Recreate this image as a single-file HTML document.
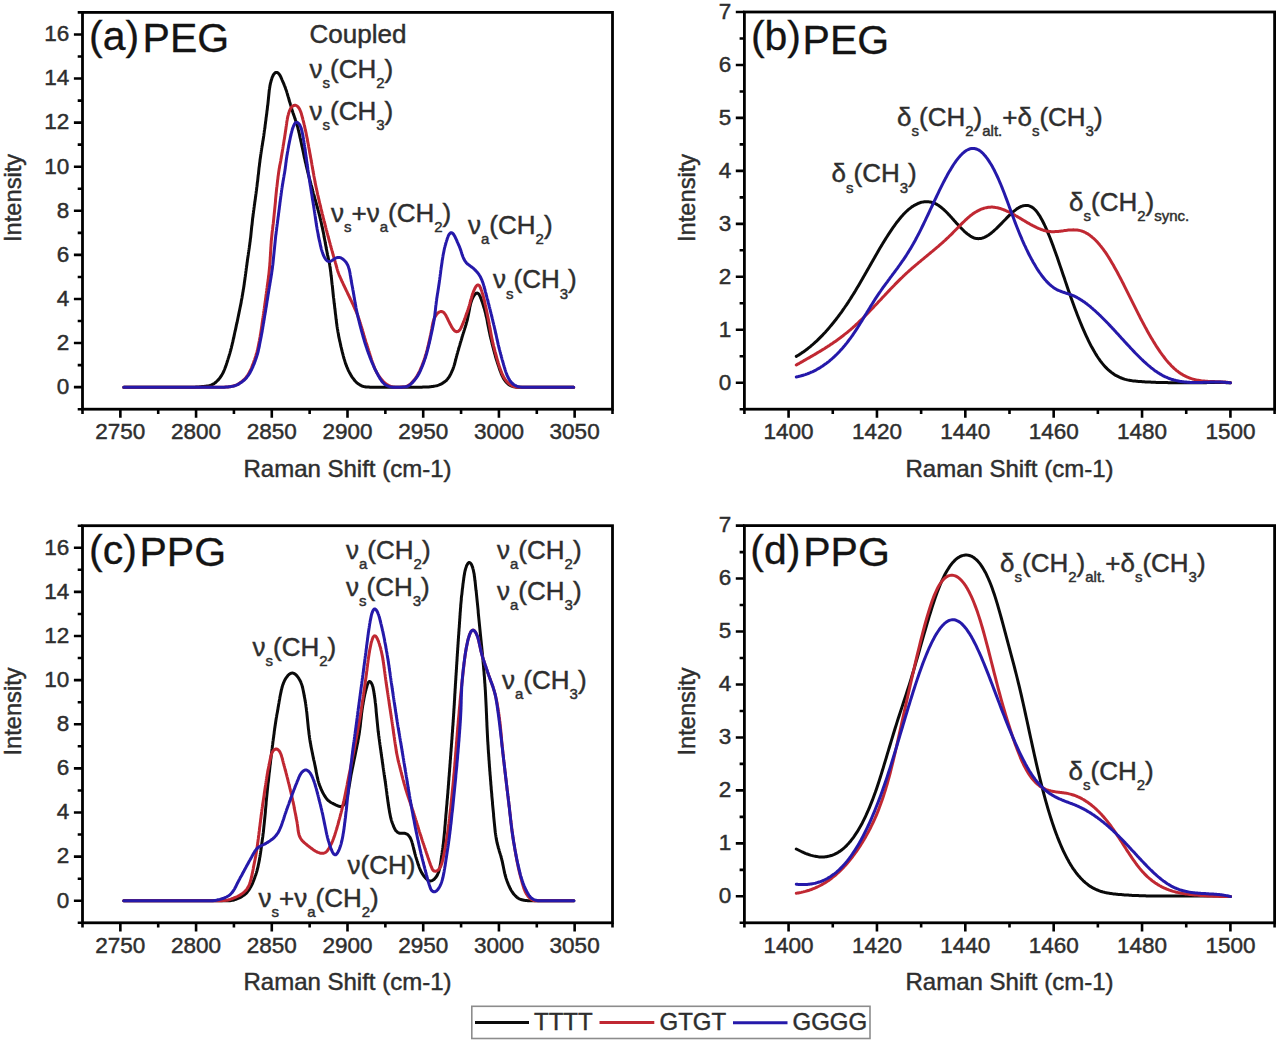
<!DOCTYPE html><html><head><meta charset="utf-8"><style>html,body{margin:0;padding:0;background:#fff;overflow:hidden}svg{display:block}text{font-family:"Liberation Sans", sans-serif;fill:#2e2e2e;stroke:#2e2e2e;stroke-width:0.45px} .tl{font-size:22.5px} .at{font-size:24px} .an{font-size:26px} .pl{font-size:41px;fill:#141414;stroke:#141414;stroke-width:0.3px}</style></head><body>
<svg width="1280" height="1042" viewBox="0 0 1280 1042">
<rect width="1280" height="1042" fill="#fff"/>
<path d="M82.50,409.20V414.00 M120.36,409.20V414.00 M158.21,409.20V414.00 M196.07,409.20V414.00 M233.93,409.20V414.00 M271.79,409.20V414.00 M309.64,409.20V414.00 M347.50,409.20V414.00 M385.36,409.20V414.00 M423.21,409.20V414.00 M461.07,409.20V414.00 M498.93,409.20V414.00 M536.79,409.20V414.00 M574.64,409.20V414.00 M612.50,409.20V414.00 M120.36,409.20V417.80 M196.07,409.20V417.80 M271.79,409.20V417.80 M347.50,409.20V417.80 M423.21,409.20V417.80 M498.93,409.20V417.80 M574.64,409.20V417.80 M82.50,409.20H77.70 M82.50,387.16H77.70 M82.50,365.11H77.70 M82.50,343.07H77.70 M82.50,321.02H77.70 M82.50,298.98H77.70 M82.50,276.93H77.70 M82.50,254.89H77.70 M82.50,232.84H77.70 M82.50,210.80H77.70 M82.50,188.76H77.70 M82.50,166.71H77.70 M82.50,144.67H77.70 M82.50,122.62H77.70 M82.50,100.58H77.70 M82.50,78.53H77.70 M82.50,56.49H77.70 M82.50,34.44H77.70 M82.50,12.40H77.70 M82.50,387.16H73.90 M82.50,343.07H73.90 M82.50,298.98H73.90 M82.50,254.89H73.90 M82.50,210.80H73.90 M82.50,166.71H73.90 M82.50,122.62H73.90 M82.50,78.53H73.90 M82.50,34.44H73.90" stroke="#000" stroke-width="2.6" fill="none"/>
<rect x="82.50" y="12.40" width="530.00" height="396.80" fill="none" stroke="#000" stroke-width="2.8"/>
<text x="120.36" y="439.20" text-anchor="middle" class="tl">2750</text>
<text x="196.07" y="439.20" text-anchor="middle" class="tl">2800</text>
<text x="271.79" y="439.20" text-anchor="middle" class="tl">2850</text>
<text x="347.50" y="439.20" text-anchor="middle" class="tl">2900</text>
<text x="423.21" y="439.20" text-anchor="middle" class="tl">2950</text>
<text x="498.93" y="439.20" text-anchor="middle" class="tl">3000</text>
<text x="574.64" y="439.20" text-anchor="middle" class="tl">3050</text>
<text x="69.20" y="393.96" text-anchor="end" class="tl">0</text>
<text x="69.20" y="349.87" text-anchor="end" class="tl">2</text>
<text x="69.20" y="305.78" text-anchor="end" class="tl">4</text>
<text x="69.20" y="261.69" text-anchor="end" class="tl">6</text>
<text x="69.20" y="217.60" text-anchor="end" class="tl">8</text>
<text x="69.20" y="173.51" text-anchor="end" class="tl">10</text>
<text x="69.20" y="129.42" text-anchor="end" class="tl">12</text>
<text x="69.20" y="85.33" text-anchor="end" class="tl">14</text>
<text x="69.20" y="41.24" text-anchor="end" class="tl">16</text>
<path d="M82.50,922.80V927.60 M120.36,922.80V927.60 M158.21,922.80V927.60 M196.07,922.80V927.60 M233.93,922.80V927.60 M271.79,922.80V927.60 M309.64,922.80V927.60 M347.50,922.80V927.60 M385.36,922.80V927.60 M423.21,922.80V927.60 M461.07,922.80V927.60 M498.93,922.80V927.60 M536.79,922.80V927.60 M574.64,922.80V927.60 M612.50,922.80V927.60 M120.36,922.80V931.40 M196.07,922.80V931.40 M271.79,922.80V931.40 M347.50,922.80V931.40 M423.21,922.80V931.40 M498.93,922.80V931.40 M574.64,922.80V931.40 M82.50,922.80H77.70 M82.50,900.74H77.70 M82.50,878.68H77.70 M82.50,856.62H77.70 M82.50,834.56H77.70 M82.50,812.49H77.70 M82.50,790.43H77.70 M82.50,768.37H77.70 M82.50,746.31H77.70 M82.50,724.25H77.70 M82.50,702.19H77.70 M82.50,680.13H77.70 M82.50,658.07H77.70 M82.50,636.01H77.70 M82.50,613.94H77.70 M82.50,591.88H77.70 M82.50,569.82H77.70 M82.50,547.76H77.70 M82.50,525.70H77.70 M82.50,900.74H73.90 M82.50,856.62H73.90 M82.50,812.49H73.90 M82.50,768.37H73.90 M82.50,724.25H73.90 M82.50,680.13H73.90 M82.50,636.01H73.90 M82.50,591.88H73.90 M82.50,547.76H73.90" stroke="#000" stroke-width="2.6" fill="none"/>
<rect x="82.50" y="525.70" width="530.00" height="397.10" fill="none" stroke="#000" stroke-width="2.8"/>
<text x="120.36" y="952.80" text-anchor="middle" class="tl">2750</text>
<text x="196.07" y="952.80" text-anchor="middle" class="tl">2800</text>
<text x="271.79" y="952.80" text-anchor="middle" class="tl">2850</text>
<text x="347.50" y="952.80" text-anchor="middle" class="tl">2900</text>
<text x="423.21" y="952.80" text-anchor="middle" class="tl">2950</text>
<text x="498.93" y="952.80" text-anchor="middle" class="tl">3000</text>
<text x="574.64" y="952.80" text-anchor="middle" class="tl">3050</text>
<text x="69.20" y="907.54" text-anchor="end" class="tl">0</text>
<text x="69.20" y="863.42" text-anchor="end" class="tl">2</text>
<text x="69.20" y="819.29" text-anchor="end" class="tl">4</text>
<text x="69.20" y="775.17" text-anchor="end" class="tl">6</text>
<text x="69.20" y="731.05" text-anchor="end" class="tl">8</text>
<text x="69.20" y="686.93" text-anchor="end" class="tl">10</text>
<text x="69.20" y="642.81" text-anchor="end" class="tl">12</text>
<text x="69.20" y="598.68" text-anchor="end" class="tl">14</text>
<text x="69.20" y="554.56" text-anchor="end" class="tl">16</text>
<path d="M744.40,409.20V414.00 M788.58,409.20V414.00 M832.77,409.20V414.00 M876.95,409.20V414.00 M921.13,409.20V414.00 M965.32,409.20V414.00 M1009.50,409.20V414.00 M1053.68,409.20V414.00 M1097.87,409.20V414.00 M1142.05,409.20V414.00 M1186.23,409.20V414.00 M1230.42,409.20V414.00 M1274.60,409.20V414.00 M788.58,409.20V417.80 M876.95,409.20V417.80 M965.32,409.20V417.80 M1053.68,409.20V417.80 M1142.05,409.20V417.80 M1230.42,409.20V417.80 M744.40,409.20H739.60 M744.40,382.72H739.60 M744.40,356.24H739.60 M744.40,329.76H739.60 M744.40,303.28H739.60 M744.40,276.80H739.60 M744.40,250.32H739.60 M744.40,223.84H739.60 M744.40,197.36H739.60 M744.40,170.88H739.60 M744.40,144.40H739.60 M744.40,117.92H739.60 M744.40,91.44H739.60 M744.40,64.96H739.60 M744.40,38.48H739.60 M744.40,12.00H739.60 M744.40,382.72H735.80 M744.40,329.76H735.80 M744.40,276.80H735.80 M744.40,223.84H735.80 M744.40,170.88H735.80 M744.40,117.92H735.80 M744.40,64.96H735.80 M744.40,12.00H735.80" stroke="#000" stroke-width="2.6" fill="none"/>
<rect x="744.40" y="12.00" width="530.20" height="397.20" fill="none" stroke="#000" stroke-width="2.8"/>
<text x="788.58" y="439.20" text-anchor="middle" class="tl">1400</text>
<text x="876.95" y="439.20" text-anchor="middle" class="tl">1420</text>
<text x="965.32" y="439.20" text-anchor="middle" class="tl">1440</text>
<text x="1053.68" y="439.20" text-anchor="middle" class="tl">1460</text>
<text x="1142.05" y="439.20" text-anchor="middle" class="tl">1480</text>
<text x="1230.42" y="439.20" text-anchor="middle" class="tl">1500</text>
<text x="731.20" y="389.52" text-anchor="end" class="tl">0</text>
<text x="731.20" y="336.56" text-anchor="end" class="tl">1</text>
<text x="731.20" y="283.60" text-anchor="end" class="tl">2</text>
<text x="731.20" y="230.64" text-anchor="end" class="tl">3</text>
<text x="731.20" y="177.68" text-anchor="end" class="tl">4</text>
<text x="731.20" y="124.72" text-anchor="end" class="tl">5</text>
<text x="731.20" y="71.76" text-anchor="end" class="tl">6</text>
<text x="731.20" y="18.80" text-anchor="end" class="tl">7</text>
<path d="M744.40,922.80V927.60 M788.58,922.80V927.60 M832.77,922.80V927.60 M876.95,922.80V927.60 M921.13,922.80V927.60 M965.32,922.80V927.60 M1009.50,922.80V927.60 M1053.68,922.80V927.60 M1097.87,922.80V927.60 M1142.05,922.80V927.60 M1186.23,922.80V927.60 M1230.42,922.80V927.60 M1274.60,922.80V927.60 M788.58,922.80V931.40 M876.95,922.80V931.40 M965.32,922.80V931.40 M1053.68,922.80V931.40 M1142.05,922.80V931.40 M1230.42,922.80V931.40 M744.40,922.80H739.60 M744.40,896.32H739.60 M744.40,869.84H739.60 M744.40,843.36H739.60 M744.40,816.88H739.60 M744.40,790.40H739.60 M744.40,763.92H739.60 M744.40,737.44H739.60 M744.40,710.96H739.60 M744.40,684.48H739.60 M744.40,658.00H739.60 M744.40,631.52H739.60 M744.40,605.04H739.60 M744.40,578.56H739.60 M744.40,552.08H739.60 M744.40,525.60H739.60 M744.40,896.32H735.80 M744.40,843.36H735.80 M744.40,790.40H735.80 M744.40,737.44H735.80 M744.40,684.48H735.80 M744.40,631.52H735.80 M744.40,578.56H735.80 M744.40,525.60H735.80" stroke="#000" stroke-width="2.6" fill="none"/>
<rect x="744.40" y="525.60" width="530.20" height="397.20" fill="none" stroke="#000" stroke-width="2.8"/>
<text x="788.58" y="952.80" text-anchor="middle" class="tl">1400</text>
<text x="876.95" y="952.80" text-anchor="middle" class="tl">1420</text>
<text x="965.32" y="952.80" text-anchor="middle" class="tl">1440</text>
<text x="1053.68" y="952.80" text-anchor="middle" class="tl">1460</text>
<text x="1142.05" y="952.80" text-anchor="middle" class="tl">1480</text>
<text x="1230.42" y="952.80" text-anchor="middle" class="tl">1500</text>
<text x="731.20" y="903.12" text-anchor="end" class="tl">0</text>
<text x="731.20" y="850.16" text-anchor="end" class="tl">1</text>
<text x="731.20" y="797.20" text-anchor="end" class="tl">2</text>
<text x="731.20" y="744.24" text-anchor="end" class="tl">3</text>
<text x="731.20" y="691.28" text-anchor="end" class="tl">4</text>
<text x="731.20" y="638.32" text-anchor="end" class="tl">5</text>
<text x="731.20" y="585.36" text-anchor="end" class="tl">6</text>
<text x="731.20" y="532.40" text-anchor="end" class="tl">7</text>
<text x="347.5" y="476.6" text-anchor="middle" class="at">Raman Shift (cm-1)</text>
<text x="1009.5" y="476.6" text-anchor="middle" class="at">Raman Shift (cm-1)</text>
<text x="347.5" y="990.2" text-anchor="middle" class="at">Raman Shift (cm-1)</text>
<text x="1009.5" y="990.2" text-anchor="middle" class="at">Raman Shift (cm-1)</text>
<text transform="translate(21.3,197.9) rotate(-90)" x="0" y="0" text-anchor="middle" class="at" style="font-size:23.7px">Intensity</text>
<text transform="translate(694.9,197.9) rotate(-90)" x="0" y="0" text-anchor="middle" class="at" style="font-size:23.7px">Intensity</text>
<text transform="translate(21.3,711.5) rotate(-90)" x="0" y="0" text-anchor="middle" class="at" style="font-size:23.7px">Intensity</text>
<text transform="translate(694.9,711.5) rotate(-90)" x="0" y="0" text-anchor="middle" class="at" style="font-size:23.7px">Intensity</text>
<text x="89.0" y="49.6" class="pl">(a)</text>
<text x="142.6" y="52.0" class="pl">PEG</text>
<text x="750.9" y="49.9" class="pl">(b)</text>
<text x="802.6" y="53.6" class="pl">PEG</text>
<text x="89.0" y="563.8" class="pl">(c)</text>
<text x="139.5" y="566.2" class="pl">PPG</text>
<text x="750.3" y="563.8" class="pl">(d)</text>
<text x="803.2" y="566.2" class="pl">PPG</text>
<path d="M123.8,387.2 L124.4,387.2 L125.2,387.2 L126.1,387.2 L127.0,387.2 L128.0,387.2 L129.0,387.2 L130.0,387.2 L131.0,387.2 L132.0,387.2 L133.0,387.2 L134.0,387.2 L135.0,387.2 L136.0,387.2 L137.0,387.2 L138.0,387.2 L139.0,387.2 L140.0,387.2 L141.0,387.2 L142.0,387.2 L143.0,387.2 L144.0,387.2 L145.0,387.2 L146.0,387.2 L147.0,387.2 L148.0,387.2 L149.0,387.2 L150.0,387.2 L151.0,387.2 L152.0,387.2 L153.0,387.2 L154.0,387.2 L155.0,387.2 L156.0,387.2 L157.0,387.2 L158.0,387.2 L159.0,387.2 L160.0,387.2 L161.0,387.2 L162.0,387.2 L163.0,387.2 L164.0,387.2 L165.0,387.2 L166.0,387.2 L167.0,387.2 L168.0,387.2 L169.0,387.2 L170.0,387.2 L171.0,387.2 L172.0,387.2 L173.0,387.2 L174.0,387.2 L175.0,387.2 L176.0,387.2 L177.0,387.2 L178.0,387.2 L179.0,387.2 L180.0,387.2 L181.0,387.2 L182.0,387.2 L183.0,387.2 L184.0,387.2 L185.0,387.2 L186.0,387.2 L187.0,387.2 L188.0,387.2 L189.0,387.2 L190.0,387.2 L191.0,387.2 L192.0,387.2 L193.0,387.2 L194.0,387.2 L195.0,387.2 L196.0,387.1 L197.0,387.1 L198.0,387.0 L199.0,386.9 L200.0,386.8 L201.0,386.7 L202.0,386.6 L203.0,386.5 L204.0,386.4 L205.0,386.3 L205.9,386.2 L206.9,386.1 L207.9,386.0 L208.9,385.8 L209.9,385.5 L210.8,385.2 L211.7,384.9 L212.6,384.4 L213.5,383.9 L214.3,383.4 L215.1,382.8 L215.9,382.2 L216.6,381.5 L217.3,380.8 L218.0,380.1 L218.7,379.4 L219.3,378.6 L219.9,377.8 L220.5,377.0 L221.1,376.2 L221.6,375.3 L222.1,374.5 L222.6,373.6 L223.1,372.7 L223.5,371.8 L223.9,370.9 L224.3,370.0 L224.7,369.0 L225.0,368.1 L225.4,367.2 L225.7,366.2 L226.1,365.3 L226.4,364.3 L226.7,363.4 L227.0,362.5 L227.3,361.5 L227.6,360.5 L227.9,359.6 L228.2,358.6 L228.5,357.7 L228.8,356.7 L229.1,355.8 L229.4,354.8 L229.7,353.9 L230.0,352.9 L230.2,351.9 L230.5,351.0 L230.8,350.0 L231.0,349.0 L231.3,348.1 L231.5,347.1 L231.7,346.1 L232.0,345.2 L232.2,344.2 L232.4,343.2 L232.7,342.2 L232.9,341.3 L233.1,340.3 L233.3,339.3 L233.6,338.3 L233.8,337.4 L234.0,336.4 L234.2,335.4 L234.4,334.4 L234.6,333.5 L234.8,332.5 L235.0,331.5 L235.3,330.5 L235.5,329.5 L235.7,328.6 L235.9,327.6 L236.1,326.6 L236.3,325.6 L236.5,324.7 L236.7,323.7 L237.0,322.7 L237.2,321.7 L237.4,320.7 L237.6,319.8 L237.8,318.8 L238.0,317.8 L238.2,316.8 L238.4,315.9 L238.6,314.9 L238.8,313.9 L239.0,312.9 L239.2,311.9 L239.4,311.0 L239.6,310.0 L239.8,309.0 L240.0,308.0 L240.2,307.0 L240.4,306.1 L240.6,305.1 L240.8,304.1 L241.0,303.1 L241.2,302.1 L241.3,301.1 L241.5,300.2 L241.7,299.2 L241.9,298.2 L242.1,297.2 L242.2,296.2 L242.4,295.2 L242.6,294.3 L242.7,293.3 L242.9,292.3 L243.1,291.3 L243.2,290.3 L243.4,289.3 L243.6,288.3 L243.7,287.3 L243.9,286.4 L244.0,285.4 L244.2,284.4 L244.3,283.4 L244.4,282.4 L244.6,281.4 L244.7,280.4 L244.9,279.4 L245.0,278.4 L245.1,277.4 L245.3,276.5 L245.4,275.5 L245.5,274.5 L245.7,273.5 L245.8,272.5 L245.9,271.5 L246.1,270.5 L246.2,269.5 L246.3,268.5 L246.5,267.5 L246.6,266.5 L246.7,265.6 L246.9,264.6 L247.0,263.6 L247.1,262.6 L247.3,261.6 L247.4,260.6 L247.5,259.6 L247.7,258.6 L247.8,257.6 L248.0,256.6 L248.1,255.7 L248.3,254.7 L248.4,253.7 L248.5,252.7 L248.7,251.7 L248.8,250.7 L249.0,249.7 L249.1,248.7 L249.3,247.7 L249.4,246.7 L249.5,245.8 L249.7,244.8 L249.8,243.8 L249.9,242.8 L250.1,241.8 L250.2,240.8 L250.3,239.8 L250.4,238.8 L250.6,237.8 L250.7,236.8 L250.8,235.8 L250.9,234.8 L251.0,233.8 L251.1,232.8 L251.2,231.9 L251.3,230.9 L251.4,229.9 L251.5,228.9 L251.6,227.9 L251.7,226.9 L251.8,225.9 L252.0,224.9 L252.1,223.9 L252.2,222.9 L252.3,221.9 L252.4,220.9 L252.5,219.9 L252.6,218.9 L252.7,217.9 L252.9,216.9 L253.0,216.0 L253.1,215.0 L253.2,214.0 L253.4,213.0 L253.5,212.0 L253.6,211.0 L253.8,210.0 L253.9,209.0 L254.0,208.0 L254.2,207.0 L254.3,206.0 L254.4,205.0 L254.6,204.1 L254.7,203.1 L254.8,202.1 L255.0,201.1 L255.1,200.1 L255.3,199.1 L255.4,198.1 L255.5,197.1 L255.7,196.1 L255.8,195.1 L255.9,194.2 L256.1,193.2 L256.2,192.2 L256.3,191.2 L256.5,190.2 L256.6,189.2 L256.7,188.2 L256.8,187.2 L257.0,186.2 L257.1,185.2 L257.2,184.2 L257.3,183.2 L257.4,182.2 L257.6,181.3 L257.7,180.3 L257.8,179.3 L257.9,178.3 L258.0,177.3 L258.1,176.3 L258.2,175.3 L258.4,174.3 L258.5,173.3 L258.6,172.3 L258.7,171.3 L258.8,170.3 L258.9,169.3 L259.0,168.3 L259.1,167.3 L259.3,166.4 L259.4,165.4 L259.5,164.4 L259.6,163.4 L259.8,162.4 L259.9,161.4 L260.0,160.4 L260.1,159.4 L260.3,158.4 L260.4,157.4 L260.6,156.4 L260.7,155.4 L260.8,154.5 L261.0,153.5 L261.1,152.5 L261.3,151.5 L261.4,150.5 L261.6,149.5 L261.7,148.5 L261.9,147.5 L262.0,146.5 L262.2,145.6 L262.4,144.6 L262.5,143.6 L262.7,142.6 L262.8,141.6 L263.0,140.6 L263.2,139.6 L263.3,138.6 L263.5,137.7 L263.6,136.7 L263.8,135.7 L263.9,134.7 L264.0,133.7 L264.2,132.7 L264.3,131.7 L264.4,130.7 L264.6,129.7 L264.7,128.7 L264.9,127.8 L265.0,126.8 L265.1,125.8 L265.2,124.8 L265.4,123.8 L265.5,122.8 L265.6,121.8 L265.8,120.8 L265.9,119.8 L266.0,118.8 L266.1,117.8 L266.3,116.8 L266.4,115.9 L266.5,114.9 L266.7,113.9 L266.8,112.9 L266.9,111.9 L267.0,110.9 L267.2,109.9 L267.3,108.9 L267.4,107.9 L267.5,106.9 L267.6,105.9 L267.8,104.9 L267.9,103.9 L268.0,103.0 L268.1,102.0 L268.2,101.0 L268.3,100.0 L268.4,99.0 L268.5,98.0 L268.6,97.0 L268.7,96.0 L268.8,95.0 L268.9,94.0 L269.0,93.0 L269.1,92.0 L269.2,91.0 L269.3,90.0 L269.5,89.0 L269.6,88.0 L269.8,87.1 L269.9,86.1 L270.1,85.1 L270.3,84.1 L270.5,83.1 L270.8,82.2 L271.0,81.2 L271.3,80.2 L271.6,79.3 L271.9,78.3 L272.2,77.4 L272.6,76.5 L273.1,75.6 L273.5,74.7 L274.1,73.9 L274.7,73.2 L275.3,72.7 L276.1,72.4 L276.8,72.4 L277.6,72.7 L278.3,73.2 L278.9,73.8 L279.5,74.6 L280.0,75.4 L280.5,76.3 L280.9,77.2 L281.3,78.1 L281.7,79.0 L282.1,80.0 L282.5,80.9 L282.9,81.8 L283.3,82.7 L283.7,83.6 L284.1,84.6 L284.4,85.5 L284.8,86.4 L285.2,87.4 L285.5,88.3 L285.8,89.2 L286.2,90.2 L286.5,91.1 L286.8,92.1 L287.1,93.1 L287.4,94.0 L287.6,95.0 L287.9,95.9 L288.2,96.9 L288.5,97.8 L288.8,98.8 L289.0,99.8 L289.3,100.7 L289.6,101.7 L289.9,102.6 L290.2,103.6 L290.5,104.6 L290.8,105.5 L291.1,106.5 L291.4,107.4 L291.6,108.4 L291.9,109.3 L292.2,110.3 L292.5,111.2 L292.8,112.2 L293.1,113.2 L293.4,114.1 L293.8,115.1 L294.1,116.0 L294.4,116.9 L294.7,117.9 L295.1,118.8 L295.4,119.8 L295.7,120.7 L296.0,121.7 L296.4,122.6 L296.7,123.6 L296.9,124.5 L297.2,125.5 L297.5,126.5 L297.8,127.4 L298.0,128.4 L298.2,129.4 L298.5,130.3 L298.7,131.3 L298.9,132.3 L299.2,133.2 L299.4,134.2 L299.6,135.2 L299.8,136.2 L300.0,137.2 L300.2,138.1 L300.5,139.1 L300.7,140.1 L300.9,141.1 L301.1,142.0 L301.3,143.0 L301.5,144.0 L301.7,145.0 L301.9,145.9 L302.1,146.9 L302.4,147.9 L302.6,148.9 L302.8,149.9 L303.0,150.8 L303.2,151.8 L303.4,152.8 L303.6,153.8 L303.8,154.8 L304.0,155.7 L304.2,156.7 L304.4,157.7 L304.7,158.7 L304.9,159.6 L305.1,160.6 L305.3,161.6 L305.5,162.6 L305.8,163.5 L306.0,164.5 L306.2,165.5 L306.4,166.5 L306.7,167.4 L306.9,168.4 L307.1,169.4 L307.4,170.4 L307.6,171.3 L307.8,172.3 L308.1,173.3 L308.3,174.2 L308.6,175.2 L308.8,176.2 L309.1,177.1 L309.3,178.1 L309.6,179.1 L309.8,180.0 L310.1,181.0 L310.3,182.0 L310.6,182.9 L310.9,183.9 L311.1,184.9 L311.4,185.8 L311.7,186.8 L311.9,187.8 L312.2,188.7 L312.4,189.7 L312.7,190.7 L313.0,191.6 L313.2,192.6 L313.5,193.6 L313.8,194.5 L314.0,195.5 L314.3,196.4 L314.6,197.4 L314.8,198.4 L315.1,199.3 L315.4,200.3 L315.6,201.3 L315.9,202.2 L316.2,203.2 L316.4,204.2 L316.7,205.1 L317.0,206.1 L317.2,207.0 L317.5,208.0 L317.8,209.0 L318.0,209.9 L318.3,210.9 L318.5,211.9 L318.8,212.8 L319.1,213.8 L319.3,214.8 L319.6,215.7 L319.8,216.7 L320.0,217.7 L320.3,218.7 L320.5,219.6 L320.7,220.6 L321.0,221.6 L321.2,222.5 L321.4,223.5 L321.6,224.5 L321.8,225.5 L322.0,226.5 L322.3,227.4 L322.5,228.4 L322.7,229.4 L322.9,230.4 L323.1,231.3 L323.3,232.3 L323.5,233.3 L323.7,234.3 L323.9,235.3 L324.0,236.3 L324.2,237.2 L324.4,238.2 L324.6,239.2 L324.8,240.2 L325.0,241.2 L325.2,242.1 L325.3,243.1 L325.5,244.1 L325.7,245.1 L325.9,246.1 L326.1,247.1 L326.2,248.1 L326.4,249.0 L326.6,250.0 L326.8,251.0 L327.0,252.0 L327.2,253.0 L327.3,253.9 L327.5,254.9 L327.8,255.9 L328.0,256.9 L328.2,257.9 L328.4,258.8 L328.6,259.8 L328.9,260.8 L329.1,261.8 L329.3,262.7 L329.5,263.7 L329.7,264.7 L329.8,265.7 L330.0,266.7 L330.1,267.7 L330.3,268.6 L330.4,269.6 L330.5,270.6 L330.7,271.6 L330.8,272.6 L330.9,273.6 L331.0,274.6 L331.1,275.6 L331.3,276.6 L331.4,277.6 L331.5,278.6 L331.6,279.6 L331.7,280.6 L331.8,281.6 L331.9,282.6 L332.0,283.5 L332.1,284.5 L332.3,285.5 L332.4,286.5 L332.5,287.5 L332.6,288.5 L332.7,289.5 L332.8,290.5 L332.9,291.5 L333.0,292.5 L333.1,293.5 L333.2,294.5 L333.3,295.5 L333.4,296.5 L333.5,297.5 L333.7,298.5 L333.8,299.4 L333.9,300.4 L334.0,301.4 L334.1,302.4 L334.2,303.4 L334.4,304.4 L334.5,305.4 L334.6,306.4 L334.7,307.4 L334.8,308.4 L335.0,309.4 L335.1,310.4 L335.2,311.4 L335.3,312.4 L335.4,313.4 L335.5,314.3 L335.7,315.3 L335.8,316.3 L335.9,317.3 L336.0,318.3 L336.1,319.3 L336.3,320.3 L336.4,321.3 L336.5,322.3 L336.6,323.3 L336.8,324.3 L336.9,325.3 L337.0,326.2 L337.2,327.2 L337.3,328.2 L337.5,329.2 L337.7,330.2 L337.8,331.2 L338.0,332.2 L338.2,333.2 L338.4,334.1 L338.5,335.1 L338.7,336.1 L338.9,337.1 L339.1,338.1 L339.3,339.0 L339.5,340.0 L339.7,341.0 L340.0,342.0 L340.2,343.0 L340.4,343.9 L340.6,344.9 L340.8,345.9 L341.0,346.9 L341.3,347.8 L341.5,348.8 L341.7,349.8 L342.0,350.8 L342.2,351.7 L342.5,352.7 L342.7,353.7 L343.0,354.6 L343.2,355.6 L343.5,356.6 L343.7,357.5 L344.0,358.5 L344.3,359.4 L344.6,360.4 L344.9,361.4 L345.2,362.3 L345.5,363.3 L345.8,364.2 L346.2,365.1 L346.5,366.1 L346.9,367.0 L347.3,367.9 L347.7,368.8 L348.1,369.8 L348.5,370.7 L349.0,371.6 L349.4,372.4 L349.9,373.3 L350.4,374.2 L350.9,375.1 L351.4,375.9 L351.9,376.8 L352.5,377.6 L353.1,378.4 L353.7,379.2 L354.3,380.0 L354.9,380.8 L355.6,381.5 L356.3,382.2 L357.0,382.9 L357.8,383.5 L358.6,384.1 L359.4,384.6 L360.3,385.1 L361.1,385.6 L362.1,386.0 L363.0,386.3 L363.9,386.6 L364.9,386.8 L365.9,387.0 L366.9,387.1 L367.9,387.1 L368.9,387.1 L369.9,387.2 L370.9,387.2 L371.9,387.2 L372.9,387.2 L373.9,387.2 L374.9,387.2 L375.9,387.2 L376.9,387.2 L377.9,387.2 L378.9,387.2 L379.9,387.2 L380.9,387.2 L381.9,387.2 L382.9,387.2 L383.9,387.2 L384.9,387.2 L385.9,387.2 L386.9,387.2 L387.9,387.2 L388.9,387.2 L389.9,387.2 L390.9,387.2 L391.9,387.2 L392.9,387.2 L393.9,387.2 L394.9,387.2 L395.9,387.2 L396.9,387.2 L397.9,387.2 L398.9,387.2 L399.9,387.2 L400.9,387.2 L401.9,387.2 L402.9,387.2 L403.9,387.2 L404.9,387.2 L405.9,387.2 L406.9,387.2 L407.9,387.2 L408.9,387.2 L409.9,387.2 L410.9,387.2 L411.9,387.2 L412.9,387.2 L413.9,387.2 L414.9,387.2 L415.9,387.2 L416.9,387.2 L417.9,387.2 L418.9,387.2 L419.9,387.2 L420.9,387.2 L421.9,387.2 L422.9,387.1 L423.9,387.1 L424.9,387.1 L425.9,387.0 L426.9,387.0 L427.9,387.0 L428.9,386.9 L429.9,386.8 L430.9,386.7 L431.8,386.6 L432.8,386.5 L433.8,386.3 L434.8,386.1 L435.8,385.9 L436.7,385.7 L437.7,385.4 L438.6,385.1 L439.6,384.7 L440.5,384.3 L441.4,383.9 L442.2,383.4 L443.1,382.9 L443.9,382.3 L444.7,381.7 L445.5,381.1 L446.3,380.5 L446.9,379.7 L447.6,379.0 L448.2,378.2 L448.8,377.4 L449.3,376.6 L449.8,375.7 L450.3,374.8 L450.8,373.9 L451.2,373.0 L451.6,372.1 L452.0,371.2 L452.4,370.3 L452.8,369.4 L453.2,368.4 L453.5,367.5 L453.8,366.6 L454.1,365.6 L454.4,364.7 L454.7,363.7 L454.9,362.7 L455.2,361.8 L455.4,360.8 L455.7,359.8 L455.9,358.8 L456.2,357.9 L456.4,356.9 L456.7,355.9 L456.9,355.0 L457.2,354.0 L457.5,353.1 L457.7,352.1 L458.0,351.1 L458.3,350.2 L458.6,349.2 L458.8,348.2 L459.1,347.3 L459.4,346.3 L459.7,345.4 L460.0,344.4 L460.2,343.4 L460.5,342.5 L460.8,341.5 L461.1,340.6 L461.4,339.6 L461.7,338.7 L461.9,337.7 L462.2,336.7 L462.5,335.8 L462.8,334.8 L463.1,333.9 L463.4,332.9 L463.7,332.0 L464.0,331.0 L464.3,330.1 L464.6,329.1 L464.9,328.1 L465.2,327.2 L465.5,326.2 L465.8,325.3 L466.1,324.3 L466.3,323.4 L466.6,322.4 L466.9,321.4 L467.1,320.5 L467.4,319.5 L467.6,318.5 L467.8,317.5 L468.0,316.6 L468.2,315.6 L468.4,314.6 L468.6,313.6 L468.8,312.6 L469.0,311.7 L469.2,310.7 L469.4,309.7 L469.6,308.7 L469.7,307.7 L469.9,306.7 L470.2,305.8 L470.4,304.8 L470.6,303.8 L470.9,302.9 L471.2,301.9 L471.5,301.0 L471.8,300.0 L472.2,299.1 L472.6,298.2 L473.0,297.3 L473.5,296.4 L474.0,295.6 L474.6,294.8 L475.2,294.1 L475.8,293.5 L476.5,293.2 L477.3,293.1 L478.0,293.4 L478.6,293.9 L479.2,294.6 L479.6,295.4 L480.1,296.3 L480.5,297.2 L480.8,298.2 L481.2,299.1 L481.5,300.0 L481.8,301.0 L482.2,301.9 L482.5,302.9 L482.8,303.8 L483.1,304.8 L483.4,305.7 L483.7,306.7 L484.0,307.7 L484.3,308.6 L484.6,309.6 L484.8,310.5 L485.1,311.5 L485.3,312.5 L485.6,313.4 L485.8,314.4 L486.0,315.4 L486.2,316.4 L486.5,317.3 L486.7,318.3 L486.9,319.3 L487.1,320.3 L487.3,321.3 L487.4,322.2 L487.6,323.2 L487.8,324.2 L488.0,325.2 L488.2,326.2 L488.4,327.1 L488.6,328.1 L488.8,329.1 L489.0,330.1 L489.2,331.1 L489.4,332.0 L489.6,333.0 L489.8,334.0 L490.0,335.0 L490.2,336.0 L490.5,336.9 L490.7,337.9 L490.9,338.9 L491.2,339.8 L491.4,340.8 L491.7,341.8 L491.9,342.8 L492.1,343.7 L492.4,344.7 L492.6,345.7 L492.9,346.6 L493.1,347.6 L493.4,348.6 L493.6,349.5 L493.9,350.5 L494.1,351.5 L494.4,352.4 L494.6,353.4 L494.9,354.4 L495.2,355.3 L495.4,356.3 L495.7,357.3 L496.0,358.2 L496.3,359.2 L496.6,360.1 L496.9,361.1 L497.2,362.0 L497.5,363.0 L497.8,363.9 L498.1,364.9 L498.4,365.8 L498.8,366.8 L499.1,367.7 L499.4,368.7 L499.7,369.6 L500.1,370.6 L500.4,371.5 L500.8,372.4 L501.1,373.4 L501.5,374.3 L501.9,375.2 L502.3,376.1 L502.8,377.0 L503.2,377.9 L503.7,378.8 L504.3,379.6 L504.8,380.4 L505.4,381.2 L506.1,382.0 L506.7,382.7 L507.5,383.4 L508.2,384.1 L509.0,384.7 L509.8,385.2 L510.7,385.7 L511.6,386.1 L512.5,386.4 L513.5,386.7 L514.4,386.9 L515.4,387.1 L516.4,387.2 L517.4,387.2 L518.4,387.2 L519.4,387.2 L520.4,387.2 L521.4,387.2 L522.4,387.2 L523.4,387.2 L524.4,387.2 L525.4,387.2 L526.4,387.2 L527.4,387.2 L528.4,387.2 L529.4,387.2 L530.4,387.2 L531.4,387.2 L532.4,387.2 L533.4,387.2 L534.4,387.2 L535.4,387.2 L536.4,387.2 L537.4,387.2 L538.4,387.2 L539.4,387.2 L540.4,387.2 L541.4,387.2 L542.4,387.2 L543.4,387.2 L544.4,387.2 L545.4,387.2 L546.4,387.2 L547.4,387.2 L548.4,387.2 L549.4,387.2 L550.4,387.2 L551.4,387.2 L552.4,387.2 L553.4,387.2 L554.4,387.2 L555.4,387.2 L556.4,387.2 L557.4,387.2 L558.4,387.2 L559.4,387.2 L560.4,387.2 L561.4,387.2 L562.4,387.2 L563.4,387.2 L564.4,387.2 L565.4,387.2 L566.4,387.2 L567.4,387.2 L568.4,387.2 L569.4,387.2 L570.4,387.2 L571.3,387.2 L572.2,387.2 L573.0,387.2 L573.6,387.2" fill="none" stroke="#0a0a0a" stroke-width="3.0" stroke-linejoin="round" stroke-linecap="round"/>
<path d="M123.8,387.2 L124.4,387.2 L125.2,387.2 L126.1,387.2 L127.0,387.2 L128.0,387.2 L129.0,387.2 L130.0,387.2 L131.0,387.2 L132.0,387.2 L133.0,387.2 L134.0,387.2 L135.0,387.2 L136.0,387.2 L137.0,387.2 L138.0,387.2 L139.0,387.2 L140.0,387.2 L141.0,387.2 L142.0,387.2 L143.0,387.2 L144.0,387.2 L145.0,387.2 L146.0,387.2 L147.0,387.2 L148.0,387.2 L149.0,387.2 L150.0,387.2 L151.0,387.2 L152.0,387.2 L153.0,387.2 L154.0,387.2 L155.0,387.2 L156.0,387.2 L157.0,387.2 L158.0,387.2 L159.0,387.2 L160.0,387.2 L161.0,387.2 L162.0,387.2 L163.0,387.2 L164.0,387.2 L165.0,387.2 L166.0,387.2 L167.0,387.2 L168.0,387.2 L169.0,387.2 L170.0,387.2 L171.0,387.2 L172.0,387.2 L173.0,387.2 L174.0,387.2 L175.0,387.2 L176.0,387.2 L177.0,387.2 L178.0,387.2 L179.0,387.2 L180.0,387.2 L181.0,387.2 L182.0,387.2 L183.0,387.2 L184.0,387.2 L185.0,387.2 L186.0,387.2 L187.0,387.2 L188.0,387.2 L189.0,387.2 L190.0,387.2 L191.0,387.2 L192.0,387.2 L193.0,387.2 L194.0,387.2 L195.0,387.2 L196.0,387.2 L197.0,387.2 L198.0,387.2 L199.0,387.2 L200.0,387.2 L201.0,387.2 L202.0,387.2 L203.0,387.2 L204.0,387.2 L205.0,387.2 L206.0,387.2 L207.0,387.2 L208.0,387.2 L209.0,387.2 L210.0,387.2 L211.0,387.2 L212.0,387.2 L213.0,387.2 L214.0,387.2 L215.0,387.2 L216.0,387.2 L217.0,387.2 L218.0,387.2 L219.0,387.2 L220.0,387.2 L221.0,387.2 L222.0,387.2 L223.0,387.2 L224.0,387.2 L225.0,387.1 L226.0,387.1 L227.0,387.0 L228.0,386.9 L229.0,386.8 L230.0,386.7 L231.0,386.5 L231.9,386.3 L232.9,386.1 L233.9,385.8 L234.8,385.5 L235.7,385.2 L236.7,384.8 L237.6,384.4 L238.4,383.9 L239.3,383.4 L240.1,382.8 L240.9,382.2 L241.7,381.6 L242.5,381.0 L243.2,380.3 L244.0,379.7 L244.7,379.0 L245.4,378.2 L246.0,377.5 L246.6,376.7 L247.2,375.9 L247.8,375.1 L248.3,374.2 L248.8,373.4 L249.3,372.5 L249.8,371.6 L250.2,370.7 L250.6,369.8 L251.1,368.9 L251.5,368.0 L251.8,367.1 L252.2,366.1 L252.6,365.2 L252.9,364.3 L253.3,363.3 L253.6,362.4 L254.0,361.4 L254.3,360.5 L254.6,359.6 L254.9,358.6 L255.3,357.7 L255.6,356.7 L255.9,355.8 L256.2,354.8 L256.4,353.8 L256.7,352.9 L257.0,351.9 L257.2,350.9 L257.5,350.0 L257.7,349.0 L257.9,348.0 L258.1,347.0 L258.3,346.1 L258.5,345.1 L258.7,344.1 L258.9,343.1 L259.1,342.1 L259.3,341.2 L259.5,340.2 L259.6,339.2 L259.8,338.2 L260.0,337.2 L260.2,336.2 L260.3,335.3 L260.5,334.3 L260.7,333.3 L260.8,332.3 L261.0,331.3 L261.1,330.3 L261.3,329.3 L261.4,328.3 L261.6,327.4 L261.7,326.4 L261.9,325.4 L262.0,324.4 L262.1,323.4 L262.3,322.4 L262.4,321.4 L262.6,320.4 L262.7,319.4 L262.8,318.4 L263.0,317.5 L263.1,316.5 L263.3,315.5 L263.4,314.5 L263.6,313.5 L263.7,312.5 L263.8,311.5 L264.0,310.5 L264.1,309.5 L264.3,308.5 L264.4,307.6 L264.5,306.6 L264.7,305.6 L264.8,304.6 L264.9,303.6 L265.1,302.6 L265.2,301.6 L265.4,300.6 L265.5,299.6 L265.6,298.6 L265.8,297.6 L265.9,296.7 L266.0,295.7 L266.1,294.7 L266.3,293.7 L266.4,292.7 L266.5,291.7 L266.7,290.7 L266.8,289.7 L266.9,288.7 L267.1,287.7 L267.2,286.7 L267.3,285.8 L267.5,284.8 L267.6,283.8 L267.7,282.8 L267.9,281.8 L268.0,280.8 L268.1,279.8 L268.3,278.8 L268.4,277.8 L268.5,276.8 L268.6,275.8 L268.8,274.8 L268.9,273.9 L269.0,272.9 L269.1,271.9 L269.2,270.9 L269.3,269.9 L269.4,268.9 L269.5,267.9 L269.6,266.9 L269.7,265.9 L269.8,264.9 L269.8,263.9 L269.9,262.9 L270.0,261.9 L270.1,260.9 L270.1,259.9 L270.2,258.9 L270.2,257.9 L270.3,256.9 L270.4,255.9 L270.4,254.9 L270.5,253.9 L270.5,252.9 L270.6,251.9 L270.7,250.9 L270.7,249.9 L270.8,248.9 L270.8,247.9 L270.9,246.9 L271.0,245.9 L271.0,244.9 L271.1,243.9 L271.2,242.9 L271.2,241.9 L271.3,240.9 L271.4,240.0 L271.5,239.0 L271.6,238.0 L271.7,237.0 L271.8,236.0 L271.9,235.0 L272.0,234.0 L272.1,233.0 L272.2,232.0 L272.3,231.0 L272.5,230.0 L272.6,229.0 L272.7,228.0 L272.8,227.0 L272.9,226.0 L273.0,225.0 L273.2,224.0 L273.3,223.1 L273.4,222.1 L273.5,221.1 L273.6,220.1 L273.7,219.1 L273.8,218.1 L273.9,217.1 L274.0,216.1 L274.1,215.1 L274.2,214.1 L274.3,213.1 L274.4,212.1 L274.5,211.1 L274.6,210.1 L274.7,209.1 L274.8,208.1 L274.9,207.1 L275.0,206.1 L275.1,205.1 L275.2,204.2 L275.3,203.2 L275.4,202.2 L275.5,201.2 L275.5,200.2 L275.6,199.2 L275.7,198.2 L275.8,197.2 L275.9,196.2 L276.0,195.2 L276.1,194.2 L276.2,193.2 L276.3,192.2 L276.4,191.2 L276.5,190.2 L276.6,189.2 L276.7,188.2 L276.8,187.2 L277.0,186.2 L277.1,185.2 L277.2,184.3 L277.3,183.3 L277.4,182.3 L277.5,181.3 L277.6,180.3 L277.8,179.3 L277.9,178.3 L278.0,177.3 L278.1,176.3 L278.3,175.3 L278.4,174.3 L278.5,173.3 L278.7,172.3 L278.8,171.4 L279.0,170.4 L279.1,169.4 L279.3,168.4 L279.5,167.4 L279.6,166.4 L279.8,165.4 L280.0,164.5 L280.2,163.5 L280.4,162.5 L280.6,161.5 L280.8,160.5 L280.9,159.5 L281.1,158.6 L281.3,157.6 L281.4,156.6 L281.6,155.6 L281.8,154.6 L281.9,153.6 L282.1,152.6 L282.3,151.7 L282.4,150.7 L282.6,149.7 L282.8,148.7 L282.9,147.7 L283.1,146.7 L283.2,145.7 L283.4,144.8 L283.6,143.8 L283.7,142.8 L283.9,141.8 L284.0,140.8 L284.2,139.8 L284.4,138.8 L284.5,137.8 L284.7,136.9 L284.8,135.9 L285.0,134.9 L285.1,133.9 L285.3,132.9 L285.4,131.9 L285.6,130.9 L285.7,129.9 L285.9,128.9 L286.0,128.0 L286.1,127.0 L286.3,126.0 L286.4,125.0 L286.6,124.0 L286.7,123.0 L286.8,122.0 L287.0,121.0 L287.2,120.0 L287.3,119.1 L287.5,118.1 L287.7,117.1 L287.9,116.1 L288.2,115.1 L288.4,114.2 L288.7,113.2 L289.0,112.3 L289.3,111.3 L289.7,110.4 L290.1,109.5 L290.5,108.6 L291.1,107.8 L291.7,107.0 L292.4,106.4 L293.1,105.8 L293.9,105.5 L294.8,105.3 L295.6,105.3 L296.5,105.6 L297.2,106.1 L297.9,106.8 L298.5,107.5 L299.1,108.3 L299.6,109.2 L300.0,110.1 L300.4,111.0 L300.7,111.9 L301.1,112.9 L301.4,113.8 L301.6,114.8 L301.9,115.7 L302.2,116.7 L302.4,117.7 L302.7,118.6 L302.9,119.6 L303.2,120.6 L303.4,121.5 L303.7,122.5 L303.9,123.5 L304.1,124.4 L304.4,125.4 L304.6,126.4 L304.8,127.4 L305.0,128.3 L305.2,129.3 L305.4,130.3 L305.7,131.3 L305.9,132.3 L306.1,133.2 L306.3,134.2 L306.5,135.2 L306.7,136.2 L306.9,137.2 L307.1,138.1 L307.3,139.1 L307.5,140.1 L307.6,141.1 L307.8,142.1 L308.0,143.0 L308.2,144.0 L308.4,145.0 L308.6,146.0 L308.7,147.0 L308.9,148.0 L309.1,148.9 L309.3,149.9 L309.5,150.9 L309.6,151.9 L309.8,152.9 L310.0,153.9 L310.2,154.8 L310.4,155.8 L310.5,156.8 L310.7,157.8 L310.9,158.8 L311.1,159.8 L311.2,160.8 L311.4,161.7 L311.6,162.7 L311.8,163.7 L311.9,164.7 L312.1,165.7 L312.3,166.7 L312.4,167.6 L312.6,168.6 L312.8,169.6 L313.0,170.6 L313.1,171.6 L313.3,172.6 L313.5,173.6 L313.7,174.5 L313.8,175.5 L314.0,176.5 L314.2,177.5 L314.4,178.5 L314.6,179.5 L314.8,180.4 L314.9,181.4 L315.1,182.4 L315.3,183.4 L315.5,184.4 L315.7,185.3 L315.9,186.3 L316.1,187.3 L316.3,188.3 L316.5,189.3 L316.8,190.2 L317.0,191.2 L317.2,192.2 L317.4,193.2 L317.6,194.1 L317.8,195.1 L318.1,196.1 L318.3,197.1 L318.5,198.0 L318.7,199.0 L319.0,200.0 L319.2,201.0 L319.4,201.9 L319.6,202.9 L319.9,203.9 L320.1,204.9 L320.3,205.8 L320.6,206.8 L320.8,207.8 L321.0,208.7 L321.3,209.7 L321.5,210.7 L321.8,211.7 L322.0,212.6 L322.2,213.6 L322.5,214.6 L322.7,215.5 L323.0,216.5 L323.2,217.5 L323.4,218.5 L323.7,219.4 L323.9,220.4 L324.2,221.4 L324.4,222.3 L324.7,223.3 L324.9,224.3 L325.2,225.2 L325.4,226.2 L325.7,227.2 L325.9,228.1 L326.2,229.1 L326.4,230.1 L326.7,231.0 L326.9,232.0 L327.2,233.0 L327.5,233.9 L327.7,234.9 L328.0,235.9 L328.2,236.8 L328.5,237.8 L328.7,238.8 L329.0,239.7 L329.3,240.7 L329.5,241.7 L329.8,242.6 L330.1,243.6 L330.3,244.6 L330.6,245.5 L330.8,246.5 L331.1,247.5 L331.4,248.4 L331.6,249.4 L331.9,250.4 L332.2,251.3 L332.4,252.3 L332.7,253.2 L333.0,254.2 L333.2,255.2 L333.5,256.1 L333.8,257.1 L334.1,258.1 L334.3,259.0 L334.6,260.0 L334.9,260.9 L335.2,261.9 L335.4,262.9 L335.7,263.8 L336.0,264.8 L336.2,265.8 L336.5,266.7 L336.8,267.7 L337.0,268.6 L337.3,269.6 L337.6,270.6 L337.9,271.5 L338.2,272.5 L338.6,273.4 L338.9,274.3 L339.3,275.3 L339.7,276.2 L340.1,277.1 L340.5,278.0 L340.9,278.9 L341.3,279.8 L341.7,280.7 L342.1,281.7 L342.6,282.6 L343.0,283.5 L343.4,284.4 L343.8,285.3 L344.3,286.2 L344.7,287.1 L345.1,288.0 L345.6,288.9 L346.0,289.8 L346.4,290.7 L346.9,291.6 L347.3,292.5 L347.7,293.4 L348.1,294.3 L348.6,295.2 L349.0,296.1 L349.4,297.0 L349.9,297.9 L350.3,298.8 L350.7,299.7 L351.2,300.6 L351.6,301.5 L352.0,302.4 L352.4,303.3 L352.9,304.2 L353.3,305.1 L353.7,306.1 L354.1,307.0 L354.5,307.9 L354.9,308.8 L355.3,309.7 L355.7,310.6 L356.1,311.5 L356.5,312.5 L356.9,313.4 L357.2,314.3 L357.6,315.3 L358.0,316.2 L358.3,317.1 L358.6,318.1 L359.0,319.0 L359.3,320.0 L359.6,320.9 L359.9,321.9 L360.2,322.8 L360.5,323.8 L360.8,324.7 L361.1,325.7 L361.4,326.6 L361.7,327.6 L362.0,328.6 L362.2,329.5 L362.5,330.5 L362.8,331.4 L363.1,332.4 L363.4,333.4 L363.6,334.3 L363.9,335.3 L364.2,336.2 L364.5,337.2 L364.8,338.2 L365.1,339.1 L365.4,340.1 L365.6,341.0 L365.9,342.0 L366.2,342.9 L366.5,343.9 L366.9,344.8 L367.2,345.8 L367.5,346.7 L367.8,347.7 L368.1,348.6 L368.4,349.6 L368.7,350.6 L369.0,351.5 L369.3,352.5 L369.6,353.4 L369.9,354.4 L370.2,355.3 L370.5,356.3 L370.8,357.2 L371.1,358.2 L371.4,359.1 L371.7,360.1 L372.0,361.0 L372.3,362.0 L372.6,362.9 L373.0,363.9 L373.3,364.8 L373.7,365.8 L374.0,366.7 L374.4,367.6 L374.8,368.5 L375.2,369.4 L375.6,370.3 L376.1,371.2 L376.5,372.1 L377.0,373.0 L377.5,373.9 L378.1,374.7 L378.6,375.6 L379.2,376.4 L379.7,377.2 L380.3,378.0 L380.9,378.8 L381.6,379.6 L382.2,380.3 L382.9,381.1 L383.6,381.8 L384.3,382.5 L385.1,383.1 L385.8,383.7 L386.6,384.3 L387.5,384.8 L388.4,385.3 L389.3,385.7 L390.2,386.1 L391.1,386.4 L392.1,386.7 L393.1,386.9 L394.0,387.1 L395.0,387.2 L396.0,387.2 L397.0,387.2 L398.0,387.2 L399.0,387.2 L400.0,387.2 L401.0,387.1 L402.0,387.1 L403.0,387.0 L404.0,386.9 L405.0,386.8 L405.9,386.6 L406.9,386.3 L407.7,385.9 L408.6,385.4 L409.4,384.8 L410.2,384.2 L410.9,383.5 L411.6,382.8 L412.3,382.1 L413.0,381.4 L413.6,380.6 L414.3,379.9 L414.9,379.1 L415.5,378.3 L416.1,377.5 L416.6,376.6 L417.1,375.8 L417.6,374.9 L418.1,374.0 L418.6,373.1 L419.0,372.3 L419.5,371.4 L419.9,370.5 L420.3,369.5 L420.7,368.6 L421.1,367.7 L421.5,366.8 L421.9,365.9 L422.3,364.9 L422.6,364.0 L423.0,363.1 L423.3,362.1 L423.7,361.2 L424.0,360.3 L424.3,359.3 L424.7,358.4 L425.0,357.4 L425.2,356.5 L425.5,355.5 L425.8,354.5 L426.1,353.6 L426.4,352.6 L426.6,351.6 L426.9,350.7 L427.2,349.7 L427.4,348.8 L427.7,347.8 L427.9,346.8 L428.1,345.8 L428.4,344.9 L428.6,343.9 L428.8,342.9 L429.0,341.9 L429.3,341.0 L429.5,340.0 L429.7,339.0 L429.9,338.0 L430.1,337.1 L430.3,336.1 L430.6,335.1 L430.8,334.1 L431.0,333.2 L431.1,332.2 L431.3,331.2 L431.5,330.2 L431.7,329.2 L431.9,328.2 L432.0,327.2 L432.2,326.3 L432.4,325.3 L432.6,324.3 L432.8,323.3 L433.0,322.4 L433.3,321.4 L433.6,320.4 L433.9,319.5 L434.2,318.6 L434.6,317.7 L435.1,316.8 L435.6,315.9 L436.1,315.1 L436.7,314.3 L437.3,313.5 L438.0,312.9 L438.8,312.3 L439.6,311.9 L440.5,311.6 L441.4,311.5 L442.2,311.7 L443.0,312.1 L443.8,312.6 L444.4,313.3 L445.0,314.1 L445.6,314.9 L446.1,315.8 L446.5,316.7 L447.0,317.6 L447.4,318.5 L447.9,319.4 L448.3,320.3 L448.7,321.2 L449.2,322.1 L449.6,323.0 L450.0,323.8 L450.5,324.7 L451.0,325.6 L451.4,326.5 L451.9,327.4 L452.5,328.2 L453.0,329.0 L453.6,329.8 L454.3,330.5 L455.0,331.1 L455.8,331.5 L456.7,331.7 L457.5,331.6 L458.3,331.3 L459.0,330.8 L459.6,330.1 L460.2,329.3 L460.7,328.5 L461.1,327.6 L461.5,326.7 L462.0,325.8 L462.3,324.9 L462.7,323.9 L463.1,323.0 L463.5,322.1 L463.8,321.2 L464.2,320.2 L464.5,319.3 L464.9,318.3 L465.2,317.4 L465.6,316.5 L465.9,315.5 L466.2,314.6 L466.6,313.7 L466.9,312.7 L467.3,311.8 L467.6,310.8 L467.9,309.9 L468.2,308.9 L468.5,308.0 L468.8,307.0 L469.1,306.1 L469.4,305.1 L469.7,304.1 L469.9,303.2 L470.2,302.2 L470.5,301.3 L470.7,300.3 L471.0,299.3 L471.3,298.4 L471.6,297.4 L471.8,296.4 L472.1,295.5 L472.4,294.5 L472.8,293.6 L473.1,292.6 L473.4,291.7 L473.8,290.8 L474.2,289.9 L474.6,289.0 L475.1,288.1 L475.5,287.2 L476.0,286.4 L476.6,285.7 L477.2,285.1 L477.8,284.9 L478.4,285.0 L479.0,285.3 L479.6,286.0 L480.0,286.8 L480.4,287.6 L480.8,288.6 L481.1,289.5 L481.5,290.4 L481.8,291.4 L482.1,292.3 L482.4,293.3 L482.7,294.2 L483.0,295.2 L483.2,296.2 L483.5,297.1 L483.8,298.1 L484.0,299.1 L484.2,300.0 L484.5,301.0 L484.7,302.0 L484.9,303.0 L485.1,303.9 L485.3,304.9 L485.6,305.9 L485.8,306.9 L486.0,307.8 L486.2,308.8 L486.4,309.8 L486.6,310.8 L486.8,311.8 L487.0,312.7 L487.2,313.7 L487.4,314.7 L487.6,315.7 L487.8,316.6 L488.0,317.6 L488.2,318.6 L488.4,319.6 L488.6,320.6 L488.8,321.6 L489.0,322.5 L489.2,323.5 L489.3,324.5 L489.5,325.5 L489.7,326.5 L489.9,327.5 L490.0,328.4 L490.2,329.4 L490.4,330.4 L490.6,331.4 L490.7,332.4 L490.9,333.4 L491.1,334.3 L491.3,335.3 L491.5,336.3 L491.7,337.3 L491.9,338.3 L492.1,339.3 L492.3,340.2 L492.5,341.2 L492.7,342.2 L492.9,343.2 L493.2,344.1 L493.4,345.1 L493.6,346.1 L493.9,347.0 L494.1,348.0 L494.4,349.0 L494.6,350.0 L494.9,350.9 L495.1,351.9 L495.4,352.8 L495.7,353.8 L495.9,354.8 L496.2,355.7 L496.5,356.7 L496.7,357.7 L497.0,358.6 L497.3,359.6 L497.6,360.6 L497.8,361.5 L498.1,362.5 L498.4,363.4 L498.7,364.4 L499.0,365.3 L499.3,366.3 L499.6,367.2 L500.0,368.2 L500.3,369.1 L500.6,370.1 L501.0,371.0 L501.3,371.9 L501.7,372.9 L502.1,373.8 L502.5,374.7 L502.9,375.6 L503.4,376.5 L503.8,377.4 L504.4,378.2 L504.9,379.1 L505.5,379.9 L506.1,380.7 L506.7,381.4 L507.4,382.2 L508.1,382.8 L508.9,383.5 L509.6,384.1 L510.4,384.7 L511.3,385.2 L512.1,385.7 L513.0,386.2 L514.0,386.5 L514.9,386.8 L515.9,387.1 L516.8,387.2 L517.8,387.2 L518.8,387.2 L519.8,387.2 L520.8,387.2 L521.8,387.2 L522.8,387.2 L523.8,387.2 L524.8,387.2 L525.8,387.2 L526.8,387.2 L527.8,387.2 L528.8,387.2 L529.8,387.2 L530.8,387.2 L531.8,387.2 L532.8,387.2 L533.8,387.2 L534.8,387.2 L535.8,387.2 L536.8,387.2 L537.8,387.2 L538.8,387.2 L539.8,387.2 L540.8,387.2 L541.8,387.2 L542.8,387.2 L543.8,387.2 L544.8,387.2 L545.8,387.2 L546.8,387.2 L547.8,387.2 L548.8,387.2 L549.8,387.2 L550.8,387.2 L551.8,387.2 L552.8,387.2 L553.8,387.2 L554.8,387.2 L555.8,387.2 L556.8,387.2 L557.8,387.2 L558.8,387.2 L559.8,387.2 L560.8,387.2 L561.8,387.2 L562.8,387.2 L563.8,387.2 L564.8,387.2 L565.8,387.2 L566.8,387.2 L567.8,387.2 L568.8,387.2 L569.8,387.2 L570.8,387.2 L571.7,387.2 L572.6,387.2 L573.3,387.2 L573.8,387.2" fill="none" stroke="#c02832" stroke-width="3.0" stroke-linejoin="round" stroke-linecap="round"/>
<path d="M123.8,387.2 L124.4,387.2 L125.2,387.2 L126.1,387.2 L127.0,387.2 L128.0,387.2 L129.0,387.2 L130.0,387.2 L131.0,387.2 L132.0,387.2 L133.0,387.2 L134.0,387.2 L135.0,387.2 L136.0,387.2 L137.0,387.2 L138.0,387.2 L139.0,387.2 L140.0,387.2 L141.0,387.2 L142.0,387.2 L143.0,387.2 L144.0,387.2 L145.0,387.2 L146.0,387.2 L147.0,387.2 L148.0,387.2 L149.0,387.2 L150.0,387.2 L151.0,387.2 L152.0,387.2 L153.0,387.2 L154.0,387.2 L155.0,387.2 L156.0,387.2 L157.0,387.2 L158.0,387.2 L159.0,387.2 L160.0,387.2 L161.0,387.2 L162.0,387.2 L163.0,387.2 L164.0,387.2 L165.0,387.2 L166.0,387.2 L167.0,387.2 L168.0,387.2 L169.0,387.2 L170.0,387.2 L171.0,387.2 L172.0,387.2 L173.0,387.2 L174.0,387.2 L175.0,387.2 L176.0,387.2 L177.0,387.2 L178.0,387.2 L179.0,387.2 L180.0,387.2 L181.0,387.2 L182.0,387.2 L183.0,387.2 L184.0,387.2 L185.0,387.2 L186.0,387.2 L187.0,387.2 L188.0,387.2 L189.0,387.2 L190.0,387.2 L191.0,387.2 L192.0,387.2 L193.0,387.2 L194.0,387.2 L195.0,387.2 L196.0,387.2 L197.0,387.2 L198.0,387.2 L199.0,387.2 L200.0,387.2 L201.0,387.2 L202.0,387.2 L203.0,387.2 L204.0,387.2 L205.0,387.2 L206.0,387.2 L207.0,387.2 L208.0,387.2 L209.0,387.2 L210.0,387.2 L211.0,387.2 L212.0,387.2 L213.0,387.2 L214.0,387.2 L215.0,387.2 L216.0,387.2 L217.0,387.2 L218.0,387.2 L219.0,387.2 L220.0,387.2 L221.0,387.2 L222.0,387.2 L223.0,387.2 L224.0,387.2 L225.0,387.2 L226.0,387.1 L227.0,387.0 L228.0,387.0 L229.0,386.8 L230.0,386.7 L231.0,386.6 L231.9,386.4 L232.9,386.2 L233.9,386.0 L234.8,385.7 L235.8,385.4 L236.7,385.0 L237.6,384.6 L238.5,384.1 L239.4,383.6 L240.2,383.1 L241.0,382.6 L241.8,382.0 L242.6,381.4 L243.4,380.7 L244.2,380.1 L244.9,379.4 L245.6,378.7 L246.3,377.9 L246.9,377.2 L247.5,376.4 L248.1,375.6 L248.7,374.8 L249.2,374.0 L249.8,373.1 L250.2,372.2 L250.7,371.3 L251.2,370.5 L251.6,369.6 L252.0,368.7 L252.5,367.7 L252.9,366.8 L253.2,365.9 L253.6,365.0 L254.0,364.1 L254.4,363.1 L254.7,362.2 L255.1,361.2 L255.4,360.3 L255.7,359.4 L256.1,358.4 L256.4,357.5 L256.7,356.5 L257.0,355.6 L257.3,354.6 L257.6,353.7 L257.8,352.7 L258.1,351.7 L258.3,350.8 L258.5,349.8 L258.7,348.8 L259.0,347.8 L259.2,346.8 L259.4,345.9 L259.5,344.9 L259.7,343.9 L259.9,342.9 L260.1,341.9 L260.3,341.0 L260.5,340.0 L260.7,339.0 L260.9,338.0 L261.1,337.0 L261.3,336.0 L261.4,335.1 L261.6,334.1 L261.8,333.1 L262.0,332.1 L262.2,331.1 L262.3,330.1 L262.5,329.2 L262.7,328.2 L262.8,327.2 L263.0,326.2 L263.2,325.2 L263.3,324.2 L263.5,323.2 L263.7,322.3 L263.8,321.3 L264.0,320.3 L264.2,319.3 L264.3,318.3 L264.5,317.3 L264.6,316.3 L264.8,315.3 L265.0,314.4 L265.1,313.4 L265.3,312.4 L265.5,311.4 L265.6,310.4 L265.8,309.4 L265.9,308.4 L266.1,307.5 L266.3,306.5 L266.4,305.5 L266.6,304.5 L266.7,303.5 L266.9,302.5 L267.0,301.5 L267.2,300.5 L267.4,299.6 L267.5,298.6 L267.7,297.6 L267.8,296.6 L268.0,295.6 L268.1,294.6 L268.3,293.6 L268.5,292.6 L268.6,291.7 L268.8,290.7 L268.9,289.7 L269.1,288.7 L269.3,287.7 L269.4,286.7 L269.6,285.7 L269.8,284.8 L269.9,283.8 L270.1,282.8 L270.3,281.8 L270.4,280.8 L270.6,279.8 L270.8,278.8 L270.9,277.8 L271.1,276.9 L271.2,275.9 L271.4,274.9 L271.6,273.9 L271.7,272.9 L271.8,271.9 L272.0,270.9 L272.1,269.9 L272.3,268.9 L272.4,268.0 L272.5,267.0 L272.6,266.0 L272.8,265.0 L272.9,264.0 L273.0,263.0 L273.1,262.0 L273.2,261.0 L273.3,260.0 L273.4,259.0 L273.5,258.0 L273.6,257.0 L273.7,256.0 L273.8,255.0 L273.9,254.0 L274.0,253.0 L274.1,252.0 L274.2,251.1 L274.3,250.1 L274.4,249.1 L274.5,248.1 L274.6,247.1 L274.7,246.1 L274.8,245.1 L274.9,244.1 L275.0,243.1 L275.1,242.1 L275.2,241.1 L275.3,240.1 L275.4,239.1 L275.5,238.1 L275.6,237.1 L275.7,236.1 L275.8,235.1 L276.0,234.1 L276.1,233.2 L276.2,232.2 L276.3,231.2 L276.5,230.2 L276.6,229.2 L276.7,228.2 L276.8,227.2 L277.0,226.2 L277.1,225.2 L277.2,224.2 L277.4,223.2 L277.5,222.2 L277.6,221.3 L277.7,220.3 L277.9,219.3 L278.0,218.3 L278.1,217.3 L278.3,216.3 L278.4,215.3 L278.5,214.3 L278.6,213.3 L278.8,212.3 L278.9,211.3 L279.0,210.3 L279.2,209.3 L279.3,208.4 L279.4,207.4 L279.5,206.4 L279.7,205.4 L279.8,204.4 L279.9,203.4 L280.0,202.4 L280.2,201.4 L280.3,200.4 L280.4,199.4 L280.6,198.4 L280.7,197.4 L280.8,196.5 L281.0,195.5 L281.1,194.5 L281.2,193.5 L281.4,192.5 L281.5,191.5 L281.6,190.5 L281.8,189.5 L281.9,188.5 L282.1,187.5 L282.2,186.6 L282.4,185.6 L282.5,184.6 L282.7,183.6 L282.9,182.6 L283.0,181.6 L283.2,180.6 L283.4,179.6 L283.5,178.7 L283.7,177.7 L283.9,176.7 L284.0,175.7 L284.2,174.7 L284.4,173.7 L284.6,172.8 L284.7,171.8 L284.9,170.8 L285.0,169.8 L285.2,168.8 L285.3,167.8 L285.4,166.8 L285.6,165.8 L285.7,164.8 L285.8,163.8 L285.9,162.8 L286.1,161.9 L286.2,160.9 L286.3,159.9 L286.5,158.9 L286.6,157.9 L286.8,156.9 L286.9,155.9 L287.1,154.9 L287.3,153.9 L287.4,153.0 L287.6,152.0 L287.8,151.0 L287.9,150.0 L288.1,149.0 L288.3,148.0 L288.5,147.1 L288.6,146.1 L288.8,145.1 L289.0,144.1 L289.2,143.1 L289.4,142.1 L289.6,141.2 L289.8,140.2 L290.0,139.2 L290.2,138.2 L290.4,137.2 L290.6,136.3 L290.9,135.3 L291.1,134.3 L291.3,133.3 L291.6,132.4 L291.8,131.4 L292.1,130.4 L292.3,129.5 L292.6,128.5 L293.0,127.6 L293.3,126.6 L293.7,125.7 L294.1,124.8 L294.5,124.0 L295.0,123.2 L295.6,122.7 L296.3,122.4 L297.0,122.4 L297.7,122.7 L298.4,123.2 L299.0,123.9 L299.6,124.7 L300.1,125.6 L300.5,126.5 L300.9,127.4 L301.2,128.3 L301.5,129.3 L301.7,130.2 L302.0,131.2 L302.2,132.2 L302.4,133.2 L302.6,134.1 L302.8,135.1 L302.9,136.1 L303.1,137.1 L303.3,138.1 L303.5,139.1 L303.6,140.0 L303.8,141.0 L304.0,142.0 L304.1,143.0 L304.3,144.0 L304.4,145.0 L304.6,146.0 L304.7,147.0 L304.9,147.9 L305.0,148.9 L305.1,149.9 L305.3,150.9 L305.4,151.9 L305.5,152.9 L305.7,153.9 L305.8,154.9 L305.9,155.9 L306.1,156.9 L306.2,157.9 L306.4,158.8 L306.5,159.8 L306.6,160.8 L306.8,161.8 L306.9,162.8 L307.1,163.8 L307.2,164.8 L307.4,165.8 L307.5,166.8 L307.7,167.8 L307.8,168.7 L307.9,169.7 L308.1,170.7 L308.2,171.7 L308.4,172.7 L308.5,173.7 L308.7,174.7 L308.8,175.7 L309.0,176.7 L309.1,177.6 L309.3,178.6 L309.4,179.6 L309.6,180.6 L309.7,181.6 L309.9,182.6 L310.0,183.6 L310.2,184.6 L310.3,185.5 L310.5,186.5 L310.7,187.5 L310.8,188.5 L311.0,189.5 L311.1,190.5 L311.3,191.5 L311.4,192.5 L311.6,193.4 L311.8,194.4 L311.9,195.4 L312.1,196.4 L312.2,197.4 L312.4,198.4 L312.5,199.4 L312.7,200.4 L312.9,201.3 L313.0,202.3 L313.2,203.3 L313.3,204.3 L313.5,205.3 L313.7,206.3 L313.8,207.3 L314.0,208.3 L314.1,209.2 L314.3,210.2 L314.4,211.2 L314.6,212.2 L314.7,213.2 L314.9,214.2 L315.0,215.2 L315.2,216.2 L315.3,217.2 L315.4,218.2 L315.6,219.1 L315.7,220.1 L315.9,221.1 L316.0,222.1 L316.2,223.1 L316.3,224.1 L316.5,225.1 L316.6,226.1 L316.8,227.0 L317.0,228.0 L317.1,229.0 L317.3,230.0 L317.5,231.0 L317.7,232.0 L317.9,233.0 L318.1,233.9 L318.2,234.9 L318.4,235.9 L318.6,236.9 L318.8,237.9 L319.0,238.8 L319.2,239.8 L319.4,240.8 L319.7,241.8 L319.9,242.8 L320.1,243.7 L320.3,244.7 L320.5,245.7 L320.8,246.7 L321.0,247.6 L321.2,248.6 L321.5,249.6 L321.8,250.5 L322.1,251.5 L322.4,252.4 L322.7,253.4 L323.1,254.3 L323.4,255.2 L323.8,256.1 L324.3,257.0 L324.8,257.9 L325.3,258.7 L325.8,259.5 L326.5,260.2 L327.2,260.8 L328.0,261.2 L328.9,261.4 L329.8,261.4 L330.7,261.2 L331.5,260.8 L332.4,260.3 L333.2,259.7 L334.0,259.2 L334.8,258.6 L335.6,258.1 L336.5,257.8 L337.4,257.5 L338.4,257.4 L339.3,257.4 L340.2,257.6 L341.1,257.9 L341.9,258.4 L342.7,259.0 L343.5,259.6 L344.2,260.3 L344.9,261.0 L345.6,261.7 L346.2,262.5 L346.7,263.3 L347.2,264.2 L347.7,265.1 L348.1,266.0 L348.4,266.9 L348.7,267.9 L349.0,268.8 L349.3,269.8 L349.5,270.8 L349.7,271.7 L349.9,272.7 L350.1,273.7 L350.2,274.7 L350.4,275.7 L350.6,276.7 L350.7,277.6 L350.9,278.6 L351.1,279.6 L351.2,280.6 L351.4,281.6 L351.6,282.6 L351.7,283.6 L351.9,284.5 L352.1,285.5 L352.3,286.5 L352.5,287.5 L352.7,288.5 L352.8,289.5 L353.0,290.4 L353.2,291.4 L353.4,292.4 L353.5,293.4 L353.7,294.4 L353.9,295.4 L354.0,296.4 L354.2,297.3 L354.4,298.3 L354.5,299.3 L354.7,300.3 L354.9,301.3 L355.0,302.3 L355.2,303.3 L355.4,304.2 L355.6,305.2 L355.8,306.2 L355.9,307.2 L356.1,308.2 L356.3,309.2 L356.5,310.1 L356.7,311.1 L356.9,312.1 L357.1,313.1 L357.3,314.0 L357.6,315.0 L357.8,316.0 L358.0,317.0 L358.2,317.9 L358.5,318.9 L358.7,319.9 L359.0,320.9 L359.2,321.8 L359.4,322.8 L359.7,323.8 L359.9,324.7 L360.2,325.7 L360.4,326.7 L360.7,327.6 L360.9,328.6 L361.2,329.6 L361.4,330.5 L361.7,331.5 L362.0,332.5 L362.2,333.4 L362.5,334.4 L362.8,335.4 L363.0,336.3 L363.3,337.3 L363.6,338.3 L363.9,339.2 L364.2,340.2 L364.4,341.1 L364.7,342.1 L365.0,343.0 L365.3,344.0 L365.6,344.9 L365.9,345.9 L366.2,346.8 L366.6,347.8 L366.9,348.7 L367.2,349.7 L367.5,350.6 L367.9,351.6 L368.2,352.5 L368.5,353.5 L368.9,354.4 L369.2,355.3 L369.6,356.3 L369.9,357.2 L370.3,358.1 L370.7,359.1 L371.0,360.0 L371.4,360.9 L371.8,361.9 L372.2,362.8 L372.6,363.7 L373.0,364.6 L373.4,365.5 L373.8,366.4 L374.2,367.4 L374.6,368.3 L375.0,369.2 L375.5,370.1 L375.9,371.0 L376.4,371.8 L376.8,372.7 L377.3,373.6 L377.8,374.5 L378.2,375.4 L378.7,376.3 L379.2,377.1 L379.7,378.0 L380.2,378.9 L380.8,379.7 L381.3,380.5 L381.9,381.3 L382.5,382.1 L383.2,382.8 L383.9,383.5 L384.6,384.2 L385.4,384.8 L386.3,385.3 L387.2,385.7 L388.1,386.1 L389.0,386.4 L390.0,386.7 L390.9,386.9 L391.9,387.1 L392.9,387.2 L393.9,387.2 L394.9,387.2 L395.9,387.2 L396.9,387.2 L397.9,387.2 L398.9,387.2 L399.9,387.2 L400.9,387.2 L401.9,387.2 L402.9,387.1 L403.9,387.0 L404.9,386.9 L405.8,386.7 L406.8,386.5 L407.7,386.2 L408.6,385.7 L409.4,385.2 L410.2,384.6 L411.0,384.0 L411.7,383.3 L412.4,382.6 L413.1,381.9 L413.7,381.1 L414.4,380.4 L415.0,379.6 L415.7,378.8 L416.2,378.0 L416.8,377.2 L417.4,376.4 L417.9,375.5 L418.4,374.6 L418.9,373.8 L419.3,372.9 L419.8,372.0 L420.2,371.1 L420.6,370.2 L421.0,369.3 L421.4,368.3 L421.8,367.4 L422.2,366.5 L422.5,365.6 L422.9,364.6 L423.3,363.7 L423.6,362.8 L424.0,361.8 L424.3,360.9 L424.6,359.9 L424.9,359.0 L425.3,358.0 L425.6,357.1 L425.8,356.1 L426.1,355.2 L426.4,354.2 L426.7,353.2 L427.0,352.3 L427.2,351.3 L427.5,350.4 L427.7,349.4 L428.0,348.4 L428.2,347.4 L428.5,346.5 L428.7,345.5 L428.9,344.5 L429.2,343.6 L429.4,342.6 L429.6,341.6 L429.8,340.6 L430.1,339.7 L430.3,338.7 L430.5,337.7 L430.7,336.7 L430.9,335.8 L431.1,334.8 L431.3,333.8 L431.6,332.8 L431.8,331.8 L432.0,330.9 L432.2,329.9 L432.4,328.9 L432.6,327.9 L432.8,327.0 L433.0,326.0 L433.2,325.0 L433.4,324.0 L433.6,323.0 L433.7,322.0 L433.9,321.1 L434.1,320.1 L434.2,319.1 L434.4,318.1 L434.5,317.1 L434.7,316.1 L434.8,315.1 L434.9,314.1 L435.0,313.1 L435.2,312.1 L435.3,311.2 L435.4,310.2 L435.5,309.2 L435.6,308.2 L435.7,307.2 L435.8,306.2 L435.9,305.2 L436.1,304.2 L436.2,303.2 L436.3,302.2 L436.4,301.2 L436.6,300.2 L436.7,299.2 L436.8,298.2 L437.0,297.3 L437.1,296.3 L437.3,295.3 L437.4,294.3 L437.6,293.3 L437.8,292.3 L437.9,291.3 L438.1,290.3 L438.2,289.4 L438.4,288.4 L438.5,287.4 L438.7,286.4 L438.8,285.4 L439.0,284.4 L439.1,283.4 L439.3,282.4 L439.4,281.4 L439.5,280.5 L439.7,279.5 L439.8,278.5 L439.9,277.5 L440.1,276.5 L440.2,275.5 L440.3,274.5 L440.5,273.5 L440.6,272.5 L440.7,271.5 L440.8,270.5 L441.0,269.5 L441.1,268.6 L441.2,267.6 L441.4,266.6 L441.5,265.6 L441.7,264.6 L441.8,263.6 L442.0,262.6 L442.1,261.6 L442.2,260.6 L442.4,259.6 L442.6,258.7 L442.7,257.7 L442.9,256.7 L443.0,255.7 L443.2,254.7 L443.4,253.7 L443.6,252.7 L443.8,251.8 L444.0,250.8 L444.2,249.8 L444.4,248.8 L444.6,247.9 L444.9,246.9 L445.1,245.9 L445.4,245.0 L445.7,244.0 L445.9,243.0 L446.2,242.1 L446.5,241.1 L446.8,240.2 L447.1,239.2 L447.4,238.3 L447.8,237.3 L448.1,236.4 L448.5,235.5 L449.0,234.6 L449.5,233.9 L450.1,233.2 L450.7,232.8 L451.4,232.7 L452.1,233.0 L452.8,233.4 L453.4,234.1 L453.9,234.9 L454.4,235.7 L454.9,236.6 L455.3,237.5 L455.8,238.4 L456.2,239.3 L456.6,240.2 L457.0,241.1 L457.4,242.1 L457.8,243.0 L458.2,243.9 L458.6,244.8 L459.0,245.7 L459.4,246.6 L459.8,247.6 L460.1,248.5 L460.4,249.4 L460.8,250.4 L461.1,251.3 L461.4,252.3 L461.7,253.2 L462.0,254.2 L462.3,255.1 L462.7,256.1 L463.0,257.0 L463.4,257.9 L463.8,258.8 L464.3,259.7 L464.8,260.6 L465.3,261.4 L465.9,262.2 L466.5,263.0 L467.2,263.7 L468.0,264.3 L468.8,264.9 L469.6,265.5 L470.4,266.1 L471.2,266.7 L472.0,267.3 L472.8,267.9 L473.6,268.5 L474.3,269.2 L475.0,269.9 L475.7,270.6 L476.4,271.3 L477.0,272.1 L477.7,272.8 L478.3,273.6 L478.9,274.4 L479.4,275.3 L480.0,276.1 L480.4,277.0 L480.9,277.9 L481.3,278.8 L481.7,279.7 L482.1,280.6 L482.4,281.6 L482.8,282.5 L483.1,283.4 L483.4,284.4 L483.7,285.4 L484.0,286.3 L484.2,287.3 L484.5,288.2 L484.8,289.2 L485.0,290.2 L485.3,291.1 L485.5,292.1 L485.8,293.1 L486.0,294.0 L486.3,295.0 L486.5,296.0 L486.8,296.9 L487.0,297.9 L487.3,298.9 L487.6,299.8 L487.8,300.8 L488.1,301.8 L488.3,302.7 L488.6,303.7 L488.8,304.7 L489.1,305.6 L489.3,306.6 L489.6,307.6 L489.8,308.6 L490.1,309.5 L490.3,310.5 L490.5,311.5 L490.8,312.4 L491.0,313.4 L491.3,314.4 L491.5,315.4 L491.7,316.3 L492.0,317.3 L492.2,318.3 L492.4,319.2 L492.7,320.2 L492.9,321.2 L493.1,322.2 L493.4,323.1 L493.6,324.1 L493.8,325.1 L494.1,326.0 L494.3,327.0 L494.5,328.0 L494.7,329.0 L495.0,329.9 L495.2,330.9 L495.4,331.9 L495.6,332.9 L495.8,333.8 L496.1,334.8 L496.3,335.8 L496.5,336.8 L496.7,337.8 L496.9,338.7 L497.1,339.7 L497.4,340.7 L497.6,341.7 L497.8,342.6 L498.0,343.6 L498.2,344.6 L498.5,345.6 L498.7,346.5 L498.9,347.5 L499.2,348.5 L499.4,349.4 L499.7,350.4 L499.9,351.4 L500.2,352.3 L500.4,353.3 L500.7,354.3 L501.0,355.2 L501.2,356.2 L501.5,357.2 L501.8,358.1 L502.0,359.1 L502.3,360.1 L502.6,361.0 L502.8,362.0 L503.1,362.9 L503.4,363.9 L503.6,364.9 L503.9,365.8 L504.2,366.8 L504.5,367.7 L504.8,368.7 L505.1,369.7 L505.4,370.6 L505.7,371.6 L506.0,372.5 L506.4,373.4 L506.7,374.4 L507.1,375.3 L507.5,376.2 L507.9,377.1 L508.4,378.0 L508.9,378.9 L509.4,379.7 L509.9,380.6 L510.5,381.4 L511.2,382.1 L511.8,382.9 L512.5,383.5 L513.3,384.2 L514.1,384.8 L514.9,385.3 L515.8,385.7 L516.7,386.1 L517.7,386.5 L518.6,386.7 L519.6,386.9 L520.6,387.1 L521.6,387.2 L522.6,387.2 L523.5,387.2 L524.5,387.2 L525.5,387.2 L526.5,387.2 L527.5,387.2 L528.5,387.2 L529.5,387.2 L530.5,387.2 L531.5,387.2 L532.5,387.2 L533.5,387.2 L534.5,387.2 L535.5,387.2 L536.5,387.2 L537.5,387.2 L538.5,387.2 L539.5,387.2 L540.5,387.2 L541.5,387.2 L542.5,387.2 L543.5,387.2 L544.5,387.2 L545.5,387.2 L546.5,387.2 L547.5,387.2 L548.5,387.2 L549.5,387.2 L550.5,387.2 L551.5,387.2 L552.5,387.2 L553.5,387.2 L554.5,387.2 L555.5,387.2 L556.5,387.2 L557.5,387.2 L558.5,387.2 L559.5,387.2 L560.5,387.2 L561.5,387.2 L562.5,387.2 L563.5,387.2 L564.5,387.2 L565.5,387.2 L566.5,387.2 L567.5,387.2 L568.5,387.2 L569.5,387.2 L570.5,387.2 L571.5,387.2 L572.4,387.2 L573.1,387.2 L573.7,387.2" fill="none" stroke="#2519aa" stroke-width="3.0" stroke-linejoin="round" stroke-linecap="round"/>
<path d="M796.3,356.4 L797.3,355.8 L798.3,355.2 L799.3,354.6 L800.3,353.9 L801.3,353.3 L802.3,352.6 L803.3,351.9 L804.3,351.2 L805.3,350.5 L806.3,349.7 L807.3,349.0 L808.3,348.2 L809.3,347.4 L810.3,346.6 L811.3,345.7 L812.3,344.9 L813.3,344.0 L814.3,343.1 L815.3,342.2 L816.3,341.3 L817.3,340.4 L818.3,339.4 L819.3,338.4 L820.3,337.4 L821.3,336.4 L822.3,335.4 L823.3,334.3 L824.3,333.2 L825.3,332.2 L826.3,331.1 L827.3,329.9 L828.3,328.8 L829.3,327.6 L830.3,326.4 L831.3,325.2 L832.3,324.0 L833.3,322.8 L834.3,321.5 L835.3,320.3 L836.3,319.0 L837.3,317.7 L838.3,316.3 L839.3,315.0 L840.3,313.6 L841.3,312.3 L842.3,310.9 L843.3,309.4 L844.3,308.0 L845.3,306.5 L846.3,305.1 L847.3,303.6 L848.3,302.1 L849.3,300.5 L850.3,299.0 L851.3,297.4 L852.3,295.8 L853.3,294.2 L854.3,292.6 L855.3,291.0 L856.3,289.3 L857.3,287.6 L858.3,285.9 L859.3,284.2 L860.3,282.5 L861.3,280.8 L862.3,279.1 L863.3,277.3 L864.3,275.6 L865.3,273.8 L866.3,272.1 L867.3,270.3 L868.3,268.5 L869.3,266.8 L870.3,265.0 L871.3,263.2 L872.3,261.5 L873.3,259.7 L874.3,258.0 L875.3,256.2 L876.3,254.5 L877.3,252.8 L878.3,251.0 L879.3,249.3 L880.3,247.6 L881.3,245.9 L882.3,244.3 L883.3,242.6 L884.3,241.0 L885.3,239.4 L886.3,237.8 L887.3,236.2 L888.3,234.6 L889.3,233.1 L890.3,231.6 L891.3,230.1 L892.3,228.6 L893.3,227.2 L894.3,225.8 L895.3,224.4 L896.3,223.0 L897.3,221.7 L898.3,220.5 L899.3,219.2 L900.3,218.0 L901.3,216.8 L902.3,215.7 L903.3,214.6 L904.3,213.5 L905.3,212.5 L906.3,211.5 L907.3,210.6 L908.3,209.7 L909.3,208.9 L910.3,208.1 L911.3,207.3 L912.3,206.6 L913.3,206.0 L914.3,205.3 L915.3,204.8 L916.3,204.3 L917.3,203.8 L918.3,203.3 L919.3,203.0 L920.3,202.6 L921.3,202.3 L922.3,202.1 L923.3,201.9 L924.3,201.8 L925.3,201.7 L926.3,201.7 L927.3,201.7 L928.3,201.7 L929.3,201.9 L930.3,202.0 L931.3,202.2 L932.3,202.5 L933.3,202.9 L934.3,203.2 L935.3,203.7 L936.3,204.2 L937.3,204.7 L938.3,205.3 L939.3,206.0 L940.3,206.7 L941.3,207.5 L942.3,208.3 L943.3,209.2 L944.3,210.1 L945.3,211.0 L946.3,212.0 L947.3,213.0 L948.3,214.1 L949.3,215.1 L950.3,216.2 L951.3,217.3 L952.3,218.4 L953.3,219.5 L954.3,220.7 L955.3,221.8 L956.3,222.9 L957.3,224.0 L958.3,225.1 L959.3,226.2 L960.3,227.3 L961.3,228.3 L962.3,229.3 L963.3,230.3 L964.3,231.3 L965.3,232.2 L966.3,233.0 L967.3,233.8 L968.3,234.6 L969.3,235.3 L970.3,236.0 L971.3,236.6 L972.3,237.1 L973.3,237.6 L974.3,238.0 L975.3,238.3 L976.3,238.5 L977.3,238.6 L978.3,238.7 L979.3,238.6 L980.3,238.5 L981.3,238.4 L982.3,238.1 L983.3,237.8 L984.3,237.4 L985.3,236.9 L986.3,236.4 L987.3,235.8 L988.3,235.2 L989.3,234.5 L990.3,233.8 L991.3,233.0 L992.3,232.2 L993.3,231.3 L994.3,230.4 L995.3,229.5 L996.3,228.6 L997.3,227.6 L998.3,226.6 L999.3,225.6 L1000.3,224.6 L1001.3,223.6 L1002.3,222.6 L1003.3,221.5 L1004.3,220.5 L1005.3,219.5 L1006.3,218.4 L1007.3,217.4 L1008.3,216.4 L1009.3,215.4 L1010.3,214.5 L1011.3,213.5 L1012.3,212.6 L1013.3,211.7 L1014.3,210.9 L1015.3,210.1 L1016.3,209.3 L1017.3,208.6 L1018.3,208.0 L1019.3,207.4 L1020.3,206.9 L1021.3,206.4 L1022.3,206.1 L1023.3,205.8 L1024.3,205.6 L1025.3,205.4 L1026.3,205.4 L1027.3,205.5 L1028.3,205.6 L1029.3,205.9 L1030.3,206.3 L1031.3,206.8 L1032.3,207.4 L1033.3,208.1 L1034.3,209.0 L1035.3,210.0 L1036.3,211.1 L1037.3,212.4 L1038.3,213.8 L1039.3,215.3 L1040.3,216.9 L1041.3,218.7 L1042.3,220.5 L1043.3,222.5 L1044.3,224.5 L1045.3,226.7 L1046.3,228.9 L1047.3,231.2 L1048.3,233.6 L1049.3,236.0 L1050.3,238.5 L1051.3,241.1 L1052.3,243.8 L1053.3,246.4 L1054.3,249.2 L1055.3,252.0 L1056.3,254.8 L1057.3,257.6 L1058.3,260.5 L1059.3,263.4 L1060.3,266.4 L1061.3,269.3 L1062.3,272.2 L1063.3,275.2 L1064.3,278.1 L1065.3,281.1 L1066.3,284.0 L1067.3,287.0 L1068.3,289.9 L1069.3,292.7 L1070.3,295.6 L1071.3,298.4 L1072.3,301.2 L1073.3,304.0 L1074.3,306.7 L1075.3,309.4 L1076.3,312.1 L1077.3,314.7 L1078.3,317.3 L1079.3,319.8 L1080.3,322.3 L1081.3,324.7 L1082.3,327.1 L1083.3,329.4 L1084.3,331.7 L1085.3,333.9 L1086.3,336.1 L1087.3,338.2 L1088.3,340.3 L1089.3,342.3 L1090.3,344.3 L1091.3,346.2 L1092.3,348.0 L1093.3,349.8 L1094.3,351.6 L1095.3,353.3 L1096.3,354.9 L1097.3,356.5 L1098.3,358.0 L1099.3,359.4 L1100.3,360.8 L1101.3,362.1 L1102.3,363.4 L1103.3,364.6 L1104.3,365.8 L1105.3,366.9 L1106.3,367.9 L1107.3,368.9 L1108.3,369.8 L1109.3,370.7 L1110.3,371.6 L1111.3,372.3 L1112.3,373.1 L1113.3,373.8 L1114.3,374.5 L1115.3,375.1 L1116.3,375.7 L1117.3,376.2 L1118.3,376.7 L1119.3,377.2 L1120.3,377.6 L1121.3,378.0 L1122.3,378.4 L1123.3,378.7 L1124.3,379.1 L1125.3,379.4 L1126.3,379.6 L1127.3,379.9 L1128.3,380.1 L1129.3,380.3 L1130.3,380.5 L1131.3,380.6 L1132.3,380.8 L1133.3,380.9 L1134.3,381.0 L1135.3,381.1 L1136.3,381.2 L1137.3,381.3 L1138.3,381.4 L1139.3,381.5 L1140.3,381.6 L1141.3,381.6 L1142.3,381.7 L1143.3,381.7 L1144.3,381.8 L1145.3,381.9 L1146.3,381.9 L1147.3,382.0 L1148.3,382.0 L1149.3,382.1 L1150.3,382.1 L1151.3,382.2 L1152.3,382.2 L1153.3,382.3 L1154.3,382.3 L1155.3,382.3 L1156.3,382.4 L1157.3,382.4 L1158.3,382.4 L1159.3,382.5 L1160.3,382.5 L1161.3,382.5 L1162.3,382.5 L1163.3,382.6 L1164.3,382.6 L1165.3,382.6 L1166.3,382.6 L1167.3,382.6 L1168.3,382.7 L1169.3,382.7 L1170.3,382.7 L1171.3,382.7 L1172.3,382.7 L1173.3,382.7 L1174.3,382.7 L1175.3,382.7 L1176.3,382.7 L1177.3,382.7 L1178.3,382.7 L1179.3,382.7 L1180.3,382.7 L1181.3,382.7 L1182.3,382.7 L1183.3,382.7 L1184.3,382.7 L1185.3,382.7 L1186.3,382.7 L1187.3,382.7 L1188.3,382.7 L1189.3,382.7 L1190.3,382.7 L1191.3,382.7 L1192.3,382.7 L1193.3,382.7 L1194.3,382.7 L1195.3,382.7 L1196.3,382.7 L1197.3,382.7 L1198.3,382.7 L1199.3,382.7 L1200.3,382.7 L1201.3,382.7 L1202.3,382.7 L1203.3,382.7 L1204.3,382.7 L1205.3,382.7 L1206.3,382.7 L1207.3,382.6 L1208.3,382.6 L1209.3,382.6 L1210.3,382.6 L1211.3,382.6 L1212.3,382.6 L1213.3,382.6 L1214.3,382.6 L1215.3,382.6 L1216.3,382.6 L1217.3,382.6 L1218.3,382.6 L1219.3,382.6 L1220.3,382.6 L1221.3,382.6 L1222.3,382.6 L1223.3,382.6 L1224.3,382.6 L1225.3,382.6 L1226.3,382.7 L1227.3,382.7 L1228.3,382.7 L1229.3,382.7 L1230.3,382.7 L1230.5,382.7" fill="none" stroke="#0a0a0a" stroke-width="3.0" stroke-linejoin="round" stroke-linecap="round"/>
<path d="M796.3,365.0 L797.3,364.4 L798.3,363.8 L799.3,363.3 L800.3,362.7 L801.3,362.1 L802.3,361.6 L803.3,361.0 L804.3,360.4 L805.3,359.9 L806.3,359.3 L807.3,358.7 L808.3,358.2 L809.3,357.6 L810.3,357.0 L811.3,356.4 L812.3,355.9 L813.3,355.3 L814.3,354.7 L815.3,354.1 L816.3,353.5 L817.3,352.9 L818.3,352.3 L819.3,351.7 L820.3,351.1 L821.3,350.5 L822.3,349.9 L823.3,349.3 L824.3,348.7 L825.3,348.0 L826.3,347.4 L827.3,346.8 L828.3,346.1 L829.3,345.5 L830.3,344.8 L831.3,344.1 L832.3,343.5 L833.3,342.8 L834.3,342.1 L835.3,341.4 L836.3,340.7 L837.3,340.0 L838.3,339.2 L839.3,338.5 L840.3,337.8 L841.3,337.0 L842.3,336.3 L843.3,335.5 L844.3,334.7 L845.3,333.9 L846.3,333.1 L847.3,332.3 L848.3,331.5 L849.3,330.6 L850.3,329.8 L851.3,328.9 L852.3,328.1 L853.3,327.2 L854.3,326.3 L855.3,325.4 L856.3,324.4 L857.3,323.5 L858.3,322.6 L859.3,321.6 L860.3,320.6 L861.3,319.7 L862.3,318.7 L863.3,317.7 L864.3,316.7 L865.3,315.7 L866.3,314.7 L867.3,313.7 L868.3,312.6 L869.3,311.6 L870.3,310.5 L871.3,309.5 L872.3,308.5 L873.3,307.4 L874.3,306.3 L875.3,305.3 L876.3,304.2 L877.3,303.2 L878.3,302.1 L879.3,301.0 L880.3,300.0 L881.3,298.9 L882.3,297.8 L883.3,296.7 L884.3,295.7 L885.3,294.6 L886.3,293.6 L887.3,292.5 L888.3,291.4 L889.3,290.4 L890.3,289.3 L891.3,288.3 L892.3,287.2 L893.3,286.2 L894.3,285.2 L895.3,284.1 L896.3,283.1 L897.3,282.1 L898.3,281.1 L899.3,280.1 L900.3,279.1 L901.3,278.2 L902.3,277.2 L903.3,276.2 L904.3,275.3 L905.3,274.3 L906.3,273.4 L907.3,272.5 L908.3,271.6 L909.3,270.7 L910.3,269.8 L911.3,268.9 L912.3,268.0 L913.3,267.2 L914.3,266.3 L915.3,265.5 L916.3,264.6 L917.3,263.8 L918.3,262.9 L919.3,262.1 L920.3,261.3 L921.3,260.4 L922.3,259.6 L923.3,258.8 L924.3,258.0 L925.3,257.1 L926.3,256.3 L927.3,255.5 L928.3,254.7 L929.3,253.8 L930.3,253.0 L931.3,252.2 L932.3,251.4 L933.3,250.5 L934.3,249.7 L935.3,248.8 L936.3,248.0 L937.3,247.1 L938.3,246.3 L939.3,245.4 L940.3,244.5 L941.3,243.7 L942.3,242.8 L943.3,241.9 L944.3,241.0 L945.3,240.1 L946.3,239.1 L947.3,238.2 L948.3,237.3 L949.3,236.3 L950.3,235.3 L951.3,234.4 L952.3,233.4 L953.3,232.3 L954.3,231.3 L955.3,230.3 L956.3,229.3 L957.3,228.2 L958.3,227.2 L959.3,226.2 L960.3,225.2 L961.3,224.1 L962.3,223.1 L963.3,222.2 L964.3,221.2 L965.3,220.2 L966.3,219.3 L967.3,218.4 L968.3,217.5 L969.3,216.7 L970.3,215.8 L971.3,215.1 L972.3,214.3 L973.3,213.6 L974.3,212.9 L975.3,212.3 L976.3,211.7 L977.3,211.1 L978.3,210.6 L979.3,210.1 L980.3,209.6 L981.3,209.2 L982.3,208.8 L983.3,208.5 L984.3,208.1 L985.3,207.9 L986.3,207.7 L987.3,207.5 L988.3,207.3 L989.3,207.2 L990.3,207.2 L991.3,207.1 L992.3,207.1 L993.3,207.2 L994.3,207.3 L995.3,207.4 L996.3,207.6 L997.3,207.8 L998.3,208.0 L999.3,208.3 L1000.3,208.5 L1001.3,208.9 L1002.3,209.2 L1003.3,209.6 L1004.3,210.0 L1005.3,210.4 L1006.3,210.8 L1007.3,211.3 L1008.3,211.7 L1009.3,212.2 L1010.3,212.7 L1011.3,213.2 L1012.3,213.8 L1013.3,214.3 L1014.3,214.9 L1015.3,215.5 L1016.3,216.0 L1017.3,216.6 L1018.3,217.2 L1019.3,217.8 L1020.3,218.4 L1021.3,219.0 L1022.3,219.6 L1023.3,220.2 L1024.3,220.8 L1025.3,221.4 L1026.3,222.0 L1027.3,222.6 L1028.3,223.2 L1029.3,223.7 L1030.3,224.3 L1031.3,224.8 L1032.3,225.4 L1033.3,225.9 L1034.3,226.4 L1035.3,226.9 L1036.3,227.4 L1037.3,227.8 L1038.3,228.3 L1039.3,228.7 L1040.3,229.1 L1041.3,229.5 L1042.3,229.8 L1043.3,230.2 L1044.3,230.5 L1045.3,230.7 L1046.3,231.0 L1047.3,231.2 L1048.3,231.3 L1049.3,231.5 L1050.3,231.6 L1051.3,231.7 L1052.3,231.7 L1053.3,231.7 L1054.3,231.7 L1055.3,231.6 L1056.3,231.6 L1057.3,231.5 L1058.3,231.4 L1059.3,231.3 L1060.3,231.2 L1061.3,231.0 L1062.3,230.9 L1063.3,230.8 L1064.3,230.6 L1065.3,230.5 L1066.3,230.4 L1067.3,230.2 L1068.3,230.1 L1069.3,230.0 L1070.3,230.0 L1071.3,229.9 L1072.3,229.9 L1073.3,229.8 L1074.3,229.9 L1075.3,229.9 L1076.3,230.0 L1077.3,230.1 L1078.3,230.2 L1079.3,230.4 L1080.3,230.6 L1081.3,230.9 L1082.3,231.2 L1083.3,231.6 L1084.3,232.0 L1085.3,232.5 L1086.3,233.1 L1087.3,233.6 L1088.3,234.3 L1089.3,234.9 L1090.3,235.7 L1091.3,236.4 L1092.3,237.3 L1093.3,238.1 L1094.3,239.0 L1095.3,240.0 L1096.3,241.0 L1097.3,242.1 L1098.3,243.2 L1099.3,244.3 L1100.3,245.6 L1101.3,246.8 L1102.3,248.1 L1103.3,249.4 L1104.3,250.8 L1105.3,252.2 L1106.3,253.7 L1107.3,255.2 L1108.3,256.8 L1109.3,258.4 L1110.3,260.0 L1111.3,261.7 L1112.3,263.4 L1113.3,265.1 L1114.3,266.9 L1115.3,268.7 L1116.3,270.5 L1117.3,272.3 L1118.3,274.2 L1119.3,276.1 L1120.3,278.0 L1121.3,279.9 L1122.3,281.9 L1123.3,283.8 L1124.3,285.8 L1125.3,287.8 L1126.3,289.8 L1127.3,291.8 L1128.3,293.8 L1129.3,295.8 L1130.3,297.8 L1131.3,299.8 L1132.3,301.9 L1133.3,303.9 L1134.3,305.9 L1135.3,307.9 L1136.3,309.9 L1137.3,311.9 L1138.3,313.9 L1139.3,315.8 L1140.3,317.8 L1141.3,319.7 L1142.3,321.6 L1143.3,323.5 L1144.3,325.4 L1145.3,327.3 L1146.3,329.1 L1147.3,330.9 L1148.3,332.7 L1149.3,334.5 L1150.3,336.2 L1151.3,337.9 L1152.3,339.6 L1153.3,341.3 L1154.3,342.9 L1155.3,344.5 L1156.3,346.1 L1157.3,347.6 L1158.3,349.1 L1159.3,350.6 L1160.3,352.1 L1161.3,353.5 L1162.3,354.9 L1163.3,356.2 L1164.3,357.5 L1165.3,358.8 L1166.3,360.1 L1167.3,361.3 L1168.3,362.4 L1169.3,363.5 L1170.3,364.6 L1171.3,365.7 L1172.3,366.7 L1173.3,367.6 L1174.3,368.6 L1175.3,369.4 L1176.3,370.3 L1177.3,371.1 L1178.3,371.8 L1179.3,372.6 L1180.3,373.2 L1181.3,373.9 L1182.3,374.5 L1183.3,375.1 L1184.3,375.6 L1185.3,376.1 L1186.3,376.6 L1187.3,377.0 L1188.3,377.5 L1189.3,377.9 L1190.3,378.2 L1191.3,378.6 L1192.3,378.9 L1193.3,379.2 L1194.3,379.4 L1195.3,379.7 L1196.3,379.9 L1197.3,380.1 L1198.3,380.3 L1199.3,380.5 L1200.3,380.6 L1201.3,380.8 L1202.3,380.9 L1203.3,381.0 L1204.3,381.1 L1205.3,381.2 L1206.3,381.3 L1207.3,381.3 L1208.3,381.4 L1209.3,381.4 L1210.3,381.5 L1211.3,381.5 L1212.3,381.6 L1213.3,381.6 L1214.3,381.6 L1215.3,381.7 L1216.3,381.7 L1217.3,381.7 L1218.3,381.7 L1219.3,381.8 L1220.3,381.8 L1221.3,381.9 L1222.3,381.9 L1223.3,382.0 L1224.3,382.1 L1225.3,382.1 L1226.3,382.2 L1227.3,382.3 L1228.3,382.4 L1229.3,382.6 L1230.3,382.7 L1230.5,382.7" fill="none" stroke="#c02832" stroke-width="3.0" stroke-linejoin="round" stroke-linecap="round"/>
<path d="M796.3,377.0 L797.3,376.8 L798.3,376.6 L799.3,376.3 L800.3,376.1 L801.3,375.8 L802.3,375.5 L803.3,375.2 L804.3,374.9 L805.3,374.6 L806.3,374.2 L807.3,373.9 L808.3,373.5 L809.3,373.1 L810.3,372.7 L811.3,372.2 L812.3,371.8 L813.3,371.3 L814.3,370.8 L815.3,370.3 L816.3,369.8 L817.3,369.2 L818.3,368.7 L819.3,368.1 L820.3,367.5 L821.3,366.8 L822.3,366.2 L823.3,365.5 L824.3,364.8 L825.3,364.1 L826.3,363.4 L827.3,362.6 L828.3,361.9 L829.3,361.1 L830.3,360.2 L831.3,359.4 L832.3,358.5 L833.3,357.6 L834.3,356.7 L835.3,355.7 L836.3,354.8 L837.3,353.8 L838.3,352.7 L839.3,351.7 L840.3,350.6 L841.3,349.5 L842.3,348.4 L843.3,347.2 L844.3,346.1 L845.3,344.8 L846.3,343.6 L847.3,342.3 L848.3,341.0 L849.3,339.7 L850.3,338.4 L851.3,337.0 L852.3,335.6 L853.3,334.1 L854.3,332.7 L855.3,331.2 L856.3,329.6 L857.3,328.1 L858.3,326.5 L859.3,324.9 L860.3,323.3 L861.3,321.7 L862.3,320.1 L863.3,318.4 L864.3,316.8 L865.3,315.1 L866.3,313.5 L867.3,311.8 L868.3,310.2 L869.3,308.6 L870.3,306.9 L871.3,305.3 L872.3,303.7 L873.3,302.1 L874.3,300.5 L875.3,298.9 L876.3,297.4 L877.3,295.9 L878.3,294.4 L879.3,292.9 L880.3,291.5 L881.3,290.0 L882.3,288.6 L883.3,287.2 L884.3,285.8 L885.3,284.5 L886.3,283.1 L887.3,281.8 L888.3,280.4 L889.3,279.1 L890.3,277.7 L891.3,276.4 L892.3,275.0 L893.3,273.7 L894.3,272.3 L895.3,271.0 L896.3,269.6 L897.3,268.3 L898.3,266.9 L899.3,265.5 L900.3,264.1 L901.3,262.7 L902.3,261.2 L903.3,259.8 L904.3,258.3 L905.3,256.8 L906.3,255.3 L907.3,253.7 L908.3,252.1 L909.3,250.5 L910.3,248.9 L911.3,247.2 L912.3,245.5 L913.3,243.8 L914.3,242.0 L915.3,240.2 L916.3,238.3 L917.3,236.4 L918.3,234.5 L919.3,232.6 L920.3,230.6 L921.3,228.6 L922.3,226.5 L923.3,224.5 L924.3,222.4 L925.3,220.3 L926.3,218.2 L927.3,216.1 L928.3,214.0 L929.3,211.9 L930.3,209.7 L931.3,207.6 L932.3,205.5 L933.3,203.3 L934.3,201.2 L935.3,199.1 L936.3,197.0 L937.3,194.9 L938.3,192.8 L939.3,190.7 L940.3,188.7 L941.3,186.7 L942.3,184.7 L943.3,182.7 L944.3,180.8 L945.3,178.8 L946.3,177.0 L947.3,175.1 L948.3,173.3 L949.3,171.6 L950.3,169.9 L951.3,168.2 L952.3,166.6 L953.3,165.0 L954.3,163.5 L955.3,162.1 L956.3,160.7 L957.3,159.4 L958.3,158.1 L959.3,156.9 L960.3,155.8 L961.3,154.7 L962.3,153.7 L963.3,152.8 L964.3,152.0 L965.3,151.2 L966.3,150.5 L967.3,150.0 L968.3,149.5 L969.3,149.1 L970.3,148.7 L971.3,148.5 L972.3,148.4 L973.3,148.4 L974.3,148.5 L975.3,148.7 L976.3,149.0 L977.3,149.4 L978.3,149.8 L979.3,150.4 L980.3,151.1 L981.3,151.9 L982.3,152.8 L983.3,153.8 L984.3,154.9 L985.3,156.0 L986.3,157.3 L987.3,158.6 L988.3,160.1 L989.3,161.6 L990.3,163.2 L991.3,164.8 L992.3,166.6 L993.3,168.4 L994.3,170.3 L995.3,172.3 L996.3,174.4 L997.3,176.5 L998.3,178.7 L999.3,181.0 L1000.3,183.3 L1001.3,185.8 L1002.3,188.2 L1003.3,190.8 L1004.3,193.3 L1005.3,196.0 L1006.3,198.6 L1007.3,201.3 L1008.3,204.1 L1009.3,206.8 L1010.3,209.5 L1011.3,212.2 L1012.3,214.9 L1013.3,217.6 L1014.3,220.3 L1015.3,222.9 L1016.3,225.5 L1017.3,228.0 L1018.3,230.5 L1019.3,233.0 L1020.3,235.4 L1021.3,237.7 L1022.3,240.1 L1023.3,242.3 L1024.3,244.6 L1025.3,246.7 L1026.3,248.9 L1027.3,250.9 L1028.3,253.0 L1029.3,255.0 L1030.3,256.9 L1031.3,258.8 L1032.3,260.6 L1033.3,262.4 L1034.3,264.1 L1035.3,265.8 L1036.3,267.5 L1037.3,269.1 L1038.3,270.6 L1039.3,272.1 L1040.3,273.5 L1041.3,274.9 L1042.3,276.3 L1043.3,277.5 L1044.3,278.8 L1045.3,279.9 L1046.3,281.1 L1047.3,282.1 L1048.3,283.1 L1049.3,284.1 L1050.3,285.0 L1051.3,285.8 L1052.3,286.6 L1053.3,287.4 L1054.3,288.1 L1055.3,288.7 L1056.3,289.3 L1057.3,289.8 L1058.3,290.3 L1059.3,290.7 L1060.3,291.1 L1061.3,291.5 L1062.3,291.9 L1063.3,292.2 L1064.3,292.5 L1065.3,292.9 L1066.3,293.2 L1067.3,293.5 L1068.3,293.8 L1069.3,294.2 L1070.3,294.5 L1071.3,294.9 L1072.3,295.3 L1073.3,295.7 L1074.3,296.2 L1075.3,296.7 L1076.3,297.2 L1077.3,297.7 L1078.3,298.3 L1079.3,298.9 L1080.3,299.5 L1081.3,300.1 L1082.3,300.8 L1083.3,301.4 L1084.3,302.1 L1085.3,302.8 L1086.3,303.6 L1087.3,304.3 L1088.3,305.1 L1089.3,305.9 L1090.3,306.7 L1091.3,307.6 L1092.3,308.4 L1093.3,309.3 L1094.3,310.1 L1095.3,311.0 L1096.3,312.0 L1097.3,312.9 L1098.3,313.8 L1099.3,314.8 L1100.3,315.7 L1101.3,316.7 L1102.3,317.7 L1103.3,318.7 L1104.3,319.7 L1105.3,320.7 L1106.3,321.7 L1107.3,322.8 L1108.3,323.8 L1109.3,324.9 L1110.3,325.9 L1111.3,327.0 L1112.3,328.1 L1113.3,329.1 L1114.3,330.2 L1115.3,331.3 L1116.3,332.4 L1117.3,333.5 L1118.3,334.6 L1119.3,335.7 L1120.3,336.8 L1121.3,337.9 L1122.3,339.0 L1123.3,340.1 L1124.3,341.2 L1125.3,342.3 L1126.3,343.4 L1127.3,344.4 L1128.3,345.5 L1129.3,346.6 L1130.3,347.7 L1131.3,348.8 L1132.3,349.8 L1133.3,350.9 L1134.3,351.9 L1135.3,353.0 L1136.3,354.0 L1137.3,355.0 L1138.3,356.0 L1139.3,357.0 L1140.3,358.0 L1141.3,359.0 L1142.3,359.9 L1143.3,360.9 L1144.3,361.8 L1145.3,362.7 L1146.3,363.6 L1147.3,364.5 L1148.3,365.4 L1149.3,366.2 L1150.3,367.0 L1151.3,367.9 L1152.3,368.6 L1153.3,369.4 L1154.3,370.2 L1155.3,370.9 L1156.3,371.6 L1157.3,372.3 L1158.3,372.9 L1159.3,373.5 L1160.3,374.2 L1161.3,374.7 L1162.3,375.3 L1163.3,375.8 L1164.3,376.3 L1165.3,376.8 L1166.3,377.2 L1167.3,377.7 L1168.3,378.1 L1169.3,378.5 L1170.3,378.8 L1171.3,379.2 L1172.3,379.5 L1173.3,379.8 L1174.3,380.1 L1175.3,380.3 L1176.3,380.6 L1177.3,380.8 L1178.3,381.0 L1179.3,381.2 L1180.3,381.4 L1181.3,381.5 L1182.3,381.7 L1183.3,381.8 L1184.3,381.9 L1185.3,382.0 L1186.3,382.1 L1187.3,382.2 L1188.3,382.3 L1189.3,382.3 L1190.3,382.4 L1191.3,382.4 L1192.3,382.4 L1193.3,382.5 L1194.3,382.5 L1195.3,382.5 L1196.3,382.5 L1197.3,382.5 L1198.3,382.5 L1199.3,382.4 L1200.3,382.4 L1201.3,382.4 L1202.3,382.4 L1203.3,382.3 L1204.3,382.3 L1205.3,382.3 L1206.3,382.3 L1207.3,382.2 L1208.3,382.2 L1209.3,382.2 L1210.3,382.1 L1211.3,382.1 L1212.3,382.1 L1213.3,382.1 L1214.3,382.0 L1215.3,382.0 L1216.3,382.0 L1217.3,382.0 L1218.3,382.0 L1219.3,382.0 L1220.3,382.1 L1221.3,382.1 L1222.3,382.1 L1223.3,382.2 L1224.3,382.2 L1225.3,382.3 L1226.3,382.4 L1227.3,382.5 L1228.3,382.6 L1229.3,382.7 L1230.3,382.7 L1230.5,382.7" fill="none" stroke="#2519aa" stroke-width="3.0" stroke-linejoin="round" stroke-linecap="round"/>
<path d="M123.8,900.8 L124.4,900.8 L125.2,900.8 L126.1,900.8 L127.0,900.8 L128.0,900.8 L129.0,900.8 L130.0,900.8 L131.0,900.8 L132.0,900.8 L133.0,900.8 L134.0,900.8 L135.0,900.8 L136.0,900.8 L137.0,900.8 L138.0,900.8 L139.0,900.8 L140.0,900.8 L141.0,900.8 L142.0,900.8 L143.0,900.8 L144.0,900.8 L145.0,900.8 L146.0,900.8 L147.0,900.8 L148.0,900.8 L149.0,900.8 L150.0,900.8 L151.0,900.8 L152.0,900.8 L153.0,900.8 L154.0,900.8 L155.0,900.8 L156.0,900.8 L157.0,900.8 L158.0,900.8 L159.0,900.8 L160.0,900.8 L161.0,900.8 L162.0,900.8 L163.0,900.8 L164.0,900.8 L165.0,900.8 L166.0,900.8 L167.0,900.8 L168.0,900.8 L169.0,900.8 L170.0,900.8 L171.0,900.8 L172.0,900.8 L173.0,900.8 L174.0,900.8 L175.0,900.8 L176.0,900.8 L177.0,900.8 L178.0,900.8 L179.0,900.8 L180.0,900.8 L181.0,900.8 L182.0,900.8 L183.0,900.8 L184.0,900.8 L185.0,900.8 L186.0,900.8 L187.0,900.8 L188.0,900.8 L189.0,900.8 L190.0,900.8 L191.0,900.8 L192.0,900.8 L193.0,900.8 L194.0,900.8 L195.0,900.8 L196.0,900.8 L197.0,900.8 L198.0,900.8 L199.0,900.8 L200.0,900.8 L201.0,900.8 L202.0,900.8 L203.0,900.8 L204.0,900.8 L205.0,900.8 L206.0,900.8 L207.0,900.8 L208.0,900.8 L209.0,900.8 L210.0,900.8 L211.0,900.8 L212.0,900.8 L213.0,900.8 L214.0,900.8 L215.0,900.8 L216.0,900.8 L217.0,900.8 L218.0,900.8 L219.0,900.8 L220.0,900.8 L221.0,900.8 L222.0,900.8 L223.0,900.8 L224.0,900.8 L225.0,900.8 L226.0,900.8 L227.0,900.8 L228.0,900.8 L229.0,900.8 L230.0,900.7 L231.0,900.6 L232.0,900.4 L232.9,900.2 L233.9,900.0 L234.8,899.7 L235.8,899.3 L236.7,899.0 L237.6,898.6 L238.6,898.2 L239.5,897.8 L240.4,897.4 L241.2,896.9 L242.1,896.4 L242.9,895.8 L243.8,895.3 L244.6,894.7 L245.3,894.1 L246.1,893.4 L246.7,892.7 L247.4,891.9 L248.0,891.1 L248.6,890.3 L249.2,889.5 L249.7,888.7 L250.2,887.8 L250.7,887.0 L251.2,886.1 L251.6,885.2 L252.1,884.3 L252.5,883.4 L252.9,882.4 L253.3,881.5 L253.6,880.6 L254.0,879.7 L254.3,878.7 L254.7,877.8 L255.0,876.8 L255.3,875.9 L255.7,875.0 L256.0,874.0 L256.3,873.1 L256.6,872.1 L256.9,871.1 L257.1,870.2 L257.4,869.2 L257.6,868.2 L257.9,867.3 L258.1,866.3 L258.3,865.3 L258.5,864.3 L258.7,863.4 L258.9,862.4 L259.1,861.4 L259.3,860.4 L259.5,859.4 L259.6,858.4 L259.8,857.5 L260.0,856.5 L260.1,855.5 L260.3,854.5 L260.4,853.5 L260.6,852.5 L260.7,851.5 L260.9,850.5 L261.0,849.5 L261.1,848.6 L261.3,847.6 L261.4,846.6 L261.5,845.6 L261.7,844.6 L261.8,843.6 L261.9,842.6 L262.1,841.6 L262.2,840.6 L262.3,839.6 L262.5,838.7 L262.6,837.7 L262.8,836.7 L262.9,835.7 L263.0,834.7 L263.1,833.7 L263.3,832.7 L263.4,831.7 L263.5,830.7 L263.6,829.7 L263.7,828.7 L263.8,827.7 L263.9,826.7 L264.0,825.7 L264.1,824.8 L264.2,823.8 L264.3,822.8 L264.4,821.8 L264.5,820.8 L264.6,819.8 L264.7,818.8 L264.8,817.8 L264.9,816.8 L265.0,815.8 L265.1,814.8 L265.2,813.8 L265.3,812.8 L265.4,811.8 L265.4,810.8 L265.5,809.8 L265.6,808.8 L265.7,807.8 L265.8,806.8 L265.9,805.8 L266.0,804.8 L266.1,803.8 L266.1,802.8 L266.2,801.8 L266.3,800.8 L266.4,799.9 L266.5,798.9 L266.6,797.9 L266.7,796.9 L266.8,795.9 L266.9,794.9 L267.0,793.9 L267.1,792.9 L267.2,791.9 L267.3,790.9 L267.4,789.9 L267.5,788.9 L267.6,787.9 L267.7,786.9 L267.8,785.9 L267.9,784.9 L268.0,783.9 L268.1,782.9 L268.3,781.9 L268.4,781.0 L268.5,780.0 L268.6,779.0 L268.7,778.0 L268.8,777.0 L268.9,776.0 L269.0,775.0 L269.1,774.0 L269.2,773.0 L269.4,772.0 L269.5,771.0 L269.6,770.0 L269.7,769.0 L269.8,768.0 L269.9,767.0 L270.0,766.0 L270.1,765.1 L270.3,764.1 L270.4,763.1 L270.5,762.1 L270.6,761.1 L270.7,760.1 L270.8,759.1 L271.0,758.1 L271.1,757.1 L271.2,756.1 L271.3,755.1 L271.4,754.1 L271.5,753.1 L271.7,752.1 L271.8,751.2 L271.9,750.2 L272.0,749.2 L272.2,748.2 L272.3,747.2 L272.4,746.2 L272.5,745.2 L272.7,744.2 L272.8,743.2 L272.9,742.2 L273.0,741.2 L273.2,740.2 L273.3,739.2 L273.4,738.3 L273.6,737.3 L273.7,736.3 L273.8,735.3 L274.0,734.3 L274.1,733.3 L274.2,732.3 L274.3,731.3 L274.5,730.3 L274.6,729.3 L274.7,728.3 L274.9,727.4 L275.0,726.4 L275.2,725.4 L275.3,724.4 L275.5,723.4 L275.6,722.4 L275.8,721.4 L275.9,720.4 L276.1,719.4 L276.2,718.5 L276.4,717.5 L276.6,716.5 L276.7,715.5 L276.9,714.5 L277.1,713.5 L277.3,712.5 L277.5,711.6 L277.6,710.6 L277.8,709.6 L278.0,708.6 L278.1,707.6 L278.3,706.6 L278.5,705.6 L278.6,704.7 L278.8,703.7 L279.0,702.7 L279.1,701.7 L279.3,700.7 L279.5,699.7 L279.7,698.7 L279.8,697.8 L280.0,696.8 L280.2,695.8 L280.4,694.8 L280.6,693.8 L280.8,692.9 L281.0,691.9 L281.2,690.9 L281.4,689.9 L281.7,689.0 L281.9,688.0 L282.2,687.0 L282.4,686.1 L282.7,685.1 L283.1,684.2 L283.4,683.2 L283.8,682.3 L284.2,681.4 L284.6,680.5 L285.1,679.6 L285.6,678.7 L286.1,677.9 L286.7,677.1 L287.3,676.3 L287.9,675.5 L288.6,674.8 L289.3,674.2 L290.1,673.7 L291.0,673.3 L291.8,673.1 L292.7,673.1 L293.6,673.3 L294.5,673.7 L295.2,674.2 L296.0,674.9 L296.7,675.6 L297.3,676.3 L297.9,677.1 L298.5,677.9 L299.0,678.8 L299.5,679.6 L300.0,680.5 L300.5,681.4 L300.9,682.3 L301.2,683.2 L301.6,684.2 L301.9,685.1 L302.2,686.1 L302.4,687.0 L302.7,688.0 L302.9,689.0 L303.1,690.0 L303.3,690.9 L303.5,691.9 L303.7,692.9 L303.9,693.9 L304.1,694.9 L304.2,695.8 L304.4,696.8 L304.6,697.8 L304.8,698.8 L305.0,699.8 L305.1,700.8 L305.3,701.8 L305.5,702.7 L305.6,703.7 L305.8,704.7 L305.9,705.7 L306.0,706.7 L306.2,707.7 L306.3,708.7 L306.4,709.7 L306.5,710.7 L306.7,711.7 L306.8,712.6 L306.9,713.6 L307.0,714.6 L307.1,715.6 L307.2,716.6 L307.3,717.6 L307.4,718.6 L307.5,719.6 L307.6,720.6 L307.7,721.6 L307.8,722.6 L307.9,723.6 L308.0,724.6 L308.1,725.6 L308.2,726.6 L308.3,727.6 L308.4,728.6 L308.5,729.6 L308.7,730.5 L308.8,731.5 L308.9,732.5 L309.0,733.5 L309.1,734.5 L309.3,735.5 L309.4,736.5 L309.5,737.5 L309.7,738.5 L309.8,739.5 L310.0,740.5 L310.1,741.4 L310.3,742.4 L310.5,743.4 L310.7,744.4 L310.8,745.4 L311.0,746.4 L311.2,747.4 L311.4,748.3 L311.6,749.3 L311.8,750.3 L312.0,751.3 L312.2,752.3 L312.4,753.2 L312.6,754.2 L312.8,755.2 L313.0,756.2 L313.2,757.1 L313.4,758.1 L313.6,759.1 L313.8,760.1 L314.1,761.1 L314.3,762.0 L314.5,763.0 L314.7,764.0 L314.9,765.0 L315.1,765.9 L315.3,766.9 L315.5,767.9 L315.7,768.9 L315.9,769.9 L316.0,770.9 L316.2,771.8 L316.4,772.8 L316.6,773.8 L316.8,774.8 L317.0,775.8 L317.2,776.7 L317.4,777.7 L317.7,778.7 L317.9,779.7 L318.1,780.6 L318.4,781.6 L318.7,782.6 L319.0,783.5 L319.3,784.5 L319.6,785.4 L320.0,786.3 L320.4,787.3 L320.7,788.2 L321.1,789.1 L321.5,790.0 L322.0,790.9 L322.4,791.8 L322.8,792.7 L323.3,793.6 L323.8,794.5 L324.3,795.3 L324.8,796.2 L325.4,797.0 L325.9,797.8 L326.5,798.6 L327.2,799.4 L327.8,800.1 L328.6,800.8 L329.4,801.4 L330.2,802.0 L331.0,802.5 L331.9,803.0 L332.8,803.4 L333.7,803.9 L334.6,804.3 L335.4,804.8 L336.3,805.2 L337.2,805.6 L338.1,806.0 L339.1,806.3 L340.0,806.4 L340.9,806.4 L341.8,806.2 L342.6,805.8 L343.4,805.3 L344.0,804.6 L344.6,803.8 L345.1,803.0 L345.5,802.1 L345.9,801.2 L346.2,800.2 L346.5,799.3 L346.8,798.3 L347.0,797.3 L347.2,796.4 L347.4,795.4 L347.7,794.4 L347.9,793.4 L348.0,792.4 L348.2,791.5 L348.4,790.5 L348.6,789.5 L348.8,788.5 L348.9,787.5 L349.1,786.5 L349.3,785.6 L349.4,784.6 L349.6,783.6 L349.8,782.6 L349.9,781.6 L350.1,780.6 L350.3,779.6 L350.4,778.6 L350.6,777.7 L350.8,776.7 L350.9,775.7 L351.1,774.7 L351.3,773.7 L351.5,772.7 L351.7,771.8 L351.9,770.8 L352.1,769.8 L352.3,768.8 L352.5,767.8 L352.7,766.9 L352.9,765.9 L353.1,764.9 L353.3,763.9 L353.5,762.9 L353.7,762.0 L353.9,761.0 L354.1,760.0 L354.3,759.0 L354.5,758.1 L354.7,757.1 L354.9,756.1 L355.1,755.1 L355.3,754.1 L355.5,753.2 L355.7,752.2 L355.9,751.2 L356.1,750.2 L356.3,749.2 L356.5,748.3 L356.7,747.3 L356.9,746.3 L357.1,745.3 L357.3,744.3 L357.5,743.4 L357.7,742.4 L357.9,741.4 L358.0,740.4 L358.2,739.4 L358.4,738.4 L358.6,737.4 L358.7,736.5 L358.9,735.5 L359.1,734.5 L359.2,733.5 L359.4,732.5 L359.5,731.5 L359.6,730.5 L359.8,729.5 L359.9,728.6 L360.0,727.6 L360.2,726.6 L360.3,725.6 L360.4,724.6 L360.5,723.6 L360.6,722.6 L360.7,721.6 L360.8,720.6 L360.9,719.6 L361.1,718.6 L361.2,717.6 L361.3,716.6 L361.4,715.6 L361.5,714.6 L361.6,713.6 L361.7,712.7 L361.9,711.7 L362.0,710.7 L362.1,709.7 L362.3,708.7 L362.4,707.7 L362.6,706.7 L362.7,705.7 L362.9,704.7 L363.1,703.8 L363.2,702.8 L363.4,701.8 L363.6,700.8 L363.8,699.8 L363.9,698.8 L364.1,697.9 L364.3,696.9 L364.5,695.9 L364.7,694.9 L364.9,693.9 L365.2,693.0 L365.4,692.0 L365.6,691.0 L365.9,690.1 L366.1,689.1 L366.4,688.1 L366.7,687.2 L366.9,686.2 L367.2,685.2 L367.5,684.3 L367.9,683.4 L368.3,682.6 L368.7,682.0 L369.3,681.6 L369.8,681.6 L370.4,681.9 L371.0,682.5 L371.5,683.3 L371.9,684.1 L372.3,685.0 L372.6,686.0 L372.9,686.9 L373.1,687.9 L373.3,688.9 L373.5,689.9 L373.7,690.8 L373.8,691.8 L374.0,692.8 L374.1,693.8 L374.3,694.8 L374.4,695.8 L374.6,696.8 L374.7,697.8 L374.9,698.8 L375.0,699.7 L375.1,700.7 L375.2,701.7 L375.3,702.7 L375.5,703.7 L375.6,704.7 L375.7,705.7 L375.8,706.7 L375.9,707.7 L376.0,708.7 L376.1,709.7 L376.1,710.7 L376.2,711.7 L376.3,712.7 L376.4,713.7 L376.5,714.7 L376.6,715.7 L376.7,716.7 L376.8,717.7 L376.9,718.7 L377.0,719.6 L377.1,720.6 L377.2,721.6 L377.3,722.6 L377.4,723.6 L377.5,724.6 L377.6,725.6 L377.7,726.6 L377.8,727.6 L377.9,728.6 L378.0,729.6 L378.1,730.6 L378.2,731.6 L378.4,732.6 L378.5,733.6 L378.6,734.6 L378.7,735.5 L378.9,736.5 L379.0,737.5 L379.1,738.5 L379.3,739.5 L379.4,740.5 L379.5,741.5 L379.7,742.5 L379.8,743.5 L379.9,744.5 L380.1,745.5 L380.2,746.4 L380.3,747.4 L380.5,748.4 L380.6,749.4 L380.8,750.4 L380.9,751.4 L381.0,752.4 L381.2,753.4 L381.3,754.4 L381.5,755.4 L381.6,756.3 L381.7,757.3 L381.9,758.3 L382.0,759.3 L382.2,760.3 L382.3,761.3 L382.4,762.3 L382.6,763.3 L382.7,764.3 L382.9,765.3 L383.0,766.3 L383.1,767.2 L383.3,768.2 L383.4,769.2 L383.6,770.2 L383.7,771.2 L383.9,772.2 L384.0,773.2 L384.1,774.2 L384.3,775.2 L384.4,776.1 L384.6,777.1 L384.7,778.1 L384.9,779.1 L385.0,780.1 L385.2,781.1 L385.3,782.1 L385.5,783.1 L385.6,784.1 L385.7,785.1 L385.9,786.0 L386.0,787.0 L386.1,788.0 L386.3,789.0 L386.4,790.0 L386.5,791.0 L386.7,792.0 L386.8,793.0 L386.9,794.0 L387.0,795.0 L387.2,796.0 L387.3,797.0 L387.4,797.9 L387.6,798.9 L387.7,799.9 L387.8,800.9 L388.0,801.9 L388.1,802.9 L388.3,803.9 L388.4,804.9 L388.6,805.9 L388.7,806.9 L388.9,807.8 L389.0,808.8 L389.2,809.8 L389.4,810.8 L389.5,811.8 L389.7,812.8 L389.9,813.7 L390.1,814.7 L390.3,815.7 L390.5,816.7 L390.7,817.7 L391.0,818.6 L391.2,819.6 L391.5,820.6 L391.8,821.5 L392.1,822.5 L392.5,823.4 L392.8,824.3 L393.2,825.3 L393.5,826.2 L393.9,827.1 L394.3,828.0 L394.8,828.9 L395.3,829.8 L395.8,830.6 L396.5,831.3 L397.2,832.0 L397.9,832.5 L398.8,833.0 L399.7,833.2 L400.6,833.3 L401.6,833.3 L402.6,833.3 L403.5,833.3 L404.5,833.3 L405.4,833.5 L406.3,833.8 L407.2,834.3 L407.9,834.8 L408.6,835.5 L409.2,836.3 L409.8,837.1 L410.3,837.9 L410.7,838.8 L411.1,839.7 L411.5,840.7 L411.8,841.6 L412.1,842.6 L412.4,843.5 L412.6,844.5 L412.9,845.5 L413.1,846.4 L413.4,847.4 L413.6,848.4 L413.8,849.3 L414.1,850.3 L414.3,851.3 L414.6,852.2 L414.8,853.2 L415.1,854.2 L415.4,855.1 L415.6,856.1 L415.9,857.1 L416.2,858.0 L416.5,859.0 L416.8,859.9 L417.1,860.9 L417.4,861.8 L417.7,862.8 L418.0,863.7 L418.3,864.7 L418.7,865.6 L419.0,866.6 L419.3,867.5 L419.7,868.5 L420.1,869.4 L420.5,870.3 L420.9,871.2 L421.4,872.1 L421.8,872.9 L422.4,873.8 L422.9,874.6 L423.5,875.5 L424.1,876.3 L424.7,877.1 L425.3,877.8 L426.0,878.6 L426.7,879.2 L427.4,879.9 L428.2,880.4 L429.1,880.7 L430.0,880.9 L430.9,880.9 L431.7,880.7 L432.6,880.3 L433.4,879.8 L434.2,879.2 L434.8,878.5 L435.5,877.8 L436.1,877.0 L436.7,876.2 L437.2,875.3 L437.6,874.4 L438.0,873.5 L438.4,872.6 L438.8,871.7 L439.0,870.7 L439.3,869.7 L439.6,868.8 L439.8,867.8 L440.0,866.8 L440.2,865.8 L440.3,864.9 L440.5,863.9 L440.7,862.9 L440.8,861.9 L441.0,860.9 L441.1,859.9 L441.2,858.9 L441.4,857.9 L441.5,856.9 L441.6,856.0 L441.8,855.0 L441.9,854.0 L442.1,853.0 L442.2,852.0 L442.3,851.0 L442.5,850.0 L442.6,849.0 L442.8,848.0 L442.9,847.0 L443.0,846.0 L443.1,845.1 L443.3,844.1 L443.4,843.1 L443.5,842.1 L443.6,841.1 L443.7,840.1 L443.8,839.1 L443.9,838.1 L444.0,837.1 L444.1,836.1 L444.2,835.1 L444.3,834.1 L444.4,833.1 L444.5,832.1 L444.6,831.1 L444.7,830.1 L444.8,829.1 L444.8,828.1 L444.9,827.1 L445.0,826.1 L445.1,825.2 L445.2,824.2 L445.3,823.2 L445.3,822.2 L445.4,821.2 L445.5,820.2 L445.6,819.2 L445.7,818.2 L445.8,817.2 L445.8,816.2 L445.9,815.2 L446.0,814.2 L446.1,813.2 L446.2,812.2 L446.3,811.2 L446.4,810.2 L446.4,809.2 L446.5,808.2 L446.6,807.2 L446.7,806.2 L446.8,805.2 L446.9,804.2 L447.0,803.2 L447.0,802.2 L447.1,801.2 L447.2,800.2 L447.3,799.2 L447.4,798.2 L447.5,797.3 L447.5,796.3 L447.6,795.3 L447.7,794.3 L447.8,793.3 L447.9,792.3 L447.9,791.3 L448.0,790.3 L448.1,789.3 L448.2,788.3 L448.3,787.3 L448.3,786.3 L448.4,785.3 L448.5,784.3 L448.6,783.3 L448.6,782.3 L448.7,781.3 L448.8,780.3 L448.9,779.3 L448.9,778.3 L449.0,777.3 L449.1,776.3 L449.2,775.3 L449.3,774.3 L449.3,773.3 L449.4,772.3 L449.5,771.3 L449.6,770.3 L449.6,769.3 L449.7,768.3 L449.8,767.3 L449.9,766.3 L449.9,765.3 L450.0,764.4 L450.1,763.4 L450.2,762.4 L450.2,761.4 L450.3,760.4 L450.4,759.4 L450.5,758.4 L450.5,757.4 L450.6,756.4 L450.7,755.4 L450.8,754.4 L450.8,753.4 L450.9,752.4 L451.0,751.4 L451.1,750.4 L451.1,749.4 L451.2,748.4 L451.3,747.4 L451.4,746.4 L451.4,745.4 L451.5,744.4 L451.6,743.4 L451.7,742.4 L451.7,741.4 L451.8,740.4 L451.9,739.4 L452.0,738.4 L452.0,737.4 L452.1,736.4 L452.2,735.4 L452.2,734.4 L452.3,733.4 L452.4,732.4 L452.5,731.4 L452.5,730.4 L452.6,729.4 L452.7,728.5 L452.7,727.5 L452.8,726.5 L452.9,725.5 L453.0,724.5 L453.0,723.5 L453.1,722.5 L453.2,721.5 L453.2,720.5 L453.3,719.5 L453.4,718.5 L453.4,717.5 L453.5,716.5 L453.6,715.5 L453.6,714.5 L453.7,713.5 L453.8,712.5 L453.8,711.5 L453.9,710.5 L453.9,709.5 L454.0,708.5 L454.1,707.5 L454.1,706.5 L454.2,705.5 L454.3,704.5 L454.3,703.5 L454.4,702.5 L454.4,701.5 L454.5,700.5 L454.6,699.5 L454.6,698.5 L454.7,697.5 L454.7,696.5 L454.8,695.5 L454.8,694.5 L454.9,693.5 L455.0,692.5 L455.0,691.5 L455.1,690.5 L455.1,689.5 L455.2,688.5 L455.3,687.5 L455.3,686.5 L455.4,685.5 L455.4,684.5 L455.5,683.5 L455.6,682.5 L455.6,681.5 L455.7,680.5 L455.8,679.5 L455.8,678.6 L455.9,677.6 L455.9,676.6 L456.0,675.6 L456.1,674.6 L456.1,673.6 L456.2,672.6 L456.3,671.6 L456.3,670.6 L456.4,669.6 L456.5,668.6 L456.5,667.6 L456.6,666.6 L456.6,665.6 L456.7,664.6 L456.8,663.6 L456.8,662.6 L456.9,661.6 L457.0,660.6 L457.0,659.6 L457.1,658.6 L457.1,657.6 L457.2,656.6 L457.3,655.6 L457.3,654.6 L457.4,653.6 L457.5,652.6 L457.5,651.6 L457.6,650.6 L457.7,649.6 L457.7,648.6 L457.8,647.6 L457.9,646.6 L457.9,645.6 L458.0,644.6 L458.1,643.6 L458.1,642.6 L458.2,641.6 L458.3,640.6 L458.3,639.6 L458.4,638.6 L458.5,637.6 L458.5,636.6 L458.6,635.6 L458.7,634.6 L458.8,633.6 L458.8,632.6 L458.9,631.7 L459.0,630.7 L459.0,629.7 L459.1,628.7 L459.2,627.7 L459.3,626.7 L459.3,625.7 L459.4,624.7 L459.5,623.7 L459.5,622.7 L459.6,621.7 L459.7,620.7 L459.7,619.7 L459.8,618.7 L459.9,617.7 L459.9,616.7 L460.0,615.7 L460.1,614.7 L460.1,613.7 L460.2,612.7 L460.3,611.7 L460.4,610.7 L460.4,609.7 L460.5,608.7 L460.6,607.7 L460.7,606.7 L460.7,605.7 L460.8,604.7 L460.9,603.7 L461.0,602.7 L461.1,601.7 L461.2,600.7 L461.3,599.7 L461.3,598.7 L461.4,597.7 L461.5,596.8 L461.6,595.8 L461.8,594.8 L461.9,593.8 L462.0,592.8 L462.1,591.8 L462.2,590.8 L462.3,589.8 L462.4,588.8 L462.6,587.8 L462.7,586.8 L462.8,585.8 L462.9,584.8 L463.0,583.8 L463.2,582.8 L463.3,581.9 L463.4,580.9 L463.6,579.9 L463.7,578.9 L463.8,577.9 L464.0,576.9 L464.1,575.9 L464.3,574.9 L464.5,573.9 L464.6,573.0 L464.8,572.0 L465.0,571.0 L465.3,570.0 L465.5,569.1 L465.8,568.1 L466.1,567.2 L466.4,566.2 L466.8,565.3 L467.3,564.4 L467.7,563.7 L468.3,563.0 L468.9,562.6 L469.5,562.5 L470.1,562.8 L470.7,563.3 L471.2,564.0 L471.6,564.8 L472.0,565.7 L472.3,566.7 L472.7,567.6 L472.9,568.6 L473.2,569.5 L473.4,570.5 L473.6,571.5 L473.8,572.5 L474.0,573.4 L474.2,574.4 L474.3,575.4 L474.4,576.4 L474.6,577.4 L474.7,578.4 L474.8,579.4 L474.9,580.4 L475.1,581.4 L475.2,582.4 L475.3,583.4 L475.4,584.4 L475.5,585.4 L475.6,586.3 L475.7,587.3 L475.8,588.3 L475.9,589.3 L476.0,590.3 L476.2,591.3 L476.3,592.3 L476.4,593.3 L476.5,594.3 L476.6,595.3 L476.7,596.3 L476.8,597.3 L476.9,598.3 L477.0,599.3 L477.1,600.3 L477.2,601.3 L477.3,602.3 L477.4,603.2 L477.5,604.2 L477.6,605.2 L477.7,606.2 L477.8,607.2 L477.9,608.2 L478.0,609.2 L478.1,610.2 L478.2,611.2 L478.2,612.2 L478.3,613.2 L478.4,614.2 L478.5,615.2 L478.6,616.2 L478.7,617.2 L478.8,618.2 L478.9,619.2 L479.0,620.2 L479.1,621.2 L479.2,622.2 L479.3,623.2 L479.4,624.2 L479.5,625.2 L479.6,626.1 L479.7,627.1 L479.8,628.1 L479.9,629.1 L480.0,630.1 L480.1,631.1 L480.2,632.1 L480.3,633.1 L480.4,634.1 L480.5,635.1 L480.6,636.1 L480.7,637.1 L480.8,638.1 L480.9,639.1 L481.0,640.1 L481.1,641.1 L481.2,642.1 L481.3,643.1 L481.4,644.1 L481.5,645.0 L481.6,646.0 L481.7,647.0 L481.8,648.0 L481.9,649.0 L482.0,650.0 L482.1,651.0 L482.2,652.0 L482.3,653.0 L482.4,654.0 L482.5,655.0 L482.6,656.0 L482.7,657.0 L482.8,658.0 L482.9,659.0 L483.0,660.0 L483.0,661.0 L483.1,662.0 L483.2,663.0 L483.3,664.0 L483.4,665.0 L483.5,666.0 L483.6,667.0 L483.6,667.9 L483.7,668.9 L483.8,669.9 L483.9,670.9 L484.0,671.9 L484.1,672.9 L484.1,673.9 L484.2,674.9 L484.3,675.9 L484.4,676.9 L484.5,677.9 L484.5,678.9 L484.6,679.9 L484.7,680.9 L484.7,681.9 L484.8,682.9 L484.9,683.9 L485.0,684.9 L485.0,685.9 L485.1,686.9 L485.2,687.9 L485.2,688.9 L485.3,689.9 L485.4,690.9 L485.4,691.9 L485.5,692.9 L485.5,693.9 L485.6,694.9 L485.6,695.9 L485.7,696.9 L485.7,697.9 L485.8,698.9 L485.8,699.9 L485.9,700.9 L485.9,701.9 L486.0,702.9 L486.0,703.9 L486.1,704.9 L486.1,705.9 L486.2,706.9 L486.2,707.9 L486.3,708.9 L486.3,709.9 L486.3,710.9 L486.4,711.9 L486.4,712.9 L486.5,713.9 L486.5,714.9 L486.6,715.9 L486.6,716.9 L486.6,717.9 L486.7,718.9 L486.7,719.9 L486.8,720.9 L486.8,721.9 L486.9,722.8 L486.9,723.8 L486.9,724.8 L487.0,725.8 L487.0,726.8 L487.1,727.8 L487.1,728.8 L487.2,729.8 L487.2,730.8 L487.3,731.8 L487.3,732.8 L487.4,733.8 L487.4,734.8 L487.5,735.8 L487.5,736.8 L487.6,737.8 L487.6,738.8 L487.7,739.8 L487.7,740.8 L487.8,741.8 L487.9,742.8 L487.9,743.8 L488.0,744.8 L488.1,745.8 L488.1,746.8 L488.2,747.8 L488.2,748.8 L488.3,749.8 L488.4,750.8 L488.4,751.8 L488.5,752.8 L488.6,753.8 L488.7,754.8 L488.7,755.8 L488.8,756.8 L488.9,757.8 L488.9,758.8 L489.0,759.8 L489.1,760.8 L489.2,761.8 L489.2,762.8 L489.3,763.8 L489.4,764.8 L489.4,765.8 L489.5,766.8 L489.6,767.8 L489.7,768.8 L489.7,769.8 L489.8,770.8 L489.9,771.8 L490.0,772.7 L490.0,773.7 L490.1,774.7 L490.2,775.7 L490.3,776.7 L490.4,777.7 L490.4,778.7 L490.5,779.7 L490.6,780.7 L490.7,781.7 L490.8,782.7 L490.8,783.7 L490.9,784.7 L491.0,785.7 L491.1,786.7 L491.2,787.7 L491.2,788.7 L491.3,789.7 L491.4,790.7 L491.5,791.7 L491.6,792.7 L491.7,793.7 L491.8,794.7 L491.8,795.7 L491.9,796.7 L492.0,797.7 L492.1,798.7 L492.2,799.7 L492.3,800.7 L492.4,801.6 L492.5,802.6 L492.5,803.6 L492.6,804.6 L492.7,805.6 L492.8,806.6 L492.9,807.6 L493.0,808.6 L493.1,809.6 L493.2,810.6 L493.3,811.6 L493.4,812.6 L493.5,813.6 L493.6,814.6 L493.6,815.6 L493.7,816.6 L493.8,817.6 L493.9,818.6 L494.0,819.6 L494.1,820.6 L494.2,821.6 L494.3,822.6 L494.4,823.6 L494.5,824.6 L494.6,825.6 L494.7,826.5 L494.8,827.5 L494.9,828.5 L495.0,829.5 L495.1,830.5 L495.2,831.5 L495.3,832.5 L495.5,833.5 L495.6,834.5 L495.8,835.5 L495.9,836.5 L496.1,837.5 L496.2,838.4 L496.4,839.4 L496.6,840.4 L496.8,841.4 L497.0,842.4 L497.2,843.3 L497.5,844.3 L497.7,845.3 L498.0,846.2 L498.2,847.2 L498.5,848.2 L498.8,849.1 L499.1,850.1 L499.3,851.1 L499.6,852.0 L499.9,853.0 L500.2,853.9 L500.5,854.9 L500.8,855.8 L501.0,856.8 L501.3,857.8 L501.6,858.7 L501.8,859.7 L502.0,860.7 L502.3,861.6 L502.5,862.6 L502.7,863.6 L502.9,864.6 L503.1,865.6 L503.3,866.5 L503.5,867.5 L503.7,868.5 L503.9,869.5 L504.1,870.5 L504.3,871.4 L504.5,872.4 L504.7,873.4 L505.0,874.4 L505.2,875.3 L505.5,876.3 L505.8,877.3 L506.0,878.2 L506.4,879.2 L506.7,880.1 L507.0,881.0 L507.4,882.0 L507.7,882.9 L508.1,883.8 L508.5,884.8 L508.9,885.7 L509.3,886.6 L509.7,887.5 L510.2,888.4 L510.6,889.3 L511.1,890.2 L511.6,891.0 L512.2,891.9 L512.7,892.7 L513.3,893.5 L513.9,894.3 L514.6,895.0 L515.3,895.7 L516.0,896.4 L516.7,897.1 L517.5,897.7 L518.3,898.3 L519.2,898.8 L520.1,899.2 L521.0,899.5 L521.9,899.8 L522.9,900.0 L523.9,900.2 L524.9,900.4 L525.8,900.5 L526.8,900.6 L527.8,900.7 L528.8,900.7 L529.8,900.8 L530.8,900.8 L531.8,900.8 L532.8,900.8 L533.8,900.8 L534.8,900.8 L535.8,900.8 L536.8,900.8 L537.8,900.8 L538.8,900.8 L539.8,900.8 L540.8,900.8 L541.8,900.8 L542.8,900.8 L543.8,900.8 L544.8,900.8 L545.8,900.8 L546.8,900.8 L547.8,900.8 L548.8,900.8 L549.8,900.8 L550.8,900.8 L551.8,900.8 L552.8,900.8 L553.8,900.8 L554.8,900.8 L555.8,900.8 L556.8,900.8 L557.8,900.8 L558.8,900.8 L559.8,900.8 L560.8,900.8 L561.8,900.8 L562.8,900.8 L563.8,900.8 L564.8,900.8 L565.8,900.8 L566.8,900.8 L567.8,900.8 L568.8,900.8 L569.8,900.8 L570.8,900.8 L571.7,900.8 L572.6,900.8 L573.3,900.8 L573.9,900.8" fill="none" stroke="#0a0a0a" stroke-width="3.0" stroke-linejoin="round" stroke-linecap="round"/>
<path d="M123.8,900.8 L124.4,900.8 L125.2,900.8 L126.1,900.8 L127.0,900.8 L128.0,900.8 L129.0,900.8 L130.0,900.8 L131.0,900.8 L132.0,900.8 L133.0,900.8 L134.0,900.8 L135.0,900.8 L136.0,900.8 L137.0,900.8 L138.0,900.8 L139.0,900.8 L140.0,900.8 L141.0,900.8 L142.0,900.8 L143.0,900.8 L144.0,900.8 L145.0,900.8 L146.0,900.8 L147.0,900.8 L148.0,900.8 L149.0,900.8 L150.0,900.8 L151.0,900.8 L152.0,900.8 L153.0,900.8 L154.0,900.8 L155.0,900.8 L156.0,900.8 L157.0,900.8 L158.0,900.8 L159.0,900.8 L160.0,900.8 L161.0,900.8 L162.0,900.8 L163.0,900.8 L164.0,900.8 L165.0,900.8 L166.0,900.8 L167.0,900.8 L168.0,900.8 L169.0,900.8 L170.0,900.8 L171.0,900.8 L172.0,900.8 L173.0,900.8 L174.0,900.8 L175.0,900.8 L176.0,900.8 L177.0,900.8 L178.0,900.8 L179.0,900.8 L180.0,900.8 L181.0,900.8 L182.0,900.8 L183.0,900.8 L184.0,900.8 L185.0,900.8 L186.0,900.8 L187.0,900.8 L188.0,900.8 L189.0,900.8 L190.0,900.8 L191.0,900.8 L192.0,900.8 L193.0,900.8 L194.0,900.8 L195.0,900.8 L196.0,900.8 L197.0,900.8 L198.0,900.8 L199.0,900.8 L200.0,900.8 L201.0,900.8 L202.0,900.8 L203.0,900.8 L204.0,900.8 L205.0,900.8 L206.0,900.8 L207.0,900.8 L208.0,900.8 L209.0,900.8 L210.0,900.8 L211.0,900.8 L212.0,900.8 L213.0,900.8 L214.0,900.8 L215.0,900.8 L216.0,900.8 L217.0,900.8 L218.0,900.8 L219.0,900.8 L220.0,900.8 L221.0,900.8 L222.0,900.7 L223.0,900.6 L224.0,900.6 L225.0,900.5 L226.0,900.3 L227.0,900.2 L227.9,900.0 L228.9,899.7 L229.9,899.5 L230.8,899.2 L231.7,898.8 L232.7,898.5 L233.6,898.1 L234.5,897.7 L235.4,897.3 L236.4,896.9 L237.3,896.5 L238.2,896.0 L239.0,895.6 L239.9,895.1 L240.8,894.6 L241.6,894.0 L242.4,893.5 L243.2,892.9 L244.0,892.2 L244.7,891.5 L245.4,890.8 L246.1,890.1 L246.7,889.3 L247.2,888.5 L247.8,887.6 L248.2,886.8 L248.7,885.9 L249.1,885.0 L249.5,884.0 L249.8,883.1 L250.1,882.2 L250.4,881.2 L250.7,880.2 L251.0,879.3 L251.2,878.3 L251.5,877.3 L251.7,876.4 L251.9,875.4 L252.1,874.4 L252.3,873.4 L252.5,872.5 L252.7,871.5 L252.9,870.5 L253.1,869.5 L253.3,868.5 L253.4,867.5 L253.6,866.6 L253.8,865.6 L254.0,864.6 L254.2,863.6 L254.4,862.6 L254.6,861.7 L254.8,860.7 L255.0,859.7 L255.2,858.7 L255.4,857.7 L255.6,856.8 L255.8,855.8 L255.9,854.8 L256.1,853.8 L256.3,852.8 L256.4,851.8 L256.6,850.8 L256.7,849.8 L256.9,848.9 L257.0,847.9 L257.2,846.9 L257.3,845.9 L257.5,844.9 L257.6,843.9 L257.7,842.9 L257.9,841.9 L258.0,840.9 L258.1,839.9 L258.3,839.0 L258.4,838.0 L258.5,837.0 L258.6,836.0 L258.8,835.0 L258.9,834.0 L259.0,833.0 L259.1,832.0 L259.3,831.0 L259.4,830.0 L259.5,829.0 L259.6,828.0 L259.7,827.0 L259.9,826.1 L260.0,825.1 L260.1,824.1 L260.2,823.1 L260.4,822.1 L260.5,821.1 L260.6,820.1 L260.7,819.1 L260.9,818.1 L261.0,817.1 L261.1,816.1 L261.2,815.1 L261.4,814.1 L261.5,813.2 L261.6,812.2 L261.8,811.2 L261.9,810.2 L262.0,809.2 L262.2,808.2 L262.3,807.2 L262.5,806.2 L262.6,805.2 L262.7,804.2 L262.9,803.3 L263.0,802.3 L263.2,801.3 L263.3,800.3 L263.5,799.3 L263.6,798.3 L263.8,797.3 L263.9,796.3 L264.1,795.3 L264.2,794.4 L264.3,793.4 L264.5,792.4 L264.6,791.4 L264.8,790.4 L264.9,789.4 L265.1,788.4 L265.2,787.4 L265.4,786.4 L265.5,785.4 L265.7,784.5 L265.8,783.5 L266.0,782.5 L266.1,781.5 L266.3,780.5 L266.4,779.5 L266.6,778.5 L266.7,777.5 L266.9,776.6 L267.1,775.6 L267.2,774.6 L267.4,773.6 L267.6,772.6 L267.7,771.6 L267.9,770.6 L268.1,769.7 L268.3,768.7 L268.5,767.7 L268.7,766.7 L268.9,765.7 L269.0,764.7 L269.3,763.8 L269.5,762.8 L269.7,761.8 L269.9,760.8 L270.1,759.9 L270.3,758.9 L270.5,757.9 L270.7,756.9 L270.9,756.0 L271.2,755.0 L271.5,754.1 L271.9,753.1 L272.3,752.2 L272.8,751.4 L273.4,750.6 L274.0,749.9 L274.8,749.4 L275.5,749.1 L276.3,749.0 L277.1,749.2 L277.9,749.6 L278.5,750.2 L279.2,750.9 L279.7,751.7 L280.2,752.6 L280.6,753.5 L281.0,754.4 L281.3,755.3 L281.6,756.3 L281.9,757.3 L282.2,758.2 L282.4,759.2 L282.7,760.2 L282.9,761.1 L283.2,762.1 L283.4,763.1 L283.7,764.0 L283.9,765.0 L284.2,766.0 L284.5,766.9 L284.7,767.9 L285.0,768.9 L285.2,769.8 L285.5,770.8 L285.8,771.8 L286.0,772.7 L286.3,773.7 L286.5,774.7 L286.8,775.6 L287.0,776.6 L287.3,777.6 L287.5,778.5 L287.8,779.5 L288.0,780.5 L288.2,781.4 L288.5,782.4 L288.7,783.4 L289.0,784.3 L289.2,785.3 L289.5,786.3 L289.7,787.3 L289.9,788.2 L290.2,789.2 L290.4,790.2 L290.6,791.1 L290.9,792.1 L291.1,793.1 L291.3,794.1 L291.5,795.0 L291.8,796.0 L292.0,797.0 L292.2,798.0 L292.4,798.9 L292.6,799.9 L292.8,800.9 L293.1,801.9 L293.3,802.9 L293.5,803.8 L293.7,804.8 L293.9,805.8 L294.1,806.8 L294.2,807.8 L294.4,808.7 L294.6,809.7 L294.8,810.7 L295.0,811.7 L295.2,812.7 L295.4,813.6 L295.6,814.6 L295.8,815.6 L296.0,816.6 L296.1,817.6 L296.3,818.6 L296.5,819.5 L296.7,820.5 L296.9,821.5 L297.1,822.5 L297.2,823.5 L297.4,824.5 L297.5,825.5 L297.6,826.4 L297.8,827.4 L297.9,828.4 L298.0,829.4 L298.1,830.4 L298.3,831.4 L298.5,832.4 L298.7,833.4 L298.9,834.3 L299.2,835.3 L299.5,836.2 L299.9,837.1 L300.4,838.0 L300.9,838.8 L301.5,839.7 L302.1,840.4 L302.8,841.2 L303.5,841.9 L304.2,842.6 L304.9,843.2 L305.7,843.9 L306.5,844.5 L307.2,845.1 L308.0,845.8 L308.8,846.4 L309.6,847.0 L310.4,847.6 L311.2,848.2 L312.0,848.8 L312.8,849.4 L313.6,850.0 L314.4,850.5 L315.3,851.1 L316.2,851.5 L317.0,852.0 L318.0,852.4 L318.9,852.7 L319.8,853.0 L320.8,853.2 L321.8,853.3 L322.7,853.3 L323.7,853.2 L324.5,852.9 L325.4,852.5 L326.2,851.9 L326.9,851.2 L327.5,850.5 L328.1,849.7 L328.6,848.9 L329.2,848.0 L329.6,847.1 L330.1,846.3 L330.6,845.4 L331.0,844.5 L331.5,843.6 L331.9,842.7 L332.3,841.7 L332.7,840.8 L333.0,839.9 L333.4,839.0 L333.7,838.0 L334.1,837.1 L334.4,836.1 L334.7,835.2 L335.0,834.2 L335.3,833.3 L335.6,832.3 L335.9,831.4 L336.2,830.4 L336.5,829.5 L336.8,828.5 L337.1,827.5 L337.3,826.6 L337.6,825.6 L337.9,824.7 L338.2,823.7 L338.4,822.7 L338.7,821.8 L338.9,820.8 L339.2,819.8 L339.5,818.9 L339.7,817.9 L340.0,816.9 L340.2,816.0 L340.5,815.0 L340.7,814.0 L341.0,813.1 L341.2,812.1 L341.5,811.1 L341.7,810.2 L342.0,809.2 L342.2,808.2 L342.4,807.2 L342.7,806.3 L342.9,805.3 L343.1,804.3 L343.3,803.3 L343.5,802.4 L343.7,801.4 L344.0,800.4 L344.2,799.4 L344.4,798.5 L344.6,797.5 L344.8,796.5 L345.0,795.5 L345.2,794.5 L345.4,793.6 L345.6,792.6 L345.8,791.6 L346.0,790.6 L346.2,789.6 L346.4,788.7 L346.6,787.7 L346.8,786.7 L347.0,785.7 L347.2,784.7 L347.3,783.8 L347.5,782.8 L347.7,781.8 L347.9,780.8 L348.1,779.8 L348.3,778.8 L348.5,777.9 L348.7,776.9 L348.9,775.9 L349.1,774.9 L349.3,773.9 L349.5,773.0 L349.7,772.0 L349.9,771.0 L350.1,770.0 L350.3,769.0 L350.5,768.1 L350.7,767.1 L350.9,766.1 L351.1,765.1 L351.3,764.1 L351.5,763.2 L351.7,762.2 L351.9,761.2 L352.1,760.2 L352.2,759.2 L352.4,758.3 L352.6,757.3 L352.8,756.3 L353.0,755.3 L353.2,754.3 L353.4,753.3 L353.6,752.4 L353.8,751.4 L354.0,750.4 L354.2,749.4 L354.3,748.4 L354.5,747.5 L354.7,746.5 L354.9,745.5 L355.1,744.5 L355.3,743.5 L355.5,742.5 L355.6,741.6 L355.8,740.6 L356.0,739.6 L356.2,738.6 L356.4,737.6 L356.6,736.6 L356.7,735.7 L356.9,734.7 L357.1,733.7 L357.3,732.7 L357.5,731.7 L357.6,730.7 L357.8,729.8 L358.0,728.8 L358.2,727.8 L358.3,726.8 L358.5,725.8 L358.7,724.8 L358.9,723.9 L359.0,722.9 L359.2,721.9 L359.4,720.9 L359.5,719.9 L359.7,718.9 L359.9,717.9 L360.0,717.0 L360.2,716.0 L360.4,715.0 L360.5,714.0 L360.7,713.0 L360.9,712.0 L361.0,711.0 L361.2,710.0 L361.3,709.1 L361.5,708.1 L361.6,707.1 L361.8,706.1 L361.9,705.1 L362.1,704.1 L362.2,703.1 L362.4,702.1 L362.5,701.1 L362.7,700.2 L362.8,699.2 L363.0,698.2 L363.1,697.2 L363.3,696.2 L363.4,695.2 L363.6,694.2 L363.7,693.2 L363.8,692.2 L364.0,691.3 L364.1,690.3 L364.3,689.3 L364.4,688.3 L364.6,687.3 L364.7,686.3 L364.8,685.3 L365.0,684.3 L365.1,683.3 L365.3,682.3 L365.4,681.4 L365.5,680.4 L365.7,679.4 L365.8,678.4 L366.0,677.4 L366.1,676.4 L366.2,675.4 L366.4,674.4 L366.5,673.4 L366.6,672.4 L366.7,671.4 L366.9,670.5 L367.0,669.5 L367.1,668.5 L367.2,667.5 L367.4,666.5 L367.5,665.5 L367.6,664.5 L367.7,663.5 L367.9,662.5 L368.0,661.5 L368.1,660.5 L368.3,659.5 L368.4,658.5 L368.5,657.6 L368.7,656.6 L368.8,655.6 L369.0,654.6 L369.1,653.6 L369.3,652.6 L369.5,651.6 L369.6,650.6 L369.8,649.7 L370.0,648.7 L370.2,647.7 L370.4,646.7 L370.6,645.7 L370.8,644.8 L371.0,643.8 L371.2,642.8 L371.5,641.8 L371.8,640.9 L372.1,639.9 L372.4,639.0 L372.7,638.1 L373.1,637.2 L373.6,636.5 L374.1,636.0 L374.7,635.8 L375.3,635.9 L375.8,636.4 L376.4,637.0 L376.8,637.8 L377.3,638.7 L377.7,639.6 L378.1,640.5 L378.5,641.4 L378.8,642.4 L379.1,643.3 L379.5,644.3 L379.7,645.2 L380.0,646.2 L380.3,647.1 L380.6,648.1 L380.8,649.1 L381.0,650.1 L381.3,651.0 L381.5,652.0 L381.7,653.0 L381.9,654.0 L382.1,654.9 L382.3,655.9 L382.5,656.9 L382.7,657.9 L382.8,658.9 L383.0,659.9 L383.1,660.8 L383.3,661.8 L383.4,662.8 L383.6,663.8 L383.7,664.8 L383.9,665.8 L384.0,666.8 L384.1,667.8 L384.3,668.8 L384.4,669.8 L384.5,670.7 L384.7,671.7 L384.8,672.7 L384.9,673.7 L385.1,674.7 L385.2,675.7 L385.3,676.7 L385.5,677.7 L385.6,678.7 L385.7,679.7 L385.9,680.7 L386.0,681.6 L386.1,682.6 L386.3,683.6 L386.4,684.6 L386.6,685.6 L386.7,686.6 L386.9,687.6 L387.0,688.6 L387.2,689.6 L387.3,690.6 L387.5,691.5 L387.6,692.5 L387.8,693.5 L387.9,694.5 L388.1,695.5 L388.2,696.5 L388.4,697.5 L388.5,698.5 L388.7,699.5 L388.8,700.4 L389.0,701.4 L389.1,702.4 L389.2,703.4 L389.4,704.4 L389.5,705.4 L389.7,706.4 L389.8,707.4 L390.0,708.4 L390.1,709.3 L390.3,710.3 L390.4,711.3 L390.6,712.3 L390.7,713.3 L390.9,714.3 L391.0,715.3 L391.2,716.3 L391.3,717.3 L391.5,718.2 L391.6,719.2 L391.8,720.2 L391.9,721.2 L392.1,722.2 L392.2,723.2 L392.4,724.2 L392.5,725.2 L392.7,726.2 L392.8,727.1 L392.9,728.1 L393.1,729.1 L393.2,730.1 L393.4,731.1 L393.5,732.1 L393.6,733.1 L393.8,734.1 L393.9,735.1 L394.1,736.1 L394.2,737.0 L394.4,738.0 L394.5,739.0 L394.6,740.0 L394.8,741.0 L394.9,742.0 L395.1,743.0 L395.2,744.0 L395.4,745.0 L395.5,745.9 L395.7,746.9 L395.8,747.9 L396.0,748.9 L396.1,749.9 L396.3,750.9 L396.4,751.9 L396.6,752.9 L396.8,753.8 L397.0,754.8 L397.2,755.8 L397.4,756.8 L397.6,757.8 L397.8,758.7 L398.0,759.7 L398.2,760.7 L398.5,761.7 L398.7,762.6 L399.0,763.6 L399.2,764.6 L399.5,765.5 L399.7,766.5 L399.9,767.5 L400.2,768.4 L400.4,769.4 L400.7,770.4 L400.9,771.4 L401.2,772.3 L401.4,773.3 L401.7,774.3 L401.9,775.2 L402.2,776.2 L402.4,777.2 L402.7,778.1 L402.9,779.1 L403.2,780.1 L403.5,781.0 L403.7,782.0 L404.0,783.0 L404.2,783.9 L404.5,784.9 L404.8,785.9 L405.1,786.8 L405.3,787.8 L405.6,788.7 L405.9,789.7 L406.2,790.6 L406.5,791.6 L406.8,792.6 L407.1,793.5 L407.4,794.5 L407.7,795.4 L408.0,796.4 L408.4,797.3 L408.7,798.3 L409.0,799.2 L409.3,800.1 L409.6,801.1 L410.0,802.0 L410.3,803.0 L410.6,803.9 L410.9,804.9 L411.3,805.8 L411.6,806.8 L411.9,807.7 L412.2,808.7 L412.5,809.6 L412.9,810.6 L413.2,811.5 L413.5,812.5 L413.8,813.4 L414.1,814.4 L414.4,815.3 L414.7,816.3 L415.0,817.2 L415.3,818.2 L415.6,819.1 L415.9,820.1 L416.2,821.0 L416.5,822.0 L416.8,823.0 L417.1,823.9 L417.4,824.9 L417.7,825.8 L418.0,826.8 L418.3,827.7 L418.5,828.7 L418.8,829.6 L419.1,830.6 L419.4,831.6 L419.7,832.5 L420.0,833.5 L420.3,834.4 L420.7,835.4 L421.0,836.3 L421.3,837.3 L421.6,838.2 L421.9,839.2 L422.2,840.1 L422.5,841.1 L422.8,842.0 L423.1,843.0 L423.5,843.9 L423.8,844.9 L424.1,845.8 L424.4,846.8 L424.7,847.7 L425.0,848.7 L425.4,849.6 L425.7,850.6 L426.0,851.5 L426.3,852.5 L426.6,853.4 L426.9,854.4 L427.3,855.3 L427.6,856.2 L427.9,857.2 L428.2,858.1 L428.5,859.1 L428.9,860.0 L429.2,861.0 L429.5,861.9 L429.8,862.9 L430.2,863.8 L430.5,864.8 L430.9,865.7 L431.2,866.6 L431.6,867.5 L432.0,868.5 L432.4,869.3 L433.0,870.1 L433.6,870.7 L434.3,871.1 L435.1,871.2 L436.0,871.2 L436.8,870.9 L437.6,870.4 L438.3,869.8 L439.0,869.1 L439.6,868.3 L440.1,867.4 L440.6,866.6 L441.0,865.7 L441.3,864.7 L441.7,863.8 L442.0,862.9 L442.2,861.9 L442.5,860.9 L442.8,860.0 L443.0,859.0 L443.2,858.0 L443.4,857.0 L443.6,856.1 L443.8,855.1 L444.0,854.1 L444.2,853.1 L444.4,852.1 L444.6,851.1 L444.7,850.2 L444.9,849.2 L445.1,848.2 L445.3,847.2 L445.4,846.2 L445.6,845.2 L445.8,844.3 L445.9,843.3 L446.1,842.3 L446.3,841.3 L446.4,840.3 L446.6,839.3 L446.8,838.3 L446.9,837.3 L447.1,836.4 L447.2,835.4 L447.4,834.4 L447.5,833.4 L447.7,832.4 L447.8,831.4 L448.0,830.4 L448.1,829.4 L448.2,828.4 L448.4,827.4 L448.5,826.5 L448.6,825.5 L448.7,824.5 L448.9,823.5 L449.0,822.5 L449.1,821.5 L449.2,820.5 L449.3,819.5 L449.5,818.5 L449.6,817.5 L449.7,816.5 L449.8,815.5 L449.9,814.5 L450.0,813.5 L450.1,812.6 L450.2,811.6 L450.3,810.6 L450.4,809.6 L450.6,808.6 L450.7,807.6 L450.8,806.6 L450.9,805.6 L451.0,804.6 L451.1,803.6 L451.2,802.6 L451.3,801.6 L451.4,800.6 L451.5,799.6 L451.6,798.6 L451.7,797.6 L451.8,796.6 L451.9,795.6 L452.0,794.7 L452.1,793.7 L452.2,792.7 L452.3,791.7 L452.4,790.7 L452.5,789.7 L452.6,788.7 L452.7,787.7 L452.8,786.7 L452.9,785.7 L453.0,784.7 L453.1,783.7 L453.2,782.7 L453.3,781.7 L453.4,780.7 L453.5,779.7 L453.6,778.7 L453.6,777.7 L453.7,776.7 L453.8,775.7 L453.9,774.7 L454.0,773.7 L454.1,772.8 L454.2,771.8 L454.3,770.8 L454.3,769.8 L454.4,768.8 L454.5,767.8 L454.6,766.8 L454.7,765.8 L454.8,764.8 L454.8,763.8 L454.9,762.8 L455.0,761.8 L455.1,760.8 L455.2,759.8 L455.2,758.8 L455.3,757.8 L455.4,756.8 L455.5,755.8 L455.6,754.8 L455.6,753.8 L455.7,752.8 L455.8,751.8 L455.9,750.8 L456.0,749.8 L456.0,748.8 L456.1,747.8 L456.2,746.8 L456.3,745.8 L456.4,744.8 L456.4,743.8 L456.5,742.9 L456.6,741.9 L456.7,740.9 L456.8,739.9 L456.8,738.9 L456.9,737.9 L457.0,736.9 L457.1,735.9 L457.2,734.9 L457.2,733.9 L457.3,732.9 L457.4,731.9 L457.5,730.9 L457.6,729.9 L457.6,728.9 L457.7,727.9 L457.8,726.9 L457.9,725.9 L458.0,724.9 L458.1,723.9 L458.2,722.9 L458.2,721.9 L458.3,720.9 L458.4,719.9 L458.5,718.9 L458.6,717.9 L458.7,716.9 L458.8,715.9 L458.9,715.0 L459.0,714.0 L459.1,713.0 L459.1,712.0 L459.2,711.0 L459.3,710.0 L459.4,709.0 L459.5,708.0 L459.6,707.0 L459.7,706.0 L459.8,705.0 L459.9,704.0 L460.0,703.0 L460.0,702.0 L460.1,701.0 L460.2,700.0 L460.3,699.0 L460.4,698.0 L460.5,697.0 L460.6,696.0 L460.7,695.0 L460.8,694.0 L460.9,693.0 L461.0,692.0 L461.1,691.1 L461.2,690.1 L461.3,689.1 L461.4,688.1 L461.5,687.1 L461.6,686.1 L461.7,685.1 L461.8,684.1 L461.9,683.1 L462.0,682.1 L462.1,681.1 L462.2,680.1 L462.4,679.1 L462.5,678.1 L462.6,677.1 L462.7,676.1 L462.8,675.1 L462.9,674.1 L463.0,673.2 L463.1,672.2 L463.2,671.2 L463.3,670.2 L463.4,669.2 L463.6,668.2 L463.7,667.2 L463.8,666.2 L463.9,665.2 L464.0,664.2 L464.1,663.2 L464.2,662.2 L464.4,661.2 L464.5,660.2 L464.6,659.2 L464.7,658.3 L464.9,657.3 L465.0,656.3 L465.1,655.3 L465.3,654.3 L465.4,653.3 L465.6,652.3 L465.7,651.3 L465.9,650.3 L466.1,649.4 L466.2,648.4 L466.4,647.4 L466.6,646.4 L466.8,645.4 L467.0,644.4 L467.2,643.5 L467.4,642.5 L467.6,641.5 L467.8,640.5 L468.1,639.6 L468.3,638.6 L468.6,637.6 L468.9,636.7 L469.2,635.7 L469.5,634.8 L469.9,633.9 L470.3,633.0 L470.7,632.1 L471.2,631.3 L471.8,630.7 L472.4,630.3 L473.1,630.1 L473.7,630.3 L474.4,630.8 L475.0,631.5 L475.5,632.3 L476.0,633.1 L476.4,634.0 L476.9,634.9 L477.2,635.8 L477.6,636.8 L477.9,637.7 L478.2,638.7 L478.4,639.6 L478.7,640.6 L478.9,641.6 L479.1,642.6 L479.3,643.5 L479.6,644.5 L479.8,645.5 L480.0,646.5 L480.2,647.5 L480.4,648.4 L480.6,649.4 L480.8,650.4 L481.0,651.4 L481.3,652.3 L481.5,653.3 L481.8,654.3 L482.1,655.2 L482.3,656.2 L482.6,657.1 L482.9,658.1 L483.2,659.0 L483.5,660.0 L483.9,660.9 L484.2,661.9 L484.5,662.8 L484.8,663.8 L485.1,664.7 L485.4,665.7 L485.8,666.6 L486.1,667.6 L486.4,668.5 L486.7,669.5 L487.1,670.4 L487.4,671.4 L487.7,672.3 L488.0,673.2 L488.4,674.2 L488.7,675.1 L489.0,676.1 L489.4,677.0 L489.7,678.0 L490.0,678.9 L490.4,679.8 L490.7,680.8 L491.1,681.7 L491.4,682.7 L491.8,683.6 L492.1,684.5 L492.4,685.5 L492.8,686.4 L493.1,687.4 L493.4,688.3 L493.7,689.3 L494.0,690.2 L494.3,691.2 L494.5,692.2 L494.8,693.1 L495.1,694.1 L495.3,695.1 L495.5,696.0 L495.8,697.0 L496.0,698.0 L496.2,699.0 L496.4,699.9 L496.6,700.9 L496.8,701.9 L497.0,702.9 L497.2,703.9 L497.4,704.8 L497.5,705.8 L497.7,706.8 L497.9,707.8 L498.0,708.8 L498.2,709.8 L498.4,710.8 L498.5,711.7 L498.7,712.7 L498.8,713.7 L499.0,714.7 L499.1,715.7 L499.2,716.7 L499.4,717.7 L499.5,718.7 L499.6,719.7 L499.7,720.7 L499.9,721.7 L500.0,722.6 L500.1,723.6 L500.2,724.6 L500.3,725.6 L500.4,726.6 L500.5,727.6 L500.6,728.6 L500.7,729.6 L500.8,730.6 L500.9,731.6 L501.0,732.6 L501.1,733.6 L501.2,734.6 L501.3,735.6 L501.4,736.6 L501.5,737.6 L501.5,738.6 L501.6,739.6 L501.7,740.6 L501.8,741.6 L501.9,742.6 L502.0,743.5 L502.1,744.5 L502.2,745.5 L502.3,746.5 L502.4,747.5 L502.5,748.5 L502.6,749.5 L502.7,750.5 L502.8,751.5 L502.9,752.5 L503.0,753.5 L503.1,754.5 L503.2,755.5 L503.3,756.5 L503.4,757.5 L503.5,758.5 L503.6,759.5 L503.7,760.5 L503.8,761.5 L504.0,762.4 L504.1,763.4 L504.2,764.4 L504.3,765.4 L504.4,766.4 L504.5,767.4 L504.6,768.4 L504.8,769.4 L504.9,770.4 L505.0,771.4 L505.1,772.4 L505.2,773.4 L505.3,774.4 L505.5,775.4 L505.6,776.4 L505.7,777.3 L505.8,778.3 L505.9,779.3 L506.0,780.3 L506.2,781.3 L506.3,782.3 L506.4,783.3 L506.5,784.3 L506.6,785.3 L506.8,786.3 L506.9,787.3 L507.0,788.3 L507.1,789.3 L507.2,790.3 L507.4,791.2 L507.5,792.2 L507.6,793.2 L507.7,794.2 L507.8,795.2 L508.0,796.2 L508.1,797.2 L508.2,798.2 L508.3,799.2 L508.4,800.2 L508.6,801.2 L508.7,802.2 L508.8,803.2 L508.9,804.2 L509.0,805.1 L509.1,806.1 L509.3,807.1 L509.4,808.1 L509.5,809.1 L509.6,810.1 L509.7,811.1 L509.8,812.1 L509.9,813.1 L510.1,814.1 L510.2,815.1 L510.3,816.1 L510.4,817.1 L510.5,818.1 L510.6,819.1 L510.7,820.0 L510.9,821.0 L511.0,822.0 L511.1,823.0 L511.2,824.0 L511.3,825.0 L511.5,826.0 L511.6,827.0 L511.7,828.0 L511.8,829.0 L512.0,830.0 L512.1,831.0 L512.2,832.0 L512.3,832.9 L512.5,833.9 L512.6,834.9 L512.8,835.9 L512.9,836.9 L513.0,837.9 L513.2,838.9 L513.3,839.9 L513.5,840.9 L513.6,841.9 L513.8,842.8 L514.0,843.8 L514.1,844.8 L514.3,845.8 L514.5,846.8 L514.6,847.8 L514.8,848.8 L515.0,849.7 L515.1,850.7 L515.3,851.7 L515.5,852.7 L515.6,853.7 L515.8,854.7 L516.0,855.7 L516.2,856.6 L516.4,857.6 L516.5,858.6 L516.7,859.6 L516.9,860.6 L517.1,861.6 L517.3,862.5 L517.5,863.5 L517.7,864.5 L517.9,865.5 L518.1,866.5 L518.3,867.4 L518.5,868.4 L518.7,869.4 L519.0,870.4 L519.2,871.3 L519.4,872.3 L519.7,873.3 L519.9,874.2 L520.2,875.2 L520.4,876.2 L520.7,877.1 L520.9,878.1 L521.2,879.1 L521.5,880.0 L521.7,881.0 L522.0,882.0 L522.2,882.9 L522.5,883.9 L522.8,884.9 L523.1,885.8 L523.4,886.8 L523.7,887.7 L524.0,888.7 L524.4,889.6 L524.7,890.5 L525.1,891.4 L525.6,892.3 L526.0,893.2 L526.5,894.1 L527.1,894.9 L527.6,895.7 L528.2,896.5 L528.9,897.3 L529.6,898.0 L530.3,898.6 L531.1,899.2 L532.0,899.7 L532.9,900.2 L533.8,900.6 L534.7,900.8 L535.7,900.8 L536.6,900.8 L537.6,900.8 L538.6,900.8 L539.6,900.8 L540.6,900.8 L541.6,900.8 L542.6,900.8 L543.6,900.8 L544.6,900.8 L545.6,900.8 L546.6,900.8 L547.6,900.8 L548.6,900.8 L549.6,900.8 L550.6,900.8 L551.6,900.8 L552.6,900.8 L553.6,900.8 L554.6,900.8 L555.6,900.8 L556.6,900.8 L557.6,900.8 L558.6,900.8 L559.6,900.8 L560.6,900.8 L561.6,900.8 L562.6,900.8 L563.6,900.8 L564.6,900.8 L565.6,900.8 L566.6,900.8 L567.6,900.8 L568.5,900.8 L569.5,900.8 L570.5,900.8 L571.5,900.8 L572.4,900.8 L573.1,900.8 L573.7,900.8" fill="none" stroke="#c02832" stroke-width="3.0" stroke-linejoin="round" stroke-linecap="round"/>
<path d="M123.8,900.8 L124.4,900.8 L125.2,900.8 L126.1,900.8 L127.0,900.8 L128.0,900.8 L129.0,900.8 L130.0,900.8 L131.0,900.8 L132.0,900.8 L133.0,900.8 L134.0,900.8 L135.0,900.8 L136.0,900.8 L137.0,900.8 L138.0,900.8 L139.0,900.8 L140.0,900.8 L141.0,900.8 L142.0,900.8 L143.0,900.8 L144.0,900.8 L145.0,900.8 L146.0,900.8 L147.0,900.8 L148.0,900.8 L149.0,900.8 L150.0,900.8 L151.0,900.8 L152.0,900.8 L153.0,900.8 L154.0,900.8 L155.0,900.8 L156.0,900.8 L157.0,900.8 L158.0,900.8 L159.0,900.8 L160.0,900.8 L161.0,900.8 L162.0,900.8 L163.0,900.8 L164.0,900.8 L165.0,900.8 L166.0,900.8 L167.0,900.8 L168.0,900.8 L169.0,900.8 L170.0,900.8 L171.0,900.8 L172.0,900.8 L173.0,900.8 L174.0,900.8 L175.0,900.8 L176.0,900.8 L177.0,900.8 L178.0,900.8 L179.0,900.8 L180.0,900.8 L181.0,900.8 L182.0,900.8 L183.0,900.8 L184.0,900.8 L185.0,900.8 L186.0,900.8 L187.0,900.8 L188.0,900.8 L189.0,900.8 L190.0,900.8 L191.0,900.8 L192.0,900.8 L193.0,900.8 L194.0,900.8 L195.0,900.8 L196.0,900.8 L197.0,900.8 L198.0,900.8 L199.0,900.8 L200.0,900.8 L201.0,900.8 L202.0,900.8 L203.0,900.8 L204.0,900.8 L205.0,900.8 L206.0,900.8 L207.0,900.8 L208.0,900.8 L209.0,900.8 L210.0,900.8 L211.0,900.8 L212.0,900.7 L213.0,900.7 L214.0,900.6 L215.0,900.4 L216.0,900.3 L216.9,900.1 L217.9,899.8 L218.9,899.6 L219.8,899.4 L220.8,899.1 L221.8,898.8 L222.7,898.5 L223.7,898.2 L224.6,897.8 L225.5,897.4 L226.4,897.0 L227.3,896.5 L228.2,896.0 L229.0,895.5 L229.8,894.9 L230.5,894.2 L231.2,893.5 L231.9,892.8 L232.5,892.0 L233.1,891.2 L233.6,890.4 L234.2,889.5 L234.7,888.7 L235.1,887.8 L235.6,886.9 L236.1,886.0 L236.5,885.1 L236.9,884.2 L237.4,883.3 L237.8,882.4 L238.3,881.5 L238.7,880.7 L239.2,879.8 L239.7,878.9 L240.1,878.0 L240.6,877.1 L241.1,876.3 L241.6,875.4 L242.1,874.5 L242.6,873.6 L243.0,872.7 L243.5,871.9 L244.0,871.0 L244.4,870.1 L244.9,869.2 L245.4,868.3 L245.9,867.5 L246.3,866.6 L246.8,865.7 L247.3,864.8 L247.8,863.9 L248.3,863.1 L248.7,862.2 L249.2,861.3 L249.7,860.5 L250.2,859.6 L250.7,858.7 L251.2,857.8 L251.7,857.0 L252.1,856.1 L252.6,855.2 L253.1,854.3 L253.6,853.4 L254.1,852.6 L254.6,851.7 L255.1,850.9 L255.7,850.1 L256.3,849.3 L257.0,848.6 L257.7,847.9 L258.5,847.3 L259.3,846.7 L260.2,846.2 L261.0,845.8 L261.9,845.4 L262.8,845.0 L263.7,844.5 L264.6,844.1 L265.5,843.6 L266.4,843.1 L267.2,842.6 L268.1,842.1 L268.9,841.5 L269.8,841.0 L270.6,840.4 L271.4,839.8 L272.2,839.2 L273.0,838.6 L273.7,837.9 L274.4,837.3 L275.1,836.5 L275.8,835.8 L276.4,835.0 L277.0,834.2 L277.6,833.4 L278.1,832.6 L278.6,831.7 L279.1,830.8 L279.5,829.9 L279.9,829.0 L280.3,828.1 L280.7,827.2 L281.1,826.2 L281.4,825.3 L281.8,824.4 L282.1,823.4 L282.4,822.5 L282.7,821.5 L283.1,820.6 L283.4,819.6 L283.7,818.7 L284.0,817.7 L284.3,816.8 L284.6,815.8 L284.9,814.9 L285.2,813.9 L285.6,813.0 L285.9,812.0 L286.2,811.1 L286.5,810.1 L286.9,809.2 L287.2,808.3 L287.5,807.3 L287.9,806.4 L288.2,805.4 L288.6,804.5 L288.9,803.6 L289.2,802.6 L289.6,801.7 L289.9,800.7 L290.3,799.8 L290.6,798.9 L291.0,797.9 L291.3,797.0 L291.7,796.0 L292.0,795.1 L292.3,794.2 L292.7,793.2 L293.0,792.3 L293.4,791.4 L293.7,790.4 L294.1,789.5 L294.5,788.6 L294.8,787.6 L295.2,786.7 L295.5,785.8 L295.9,784.8 L296.3,783.9 L296.7,783.0 L297.0,782.0 L297.4,781.1 L297.8,780.2 L298.2,779.3 L298.5,778.3 L298.9,777.4 L299.3,776.5 L299.8,775.6 L300.2,774.7 L300.7,773.9 L301.3,773.0 L301.9,772.3 L302.6,771.6 L303.3,770.9 L304.1,770.4 L304.9,770.1 L305.8,770.0 L306.6,770.1 L307.4,770.4 L308.2,770.9 L308.9,771.6 L309.6,772.3 L310.2,773.1 L310.7,773.9 L311.2,774.8 L311.7,775.7 L312.1,776.6 L312.5,777.5 L312.9,778.4 L313.2,779.3 L313.6,780.3 L313.9,781.2 L314.3,782.1 L314.6,783.1 L314.9,784.0 L315.2,785.0 L315.4,786.0 L315.7,786.9 L316.0,787.9 L316.3,788.8 L316.5,789.8 L316.8,790.8 L317.1,791.7 L317.3,792.7 L317.6,793.7 L317.8,794.6 L318.1,795.6 L318.3,796.6 L318.6,797.6 L318.8,798.5 L319.0,799.5 L319.3,800.5 L319.5,801.4 L319.8,802.4 L320.0,803.4 L320.3,804.3 L320.5,805.3 L320.7,806.3 L321.0,807.3 L321.2,808.2 L321.5,809.2 L321.7,810.2 L321.9,811.1 L322.1,812.1 L322.4,813.1 L322.6,814.1 L322.8,815.0 L323.0,816.0 L323.2,817.0 L323.4,818.0 L323.6,819.0 L323.8,819.9 L324.0,820.9 L324.2,821.9 L324.4,822.9 L324.6,823.9 L324.8,824.8 L325.0,825.8 L325.2,826.8 L325.4,827.8 L325.6,828.8 L325.8,829.7 L326.0,830.7 L326.2,831.7 L326.4,832.7 L326.6,833.7 L326.8,834.6 L327.1,835.6 L327.3,836.6 L327.5,837.6 L327.8,838.5 L328.0,839.5 L328.3,840.5 L328.6,841.4 L328.9,842.4 L329.2,843.3 L329.5,844.3 L329.8,845.2 L330.1,846.2 L330.5,847.1 L330.8,848.0 L331.2,849.0 L331.5,849.9 L331.9,850.8 L332.3,851.7 L332.8,852.6 L333.3,853.4 L333.8,854.1 L334.5,854.6 L335.1,854.8 L335.8,854.7 L336.4,854.3 L337.0,853.6 L337.5,852.9 L338.0,852.0 L338.5,851.1 L338.9,850.2 L339.3,849.3 L339.6,848.4 L340.0,847.4 L340.3,846.5 L340.6,845.5 L340.9,844.6 L341.2,843.6 L341.4,842.6 L341.6,841.7 L341.9,840.7 L342.1,839.7 L342.3,838.7 L342.5,837.8 L342.7,836.8 L342.9,835.8 L343.0,834.8 L343.2,833.8 L343.4,832.8 L343.5,831.8 L343.7,830.9 L343.8,829.9 L344.0,828.9 L344.1,827.9 L344.2,826.9 L344.4,825.9 L344.5,824.9 L344.6,823.9 L344.7,822.9 L344.9,821.9 L345.0,820.9 L345.1,820.0 L345.2,819.0 L345.4,818.0 L345.5,817.0 L345.6,816.0 L345.7,815.0 L345.8,814.0 L345.9,813.0 L346.0,812.0 L346.2,811.0 L346.3,810.0 L346.4,809.0 L346.5,808.0 L346.6,807.0 L346.7,806.0 L346.8,805.0 L346.9,804.1 L347.0,803.1 L347.1,802.1 L347.2,801.1 L347.3,800.1 L347.4,799.1 L347.5,798.1 L347.6,797.1 L347.8,796.1 L347.9,795.1 L348.0,794.1 L348.1,793.1 L348.2,792.1 L348.3,791.1 L348.4,790.1 L348.5,789.1 L348.6,788.1 L348.7,787.1 L348.8,786.2 L348.9,785.2 L349.0,784.2 L349.1,783.2 L349.2,782.2 L349.3,781.2 L349.5,780.2 L349.6,779.2 L349.7,778.2 L349.8,777.2 L349.9,776.2 L350.0,775.2 L350.1,774.2 L350.2,773.2 L350.3,772.2 L350.4,771.2 L350.5,770.2 L350.6,769.3 L350.7,768.3 L350.8,767.3 L350.9,766.3 L351.0,765.3 L351.1,764.3 L351.2,763.3 L351.3,762.3 L351.5,761.3 L351.6,760.3 L351.7,759.3 L351.8,758.3 L351.9,757.3 L352.0,756.3 L352.1,755.3 L352.3,754.3 L352.4,753.3 L352.5,752.4 L352.6,751.4 L352.8,750.4 L352.9,749.4 L353.0,748.4 L353.2,747.4 L353.3,746.4 L353.4,745.4 L353.6,744.4 L353.7,743.4 L353.8,742.4 L354.0,741.5 L354.1,740.5 L354.3,739.5 L354.4,738.5 L354.5,737.5 L354.7,736.5 L354.8,735.5 L354.9,734.5 L355.1,733.5 L355.2,732.5 L355.3,731.6 L355.5,730.6 L355.6,729.6 L355.7,728.6 L355.9,727.6 L356.0,726.6 L356.1,725.6 L356.3,724.6 L356.4,723.6 L356.5,722.6 L356.7,721.6 L356.8,720.6 L356.9,719.7 L357.0,718.7 L357.2,717.7 L357.3,716.7 L357.4,715.7 L357.6,714.7 L357.7,713.7 L357.8,712.7 L357.9,711.7 L358.1,710.7 L358.2,709.7 L358.3,708.7 L358.5,707.8 L358.6,706.8 L358.7,705.8 L358.9,704.8 L359.0,703.8 L359.1,702.8 L359.3,701.8 L359.4,700.8 L359.5,699.8 L359.7,698.8 L359.8,697.8 L359.9,696.9 L360.1,695.9 L360.2,694.9 L360.3,693.9 L360.5,692.9 L360.6,691.9 L360.7,690.9 L360.9,689.9 L361.0,688.9 L361.1,687.9 L361.3,686.9 L361.4,686.0 L361.5,685.0 L361.7,684.0 L361.8,683.0 L361.9,682.0 L362.1,681.0 L362.2,680.0 L362.3,679.0 L362.5,678.0 L362.6,677.0 L362.7,676.0 L362.9,675.0 L363.0,674.1 L363.1,673.1 L363.3,672.1 L363.4,671.1 L363.5,670.1 L363.6,669.1 L363.8,668.1 L363.9,667.1 L364.0,666.1 L364.2,665.1 L364.3,664.1 L364.4,663.1 L364.6,662.2 L364.7,661.2 L364.8,660.2 L364.9,659.2 L365.1,658.2 L365.2,657.2 L365.3,656.2 L365.5,655.2 L365.6,654.2 L365.7,653.2 L365.9,652.2 L366.0,651.3 L366.1,650.3 L366.2,649.3 L366.4,648.3 L366.5,647.3 L366.6,646.3 L366.7,645.3 L366.9,644.3 L367.0,643.3 L367.1,642.3 L367.3,641.3 L367.4,640.3 L367.5,639.3 L367.6,638.4 L367.8,637.4 L367.9,636.4 L368.0,635.4 L368.2,634.4 L368.3,633.4 L368.4,632.4 L368.6,631.4 L368.7,630.4 L368.9,629.4 L369.0,628.5 L369.2,627.5 L369.3,626.5 L369.5,625.5 L369.6,624.5 L369.8,623.5 L370.0,622.5 L370.1,621.5 L370.3,620.6 L370.5,619.6 L370.7,618.6 L370.9,617.6 L371.1,616.6 L371.3,615.7 L371.5,614.7 L371.8,613.7 L372.1,612.8 L372.5,611.9 L372.8,611.0 L373.3,610.1 L373.7,609.5 L374.3,609.1 L374.9,609.0 L375.5,609.2 L376.0,609.7 L376.6,610.4 L377.0,611.3 L377.5,612.1 L377.9,613.1 L378.2,614.0 L378.6,614.9 L378.9,615.9 L379.2,616.8 L379.5,617.8 L379.7,618.8 L380.0,619.7 L380.2,620.7 L380.5,621.7 L380.7,622.6 L380.9,623.6 L381.2,624.6 L381.4,625.5 L381.6,626.5 L381.9,627.5 L382.1,628.5 L382.3,629.4 L382.5,630.4 L382.8,631.4 L383.0,632.4 L383.2,633.4 L383.4,634.3 L383.6,635.3 L383.8,636.3 L384.0,637.3 L384.2,638.3 L384.4,639.2 L384.6,640.2 L384.7,641.2 L384.9,642.2 L385.1,643.2 L385.3,644.1 L385.5,645.1 L385.7,646.1 L385.8,647.1 L386.0,648.1 L386.2,649.1 L386.4,650.0 L386.5,651.0 L386.7,652.0 L386.9,653.0 L387.1,654.0 L387.2,655.0 L387.4,656.0 L387.5,656.9 L387.7,657.9 L387.9,658.9 L388.0,659.9 L388.2,660.9 L388.3,661.9 L388.5,662.9 L388.6,663.9 L388.8,664.9 L388.9,665.8 L389.1,666.8 L389.2,667.8 L389.3,668.8 L389.5,669.8 L389.6,670.8 L389.8,671.8 L389.9,672.8 L390.1,673.8 L390.2,674.8 L390.3,675.7 L390.5,676.7 L390.6,677.7 L390.8,678.7 L390.9,679.7 L391.0,680.7 L391.2,681.7 L391.3,682.7 L391.5,683.7 L391.6,684.6 L391.8,685.6 L391.9,686.6 L392.1,687.6 L392.2,688.6 L392.4,689.6 L392.5,690.6 L392.7,691.6 L392.8,692.6 L393.0,693.6 L393.1,694.5 L393.2,695.5 L393.4,696.5 L393.5,697.5 L393.7,698.5 L393.8,699.5 L394.0,700.5 L394.1,701.5 L394.3,702.5 L394.4,703.4 L394.6,704.4 L394.7,705.4 L394.9,706.4 L395.0,707.4 L395.2,708.4 L395.3,709.4 L395.5,710.4 L395.6,711.4 L395.8,712.3 L395.9,713.3 L396.1,714.3 L396.2,715.3 L396.4,716.3 L396.5,717.3 L396.7,718.3 L396.8,719.3 L397.0,720.2 L397.1,721.2 L397.3,722.2 L397.5,723.2 L397.6,724.2 L397.8,725.2 L397.9,726.2 L398.1,727.2 L398.3,728.1 L398.4,729.1 L398.6,730.1 L398.8,731.1 L398.9,732.1 L399.1,733.1 L399.3,734.1 L399.5,735.0 L399.6,736.0 L399.8,737.0 L399.9,738.0 L400.1,739.0 L400.3,740.0 L400.4,741.0 L400.6,741.9 L400.8,742.9 L400.9,743.9 L401.1,744.9 L401.3,745.9 L401.4,746.9 L401.6,747.9 L401.8,748.9 L401.9,749.8 L402.1,750.8 L402.2,751.8 L402.4,752.8 L402.6,753.8 L402.7,754.8 L402.9,755.8 L403.1,756.7 L403.2,757.7 L403.4,758.7 L403.6,759.7 L403.7,760.7 L403.9,761.7 L404.0,762.7 L404.2,763.7 L404.4,764.6 L404.5,765.6 L404.7,766.6 L404.9,767.6 L405.0,768.6 L405.2,769.6 L405.4,770.6 L405.5,771.5 L405.7,772.5 L405.9,773.5 L406.0,774.5 L406.2,775.5 L406.3,776.5 L406.5,777.5 L406.7,778.4 L406.8,779.4 L407.0,780.4 L407.1,781.4 L407.3,782.4 L407.5,783.4 L407.6,784.4 L407.8,785.4 L408.0,786.3 L408.1,787.3 L408.3,788.3 L408.4,789.3 L408.6,790.3 L408.8,791.3 L408.9,792.3 L409.1,793.3 L409.3,794.2 L409.4,795.2 L409.6,796.2 L409.8,797.2 L409.9,798.2 L410.1,799.2 L410.3,800.2 L410.4,801.1 L410.6,802.1 L410.8,803.1 L411.0,804.1 L411.1,805.1 L411.3,806.1 L411.5,807.0 L411.7,808.0 L411.9,809.0 L412.0,810.0 L412.2,811.0 L412.4,812.0 L412.6,812.9 L412.8,813.9 L412.9,814.9 L413.1,815.9 L413.3,816.9 L413.5,817.9 L413.7,818.8 L413.9,819.8 L414.1,820.8 L414.3,821.8 L414.4,822.8 L414.6,823.8 L414.8,824.7 L415.0,825.7 L415.2,826.7 L415.4,827.7 L415.6,828.7 L415.8,829.6 L416.0,830.6 L416.2,831.6 L416.4,832.6 L416.6,833.6 L416.8,834.5 L417.0,835.5 L417.2,836.5 L417.4,837.5 L417.6,838.4 L417.8,839.4 L418.1,840.4 L418.3,841.4 L418.5,842.4 L418.7,843.3 L418.9,844.3 L419.1,845.3 L419.3,846.3 L419.6,847.2 L419.8,848.2 L420.0,849.2 L420.2,850.2 L420.5,851.1 L420.7,852.1 L420.9,853.1 L421.1,854.1 L421.4,855.0 L421.6,856.0 L421.9,857.0 L422.1,857.9 L422.3,858.9 L422.6,859.9 L422.8,860.9 L423.1,861.8 L423.3,862.8 L423.6,863.8 L423.8,864.7 L424.1,865.7 L424.3,866.7 L424.6,867.6 L424.8,868.6 L425.1,869.6 L425.3,870.5 L425.6,871.5 L425.8,872.5 L426.1,873.4 L426.3,874.4 L426.6,875.4 L426.8,876.3 L427.1,877.3 L427.3,878.3 L427.6,879.2 L427.9,880.2 L428.1,881.2 L428.4,882.1 L428.7,883.1 L429.0,884.0 L429.3,885.0 L429.6,885.9 L429.9,886.9 L430.3,887.8 L430.6,888.7 L431.1,889.6 L431.6,890.4 L432.3,891.0 L433.0,891.5 L433.8,891.8 L434.6,891.8 L435.4,891.5 L436.2,891.1 L436.9,890.5 L437.6,889.8 L438.2,889.0 L438.7,888.2 L439.3,887.3 L439.8,886.5 L440.2,885.6 L440.6,884.7 L441.0,883.8 L441.4,882.8 L441.7,881.9 L442.0,880.9 L442.3,880.0 L442.5,879.0 L442.8,878.0 L443.0,877.1 L443.2,876.1 L443.4,875.1 L443.6,874.1 L443.8,873.1 L444.0,872.2 L444.2,871.2 L444.3,870.2 L444.5,869.2 L444.7,868.2 L444.8,867.2 L445.0,866.3 L445.2,865.3 L445.3,864.3 L445.5,863.3 L445.6,862.3 L445.8,861.3 L445.9,860.3 L446.1,859.3 L446.2,858.3 L446.4,857.4 L446.5,856.4 L446.7,855.4 L446.8,854.4 L447.0,853.4 L447.1,852.4 L447.3,851.4 L447.4,850.4 L447.6,849.4 L447.7,848.5 L447.9,847.5 L448.0,846.5 L448.2,845.5 L448.3,844.5 L448.5,843.5 L448.6,842.5 L448.7,841.5 L448.9,840.5 L449.0,839.6 L449.1,838.6 L449.3,837.6 L449.4,836.6 L449.5,835.6 L449.6,834.6 L449.8,833.6 L449.9,832.6 L450.0,831.6 L450.1,830.6 L450.3,829.6 L450.4,828.6 L450.5,827.6 L450.6,826.7 L450.7,825.7 L450.8,824.7 L451.0,823.7 L451.1,822.7 L451.2,821.7 L451.3,820.7 L451.4,819.7 L451.5,818.7 L451.6,817.7 L451.7,816.7 L451.8,815.7 L451.9,814.7 L452.0,813.7 L452.1,812.7 L452.3,811.7 L452.4,810.7 L452.5,809.8 L452.6,808.8 L452.7,807.8 L452.8,806.8 L452.9,805.8 L453.0,804.8 L453.1,803.8 L453.2,802.8 L453.3,801.8 L453.4,800.8 L453.5,799.8 L453.6,798.8 L453.7,797.8 L453.8,796.8 L453.9,795.8 L454.0,794.8 L454.1,793.8 L454.2,792.8 L454.3,791.8 L454.4,790.9 L454.5,789.9 L454.6,788.9 L454.7,787.9 L454.8,786.9 L454.9,785.9 L455.0,784.9 L455.1,783.9 L455.2,782.9 L455.3,781.9 L455.4,780.9 L455.5,779.9 L455.6,778.9 L455.7,777.9 L455.8,776.9 L455.8,775.9 L455.9,774.9 L456.0,773.9 L456.1,772.9 L456.2,771.9 L456.3,770.9 L456.4,769.9 L456.5,769.0 L456.6,768.0 L456.7,767.0 L456.8,766.0 L456.9,765.0 L456.9,764.0 L457.0,763.0 L457.1,762.0 L457.2,761.0 L457.3,760.0 L457.4,759.0 L457.5,758.0 L457.6,757.0 L457.6,756.0 L457.7,755.0 L457.8,754.0 L457.9,753.0 L458.0,752.0 L458.1,751.0 L458.1,750.0 L458.2,749.0 L458.3,748.0 L458.4,747.0 L458.5,746.0 L458.6,745.0 L458.6,744.0 L458.7,743.0 L458.8,742.0 L458.9,741.1 L459.0,740.1 L459.0,739.1 L459.1,738.1 L459.2,737.1 L459.3,736.1 L459.3,735.1 L459.4,734.1 L459.5,733.1 L459.6,732.1 L459.6,731.1 L459.7,730.1 L459.8,729.1 L459.9,728.1 L459.9,727.1 L460.0,726.1 L460.1,725.1 L460.1,724.1 L460.2,723.1 L460.3,722.1 L460.3,721.1 L460.4,720.1 L460.5,719.1 L460.5,718.1 L460.6,717.1 L460.6,716.1 L460.7,715.1 L460.7,714.1 L460.8,713.1 L460.8,712.1 L460.9,711.1 L460.9,710.1 L461.0,709.1 L461.0,708.1 L461.0,707.1 L461.1,706.1 L461.1,705.1 L461.1,704.1 L461.2,703.1 L461.2,702.1 L461.2,701.1 L461.2,700.1 L461.3,699.1 L461.3,698.1 L461.3,697.1 L461.4,696.1 L461.4,695.1 L461.4,694.1 L461.5,693.1 L461.5,692.1 L461.6,691.1 L461.6,690.1 L461.6,689.1 L461.7,688.1 L461.7,687.1 L461.8,686.1 L461.9,685.1 L461.9,684.1 L462.0,683.1 L462.1,682.1 L462.2,681.2 L462.2,680.2 L462.3,679.2 L462.4,678.2 L462.5,677.2 L462.6,676.2 L462.7,675.2 L462.8,674.2 L462.9,673.2 L463.0,672.2 L463.1,671.2 L463.2,670.2 L463.3,669.2 L463.4,668.2 L463.5,667.2 L463.7,666.2 L463.8,665.2 L463.9,664.2 L464.0,663.3 L464.1,662.3 L464.3,661.3 L464.4,660.3 L464.5,659.3 L464.7,658.3 L464.8,657.3 L464.9,656.3 L465.1,655.3 L465.2,654.3 L465.4,653.3 L465.5,652.4 L465.7,651.4 L465.9,650.4 L466.0,649.4 L466.2,648.4 L466.4,647.4 L466.6,646.4 L466.8,645.5 L467.0,644.5 L467.2,643.5 L467.4,642.5 L467.6,641.5 L467.8,640.6 L468.0,639.6 L468.3,638.6 L468.6,637.7 L468.9,636.7 L469.2,635.8 L469.5,634.8 L469.9,633.9 L470.3,633.0 L470.7,632.1 L471.2,631.3 L471.7,630.7 L472.4,630.3 L473.0,630.1 L473.7,630.3 L474.3,630.8 L474.9,631.5 L475.5,632.2 L476.0,633.1 L476.4,634.0 L476.8,634.9 L477.2,635.8 L477.6,636.7 L477.9,637.7 L478.2,638.6 L478.4,639.6 L478.7,640.6 L478.9,641.5 L479.1,642.5 L479.3,643.5 L479.5,644.5 L479.7,645.4 L479.9,646.4 L480.2,647.4 L480.4,648.4 L480.6,649.4 L480.8,650.3 L481.0,651.3 L481.3,652.3 L481.5,653.2 L481.8,654.2 L482.0,655.2 L482.3,656.1 L482.6,657.1 L482.9,658.0 L483.2,659.0 L483.5,659.9 L483.8,660.9 L484.2,661.8 L484.5,662.8 L484.8,663.7 L485.1,664.7 L485.4,665.6 L485.8,666.6 L486.1,667.5 L486.4,668.5 L486.7,669.4 L487.1,670.4 L487.4,671.3 L487.7,672.3 L488.0,673.2 L488.4,674.1 L488.7,675.1 L489.0,676.0 L489.4,677.0 L489.7,677.9 L490.0,678.9 L490.4,679.8 L490.7,680.7 L491.1,681.7 L491.4,682.6 L491.8,683.6 L492.1,684.5 L492.4,685.4 L492.8,686.4 L493.1,687.3 L493.4,688.3 L493.7,689.2 L494.0,690.2 L494.3,691.1 L494.5,692.1 L494.8,693.1 L495.0,694.0 L495.3,695.0 L495.5,696.0 L495.7,697.0 L495.9,698.0 L496.1,698.9 L496.2,699.9 L496.4,700.9 L496.6,701.9 L496.7,702.9 L496.9,703.9 L497.0,704.9 L497.2,705.8 L497.3,706.8 L497.4,707.8 L497.6,708.8 L497.7,709.8 L497.8,710.8 L498.0,711.8 L498.1,712.8 L498.3,713.8 L498.4,714.8 L498.5,715.8 L498.7,716.7 L498.8,717.7 L498.9,718.7 L499.0,719.7 L499.2,720.7 L499.3,721.7 L499.4,722.7 L499.5,723.7 L499.7,724.7 L499.8,725.7 L499.9,726.7 L500.0,727.7 L500.1,728.7 L500.2,729.6 L500.4,730.6 L500.5,731.6 L500.6,732.6 L500.7,733.6 L500.8,734.6 L500.9,735.6 L501.0,736.6 L501.1,737.6 L501.3,738.6 L501.4,739.6 L501.5,740.6 L501.6,741.6 L501.7,742.6 L501.8,743.6 L501.9,744.6 L502.0,745.5 L502.1,746.5 L502.3,747.5 L502.4,748.5 L502.5,749.5 L502.6,750.5 L502.7,751.5 L502.8,752.5 L502.9,753.5 L503.1,754.5 L503.2,755.5 L503.3,756.5 L503.4,757.5 L503.5,758.5 L503.6,759.5 L503.8,760.4 L503.9,761.4 L504.0,762.4 L504.1,763.4 L504.2,764.4 L504.3,765.4 L504.5,766.4 L504.6,767.4 L504.7,768.4 L504.8,769.4 L504.9,770.4 L505.0,771.4 L505.1,772.4 L505.3,773.4 L505.4,774.4 L505.5,775.3 L505.6,776.3 L505.7,777.3 L505.8,778.3 L506.0,779.3 L506.1,780.3 L506.2,781.3 L506.3,782.3 L506.4,783.3 L506.5,784.3 L506.7,785.3 L506.8,786.3 L506.9,787.3 L507.0,788.3 L507.1,789.3 L507.2,790.2 L507.4,791.2 L507.5,792.2 L507.6,793.2 L507.7,794.2 L507.8,795.2 L508.0,796.2 L508.1,797.2 L508.2,798.2 L508.3,799.2 L508.4,800.2 L508.6,801.2 L508.7,802.2 L508.8,803.2 L508.9,804.1 L509.0,805.1 L509.1,806.1 L509.3,807.1 L509.4,808.1 L509.5,809.1 L509.6,810.1 L509.7,811.1 L509.8,812.1 L509.9,813.1 L510.0,814.1 L510.1,815.1 L510.3,816.1 L510.4,817.1 L510.5,818.1 L510.6,819.1 L510.7,820.0 L510.8,821.0 L510.9,822.0 L511.0,823.0 L511.2,824.0 L511.3,825.0 L511.4,826.0 L511.5,827.0 L511.6,828.0 L511.8,829.0 L511.9,830.0 L512.0,831.0 L512.2,832.0 L512.3,832.9 L512.4,833.9 L512.6,834.9 L512.7,835.9 L512.9,836.9 L513.0,837.9 L513.2,838.9 L513.3,839.9 L513.5,840.9 L513.6,841.8 L513.8,842.8 L514.0,843.8 L514.2,844.8 L514.3,845.8 L514.5,846.8 L514.7,847.8 L514.8,848.7 L515.0,849.7 L515.2,850.7 L515.4,851.7 L515.6,852.7 L515.8,853.7 L515.9,854.6 L516.1,855.6 L516.3,856.6 L516.5,857.6 L516.7,858.6 L516.9,859.5 L517.1,860.5 L517.3,861.5 L517.5,862.5 L517.7,863.5 L518.0,864.4 L518.2,865.4 L518.4,866.4 L518.6,867.4 L518.8,868.3 L519.1,869.3 L519.3,870.3 L519.5,871.3 L519.8,872.2 L520.0,873.2 L520.3,874.2 L520.5,875.1 L520.8,876.1 L521.1,877.0 L521.4,878.0 L521.7,879.0 L522.0,879.9 L522.3,880.9 L522.6,881.8 L522.9,882.8 L523.3,883.7 L523.6,884.6 L524.0,885.6 L524.4,886.5 L524.8,887.4 L525.2,888.3 L525.6,889.2 L526.0,890.1 L526.5,891.0 L527.0,891.9 L527.5,892.8 L528.0,893.6 L528.5,894.5 L529.0,895.3 L529.6,896.1 L530.3,896.9 L530.9,897.6 L531.7,898.2 L532.5,898.8 L533.3,899.3 L534.2,899.7 L535.1,900.0 L536.1,900.3 L537.1,900.6 L538.0,900.7 L539.0,900.8 L540.0,900.8 L541.0,900.8 L542.0,900.8 L543.0,900.8 L544.0,900.8 L545.0,900.8 L546.0,900.8 L547.0,900.8 L548.0,900.8 L549.0,900.8 L550.0,900.8 L551.0,900.8 L552.0,900.8 L553.0,900.8 L554.0,900.8 L555.0,900.8 L556.0,900.8 L557.0,900.8 L558.0,900.8 L559.0,900.8 L560.0,900.8 L561.0,900.8 L562.0,900.8 L563.0,900.8 L564.0,900.8 L565.0,900.8 L566.0,900.8 L567.0,900.8 L568.0,900.8 L569.0,900.8 L570.0,900.8 L571.0,900.8 L571.9,900.8 L572.7,900.8 L573.4,900.8 L573.9,900.8" fill="none" stroke="#2519aa" stroke-width="3.0" stroke-linejoin="round" stroke-linecap="round"/>
<path d="M796.3,849.0 L797.3,849.5 L798.3,850.0 L799.3,850.5 L800.3,851.0 L801.3,851.5 L802.3,852.0 L803.3,852.4 L804.3,852.8 L805.3,853.3 L806.3,853.7 L807.3,854.0 L808.3,854.4 L809.3,854.7 L810.3,855.1 L811.3,855.4 L812.3,855.6 L813.3,855.9 L814.3,856.1 L815.3,856.3 L816.3,856.5 L817.3,856.6 L818.3,856.8 L819.3,856.9 L820.3,856.9 L821.3,857.0 L822.3,857.0 L823.3,856.9 L824.3,856.9 L825.3,856.8 L826.3,856.7 L827.3,856.5 L828.3,856.3 L829.3,856.1 L830.3,855.8 L831.3,855.5 L832.3,855.2 L833.3,854.8 L834.3,854.4 L835.3,853.9 L836.3,853.4 L837.3,852.9 L838.3,852.3 L839.3,851.6 L840.3,851.0 L841.3,850.2 L842.3,849.5 L843.3,848.6 L844.3,847.8 L845.3,846.8 L846.3,845.9 L847.3,844.8 L848.3,843.8 L849.3,842.6 L850.3,841.5 L851.3,840.2 L852.3,838.9 L853.3,837.6 L854.3,836.2 L855.3,834.7 L856.3,833.2 L857.3,831.7 L858.3,830.0 L859.3,828.3 L860.3,826.6 L861.3,824.7 L862.3,822.9 L863.3,820.9 L864.3,818.9 L865.3,816.8 L866.3,814.7 L867.3,812.4 L868.3,810.2 L869.3,807.8 L870.3,805.4 L871.3,802.9 L872.3,800.4 L873.3,797.7 L874.3,795.0 L875.3,792.3 L876.3,789.4 L877.3,786.5 L878.3,783.5 L879.3,780.4 L880.3,777.3 L881.3,774.1 L882.3,770.8 L883.3,767.6 L884.3,764.2 L885.3,760.9 L886.3,757.6 L887.3,754.2 L888.3,750.9 L889.3,747.5 L890.3,744.2 L891.3,740.9 L892.3,737.6 L893.3,734.3 L894.3,731.0 L895.3,727.8 L896.3,724.6 L897.3,721.4 L898.3,718.3 L899.3,715.2 L900.3,712.1 L901.3,709.1 L902.3,706.1 L903.3,703.0 L904.3,700.0 L905.3,697.0 L906.3,693.9 L907.3,690.8 L908.3,687.7 L909.3,684.6 L910.3,681.4 L911.3,678.1 L912.3,674.8 L913.3,671.5 L914.3,668.1 L915.3,664.7 L916.3,661.2 L917.3,657.8 L918.3,654.3 L919.3,650.8 L920.3,647.2 L921.3,643.7 L922.3,640.2 L923.3,636.7 L924.3,633.2 L925.3,629.8 L926.3,626.3 L927.3,622.9 L928.3,619.6 L929.3,616.2 L930.3,613.0 L931.3,609.8 L932.3,606.6 L933.3,603.5 L934.3,600.5 L935.3,597.6 L936.3,594.8 L937.3,592.1 L938.3,589.4 L939.3,586.9 L940.3,584.4 L941.3,582.1 L942.3,579.9 L943.3,577.8 L944.3,575.7 L945.3,573.8 L946.3,572.0 L947.3,570.3 L948.3,568.7 L949.3,567.1 L950.3,565.7 L951.3,564.3 L952.3,563.1 L953.3,562.0 L954.3,560.9 L955.3,559.9 L956.3,559.0 L957.3,558.3 L958.3,557.6 L959.3,557.0 L960.3,556.4 L961.3,556.0 L962.3,555.6 L963.3,555.4 L964.3,555.2 L965.3,555.1 L966.3,555.1 L967.3,555.1 L968.3,555.3 L969.3,555.5 L970.3,555.8 L971.3,556.2 L972.3,556.7 L973.3,557.3 L974.3,558.0 L975.3,558.8 L976.3,559.6 L977.3,560.6 L978.3,561.7 L979.3,562.9 L980.3,564.2 L981.3,565.6 L982.3,567.1 L983.3,568.7 L984.3,570.4 L985.3,572.2 L986.3,574.2 L987.3,576.3 L988.3,578.5 L989.3,580.8 L990.3,583.3 L991.3,585.8 L992.3,588.5 L993.3,591.4 L994.3,594.3 L995.3,597.4 L996.3,600.6 L997.3,603.9 L998.3,607.3 L999.3,610.8 L1000.3,614.4 L1001.3,618.0 L1002.3,621.7 L1003.3,625.4 L1004.3,629.1 L1005.3,632.9 L1006.3,636.6 L1007.3,640.4 L1008.3,644.1 L1009.3,647.8 L1010.3,651.6 L1011.3,655.3 L1012.3,659.1 L1013.3,662.9 L1014.3,666.7 L1015.3,670.6 L1016.3,674.5 L1017.3,678.5 L1018.3,682.6 L1019.3,686.7 L1020.3,690.9 L1021.3,695.2 L1022.3,699.6 L1023.3,704.0 L1024.3,708.5 L1025.3,713.1 L1026.3,717.7 L1027.3,722.3 L1028.3,726.9 L1029.3,731.6 L1030.3,736.2 L1031.3,740.8 L1032.3,745.4 L1033.3,749.9 L1034.3,754.5 L1035.3,758.9 L1036.3,763.3 L1037.3,767.6 L1038.3,771.8 L1039.3,776.0 L1040.3,780.1 L1041.3,784.1 L1042.3,788.0 L1043.3,791.9 L1044.3,795.6 L1045.3,799.3 L1046.3,802.9 L1047.3,806.4 L1048.3,809.8 L1049.3,813.1 L1050.3,816.4 L1051.3,819.5 L1052.3,822.6 L1053.3,825.5 L1054.3,828.4 L1055.3,831.2 L1056.3,833.9 L1057.3,836.6 L1058.3,839.1 L1059.3,841.6 L1060.3,844.0 L1061.3,846.3 L1062.3,848.6 L1063.3,850.8 L1064.3,852.9 L1065.3,854.9 L1066.3,856.9 L1067.3,858.8 L1068.3,860.6 L1069.3,862.4 L1070.3,864.1 L1071.3,865.7 L1072.3,867.3 L1073.3,868.8 L1074.3,870.2 L1075.3,871.6 L1076.3,873.0 L1077.3,874.2 L1078.3,875.5 L1079.3,876.6 L1080.3,877.7 L1081.3,878.8 L1082.3,879.8 L1083.3,880.8 L1084.3,881.7 L1085.3,882.6 L1086.3,883.4 L1087.3,884.2 L1088.3,885.0 L1089.3,885.7 L1090.3,886.4 L1091.3,887.0 L1092.3,887.6 L1093.3,888.1 L1094.3,888.7 L1095.3,889.2 L1096.3,889.6 L1097.3,890.0 L1098.3,890.4 L1099.3,890.8 L1100.3,891.2 L1101.3,891.5 L1102.3,891.8 L1103.3,892.1 L1104.3,892.3 L1105.3,892.6 L1106.3,892.8 L1107.3,893.0 L1108.3,893.1 L1109.3,893.3 L1110.3,893.5 L1111.3,893.6 L1112.3,893.7 L1113.3,893.9 L1114.3,894.0 L1115.3,894.1 L1116.3,894.2 L1117.3,894.3 L1118.3,894.4 L1119.3,894.5 L1120.3,894.5 L1121.3,894.6 L1122.3,894.7 L1123.3,894.8 L1124.3,894.9 L1125.3,894.9 L1126.3,895.0 L1127.3,895.1 L1128.3,895.1 L1129.3,895.2 L1130.3,895.2 L1131.3,895.3 L1132.3,895.4 L1133.3,895.4 L1134.3,895.5 L1135.3,895.5 L1136.3,895.5 L1137.3,895.6 L1138.3,895.6 L1139.3,895.7 L1140.3,895.7 L1141.3,895.7 L1142.3,895.8 L1143.3,895.8 L1144.3,895.8 L1145.3,895.8 L1146.3,895.9 L1147.3,895.9 L1148.3,895.9 L1149.3,895.9 L1150.3,896.0 L1151.3,896.0 L1152.3,896.0 L1153.3,896.0 L1154.3,896.0 L1155.3,896.0 L1156.3,896.0 L1157.3,896.0 L1158.3,896.0 L1159.3,896.0 L1160.3,896.1 L1161.3,896.1 L1162.3,896.1 L1163.3,896.1 L1164.3,896.1 L1165.3,896.1 L1166.3,896.1 L1167.3,896.1 L1168.3,896.1 L1169.3,896.1 L1170.3,896.0 L1171.3,896.0 L1172.3,896.0 L1173.3,896.0 L1174.3,896.0 L1175.3,896.0 L1176.3,896.0 L1177.3,896.0 L1178.3,896.0 L1179.3,896.0 L1180.3,896.0 L1181.3,896.0 L1182.3,896.0 L1183.3,896.0 L1184.3,896.0 L1185.3,896.0 L1186.3,895.9 L1187.3,895.9 L1188.3,895.9 L1189.3,895.9 L1190.3,895.9 L1191.3,895.9 L1192.3,895.9 L1193.3,895.9 L1194.3,895.9 L1195.3,895.9 L1196.3,895.9 L1197.3,895.9 L1198.3,895.9 L1199.3,895.9 L1200.3,895.9 L1201.3,895.9 L1202.3,895.9 L1203.3,895.9 L1204.3,895.9 L1205.3,895.9 L1206.3,895.9 L1207.3,895.9 L1208.3,895.9 L1209.3,895.9 L1210.3,896.0 L1211.3,896.0 L1212.3,896.0 L1213.3,896.0 L1214.3,896.0 L1215.3,896.0 L1216.3,896.1 L1217.3,896.1 L1218.3,896.1 L1219.3,896.1 L1220.3,896.2 L1221.3,896.2 L1222.3,896.2 L1223.3,896.3 L1224.3,896.3 L1225.3,896.3 L1226.3,896.4 L1227.3,896.4 L1228.3,896.4 L1229.3,896.4 L1230.3,896.4 L1230.5,896.4" fill="none" stroke="#0a0a0a" stroke-width="3.0" stroke-linejoin="round" stroke-linecap="round"/>
<path d="M796.3,893.3 L797.3,893.1 L798.3,893.0 L799.3,892.8 L800.3,892.6 L801.3,892.4 L802.3,892.1 L803.3,891.9 L804.3,891.6 L805.3,891.4 L806.3,891.1 L807.3,890.8 L808.3,890.5 L809.3,890.2 L810.3,889.8 L811.3,889.5 L812.3,889.1 L813.3,888.7 L814.3,888.3 L815.3,887.9 L816.3,887.4 L817.3,887.0 L818.3,886.5 L819.3,886.0 L820.3,885.5 L821.3,885.0 L822.3,884.4 L823.3,883.8 L824.3,883.2 L825.3,882.6 L826.3,882.0 L827.3,881.3 L828.3,880.7 L829.3,880.0 L830.3,879.2 L831.3,878.5 L832.3,877.7 L833.3,876.9 L834.3,876.1 L835.3,875.3 L836.3,874.4 L837.3,873.5 L838.3,872.6 L839.3,871.7 L840.3,870.7 L841.3,869.7 L842.3,868.7 L843.3,867.7 L844.3,866.6 L845.3,865.5 L846.3,864.4 L847.3,863.2 L848.3,862.1 L849.3,860.9 L850.3,859.6 L851.3,858.4 L852.3,857.1 L853.3,855.7 L854.3,854.4 L855.3,853.0 L856.3,851.6 L857.3,850.1 L858.3,848.6 L859.3,847.1 L860.3,845.6 L861.3,844.0 L862.3,842.4 L863.3,840.7 L864.3,839.1 L865.3,837.4 L866.3,835.6 L867.3,833.8 L868.3,832.0 L869.3,830.1 L870.3,828.2 L871.3,826.2 L872.3,824.1 L873.3,822.0 L874.3,819.8 L875.3,817.6 L876.3,815.3 L877.3,812.9 L878.3,810.4 L879.3,807.8 L880.3,805.1 L881.3,802.3 L882.3,799.5 L883.3,796.5 L884.3,793.4 L885.3,790.2 L886.3,786.9 L887.3,783.5 L888.3,779.9 L889.3,776.3 L890.3,772.5 L891.3,768.5 L892.3,764.5 L893.3,760.4 L894.3,756.1 L895.3,751.9 L896.3,747.5 L897.3,743.1 L898.3,738.7 L899.3,734.2 L900.3,729.7 L901.3,725.2 L902.3,720.7 L903.3,716.2 L904.3,711.7 L905.3,707.2 L906.3,702.7 L907.3,698.2 L908.3,693.8 L909.3,689.3 L910.3,684.9 L911.3,680.5 L912.3,676.1 L913.3,671.8 L914.3,667.5 L915.3,663.2 L916.3,658.9 L917.3,654.7 L918.3,650.6 L919.3,646.5 L920.3,642.4 L921.3,638.4 L922.3,634.5 L923.3,630.7 L924.3,626.9 L925.3,623.2 L926.3,619.6 L927.3,616.2 L928.3,612.8 L929.3,609.6 L930.3,606.5 L931.3,603.5 L932.3,600.6 L933.3,597.9 L934.3,595.4 L935.3,593.0 L936.3,590.8 L937.3,588.7 L938.3,586.8 L939.3,585.1 L940.3,583.5 L941.3,582.1 L942.3,580.8 L943.3,579.6 L944.3,578.6 L945.3,577.7 L946.3,577.0 L947.3,576.4 L948.3,575.9 L949.3,575.6 L950.3,575.4 L951.3,575.2 L952.3,575.2 L953.3,575.4 L954.3,575.6 L955.3,575.9 L956.3,576.4 L957.3,576.9 L958.3,577.6 L959.3,578.4 L960.3,579.3 L961.3,580.3 L962.3,581.4 L963.3,582.6 L964.3,583.9 L965.3,585.3 L966.3,586.9 L967.3,588.6 L968.3,590.4 L969.3,592.3 L970.3,594.3 L971.3,596.4 L972.3,598.6 L973.3,601.0 L974.3,603.5 L975.3,606.1 L976.3,608.8 L977.3,611.6 L978.3,614.6 L979.3,617.6 L980.3,620.8 L981.3,624.1 L982.3,627.5 L983.3,631.0 L984.3,634.6 L985.3,638.3 L986.3,642.1 L987.3,645.9 L988.3,649.7 L989.3,653.6 L990.3,657.5 L991.3,661.5 L992.3,665.4 L993.3,669.4 L994.3,673.3 L995.3,677.2 L996.3,681.1 L997.3,685.0 L998.3,688.8 L999.3,692.5 L1000.3,696.2 L1001.3,699.8 L1002.3,703.3 L1003.3,706.8 L1004.3,710.2 L1005.3,713.6 L1006.3,716.9 L1007.3,720.1 L1008.3,723.4 L1009.3,726.5 L1010.3,729.7 L1011.3,732.7 L1012.3,735.7 L1013.3,738.7 L1014.3,741.6 L1015.3,744.4 L1016.3,747.1 L1017.3,749.8 L1018.3,752.3 L1019.3,754.8 L1020.3,757.3 L1021.3,759.6 L1022.3,761.8 L1023.3,764.0 L1024.3,766.0 L1025.3,767.9 L1026.3,769.8 L1027.3,771.5 L1028.3,773.1 L1029.3,774.7 L1030.3,776.2 L1031.3,777.5 L1032.3,778.8 L1033.3,780.0 L1034.3,781.1 L1035.3,782.2 L1036.3,783.2 L1037.3,784.1 L1038.3,784.9 L1039.3,785.7 L1040.3,786.4 L1041.3,787.1 L1042.3,787.7 L1043.3,788.2 L1044.3,788.7 L1045.3,789.2 L1046.3,789.6 L1047.3,789.9 L1048.3,790.3 L1049.3,790.6 L1050.3,790.8 L1051.3,791.1 L1052.3,791.3 L1053.3,791.5 L1054.3,791.6 L1055.3,791.8 L1056.3,791.9 L1057.3,792.1 L1058.3,792.2 L1059.3,792.3 L1060.3,792.4 L1061.3,792.5 L1062.3,792.7 L1063.3,792.8 L1064.3,792.9 L1065.3,793.1 L1066.3,793.2 L1067.3,793.4 L1068.3,793.6 L1069.3,793.9 L1070.3,794.1 L1071.3,794.4 L1072.3,794.7 L1073.3,795.0 L1074.3,795.3 L1075.3,795.7 L1076.3,796.1 L1077.3,796.5 L1078.3,797.0 L1079.3,797.4 L1080.3,797.9 L1081.3,798.4 L1082.3,799.0 L1083.3,799.5 L1084.3,800.1 L1085.3,800.7 L1086.3,801.4 L1087.3,802.1 L1088.3,802.8 L1089.3,803.5 L1090.3,804.2 L1091.3,805.0 L1092.3,805.8 L1093.3,806.6 L1094.3,807.5 L1095.3,808.4 L1096.3,809.3 L1097.3,810.3 L1098.3,811.2 L1099.3,812.2 L1100.3,813.3 L1101.3,814.3 L1102.3,815.4 L1103.3,816.5 L1104.3,817.7 L1105.3,818.9 L1106.3,820.1 L1107.3,821.3 L1108.3,822.6 L1109.3,823.9 L1110.3,825.2 L1111.3,826.6 L1112.3,828.0 L1113.3,829.4 L1114.3,830.8 L1115.3,832.3 L1116.3,833.8 L1117.3,835.3 L1118.3,836.8 L1119.3,838.4 L1120.3,839.9 L1121.3,841.5 L1122.3,843.0 L1123.3,844.6 L1124.3,846.1 L1125.3,847.7 L1126.3,849.3 L1127.3,850.8 L1128.3,852.3 L1129.3,853.9 L1130.3,855.4 L1131.3,856.9 L1132.3,858.4 L1133.3,859.8 L1134.3,861.2 L1135.3,862.6 L1136.3,864.0 L1137.3,865.3 L1138.3,866.6 L1139.3,867.9 L1140.3,869.1 L1141.3,870.3 L1142.3,871.4 L1143.3,872.5 L1144.3,873.6 L1145.3,874.6 L1146.3,875.6 L1147.3,876.6 L1148.3,877.5 L1149.3,878.4 L1150.3,879.2 L1151.3,880.0 L1152.3,880.8 L1153.3,881.6 L1154.3,882.3 L1155.3,883.0 L1156.3,883.6 L1157.3,884.3 L1158.3,884.9 L1159.3,885.5 L1160.3,886.0 L1161.3,886.6 L1162.3,887.1 L1163.3,887.6 L1164.3,888.0 L1165.3,888.5 L1166.3,888.9 L1167.3,889.3 L1168.3,889.7 L1169.3,890.1 L1170.3,890.4 L1171.3,890.7 L1172.3,891.1 L1173.3,891.4 L1174.3,891.6 L1175.3,891.9 L1176.3,892.2 L1177.3,892.4 L1178.3,892.6 L1179.3,892.8 L1180.3,893.0 L1181.3,893.2 L1182.3,893.4 L1183.3,893.6 L1184.3,893.7 L1185.3,893.9 L1186.3,894.0 L1187.3,894.1 L1188.3,894.3 L1189.3,894.4 L1190.3,894.5 L1191.3,894.6 L1192.3,894.7 L1193.3,894.8 L1194.3,894.9 L1195.3,895.0 L1196.3,895.1 L1197.3,895.1 L1198.3,895.2 L1199.3,895.3 L1200.3,895.4 L1201.3,895.5 L1202.3,895.5 L1203.3,895.6 L1204.3,895.7 L1205.3,895.7 L1206.3,895.8 L1207.3,895.9 L1208.3,895.9 L1209.3,896.0 L1210.3,896.0 L1211.3,896.1 L1212.3,896.1 L1213.3,896.2 L1214.3,896.2 L1215.3,896.2 L1216.3,896.3 L1217.3,896.3 L1218.3,896.3 L1219.3,896.4 L1220.3,896.4 L1221.3,896.4 L1222.3,896.4 L1223.3,896.4 L1224.3,896.4 L1225.3,896.4 L1226.3,896.4 L1227.3,896.4 L1228.3,896.4 L1229.3,896.4 L1230.3,896.4 L1230.5,896.4" fill="none" stroke="#c02832" stroke-width="3.0" stroke-linejoin="round" stroke-linecap="round"/>
<path d="M796.3,884.2 L797.3,884.3 L798.3,884.4 L799.3,884.4 L800.3,884.5 L801.3,884.5 L802.3,884.6 L803.3,884.6 L804.3,884.6 L805.3,884.5 L806.3,884.5 L807.3,884.4 L808.3,884.3 L809.3,884.2 L810.3,884.1 L811.3,884.0 L812.3,883.8 L813.3,883.6 L814.3,883.4 L815.3,883.2 L816.3,882.9 L817.3,882.6 L818.3,882.3 L819.3,882.0 L820.3,881.7 L821.3,881.3 L822.3,880.9 L823.3,880.5 L824.3,880.0 L825.3,879.5 L826.3,879.0 L827.3,878.5 L828.3,877.9 L829.3,877.3 L830.3,876.7 L831.3,876.0 L832.3,875.3 L833.3,874.6 L834.3,873.9 L835.3,873.1 L836.3,872.3 L837.3,871.4 L838.3,870.5 L839.3,869.6 L840.3,868.6 L841.3,867.6 L842.3,866.6 L843.3,865.5 L844.3,864.4 L845.3,863.3 L846.3,862.1 L847.3,860.9 L848.3,859.6 L849.3,858.3 L850.3,857.0 L851.3,855.6 L852.3,854.2 L853.3,852.7 L854.3,851.2 L855.3,849.6 L856.3,848.0 L857.3,846.4 L858.3,844.7 L859.3,843.0 L860.3,841.2 L861.3,839.4 L862.3,837.6 L863.3,835.7 L864.3,833.7 L865.3,831.7 L866.3,829.7 L867.3,827.6 L868.3,825.5 L869.3,823.3 L870.3,821.1 L871.3,818.8 L872.3,816.5 L873.3,814.2 L874.3,811.8 L875.3,809.3 L876.3,806.8 L877.3,804.3 L878.3,801.7 L879.3,799.1 L880.3,796.4 L881.3,793.7 L882.3,790.9 L883.3,788.1 L884.3,785.2 L885.3,782.3 L886.3,779.4 L887.3,776.4 L888.3,773.3 L889.3,770.2 L890.3,767.1 L891.3,763.9 L892.3,760.7 L893.3,757.4 L894.3,754.2 L895.3,750.9 L896.3,747.6 L897.3,744.3 L898.3,740.9 L899.3,737.6 L900.3,734.2 L901.3,730.8 L902.3,727.5 L903.3,724.1 L904.3,720.8 L905.3,717.4 L906.3,714.1 L907.3,710.8 L908.3,707.4 L909.3,704.2 L910.3,700.9 L911.3,697.7 L912.3,694.5 L913.3,691.3 L914.3,688.2 L915.3,685.1 L916.3,682.1 L917.3,679.1 L918.3,676.2 L919.3,673.3 L920.3,670.4 L921.3,667.7 L922.3,664.9 L923.3,662.3 L924.3,659.7 L925.3,657.2 L926.3,654.7 L927.3,652.3 L928.3,650.0 L929.3,647.7 L930.3,645.6 L931.3,643.4 L932.3,641.4 L933.3,639.5 L934.3,637.6 L935.3,635.8 L936.3,634.1 L937.3,632.5 L938.3,631.0 L939.3,629.5 L940.3,628.2 L941.3,626.9 L942.3,625.8 L943.3,624.7 L944.3,623.7 L945.3,622.9 L946.3,622.1 L947.3,621.4 L948.3,620.9 L949.3,620.4 L950.3,620.1 L951.3,619.9 L952.3,619.7 L953.3,619.7 L954.3,619.8 L955.3,620.0 L956.3,620.4 L957.3,620.8 L958.3,621.3 L959.3,621.9 L960.3,622.6 L961.3,623.4 L962.3,624.4 L963.3,625.4 L964.3,626.5 L965.3,627.7 L966.3,628.9 L967.3,630.3 L968.3,631.8 L969.3,633.3 L970.3,634.9 L971.3,636.6 L972.3,638.4 L973.3,640.3 L974.3,642.2 L975.3,644.2 L976.3,646.2 L977.3,648.3 L978.3,650.5 L979.3,652.7 L980.3,654.9 L981.3,657.2 L982.3,659.6 L983.3,662.0 L984.3,664.4 L985.3,666.9 L986.3,669.4 L987.3,671.9 L988.3,674.4 L989.3,677.0 L990.3,679.6 L991.3,682.2 L992.3,684.8 L993.3,687.5 L994.3,690.1 L995.3,692.8 L996.3,695.4 L997.3,698.1 L998.3,700.7 L999.3,703.3 L1000.3,706.0 L1001.3,708.6 L1002.3,711.2 L1003.3,713.8 L1004.3,716.3 L1005.3,718.9 L1006.3,721.4 L1007.3,723.9 L1008.3,726.4 L1009.3,728.8 L1010.3,731.3 L1011.3,733.7 L1012.3,736.0 L1013.3,738.4 L1014.3,740.7 L1015.3,743.0 L1016.3,745.2 L1017.3,747.4 L1018.3,749.6 L1019.3,751.8 L1020.3,753.9 L1021.3,755.9 L1022.3,757.9 L1023.3,759.9 L1024.3,761.8 L1025.3,763.7 L1026.3,765.5 L1027.3,767.3 L1028.3,769.0 L1029.3,770.7 L1030.3,772.3 L1031.3,773.9 L1032.3,775.4 L1033.3,776.8 L1034.3,778.2 L1035.3,779.6 L1036.3,780.8 L1037.3,782.1 L1038.3,783.2 L1039.3,784.4 L1040.3,785.4 L1041.3,786.5 L1042.3,787.4 L1043.3,788.4 L1044.3,789.3 L1045.3,790.1 L1046.3,791.0 L1047.3,791.7 L1048.3,792.5 L1049.3,793.2 L1050.3,793.9 L1051.3,794.5 L1052.3,795.1 L1053.3,795.7 L1054.3,796.3 L1055.3,796.8 L1056.3,797.3 L1057.3,797.8 L1058.3,798.3 L1059.3,798.8 L1060.3,799.2 L1061.3,799.7 L1062.3,800.1 L1063.3,800.5 L1064.3,800.9 L1065.3,801.3 L1066.3,801.7 L1067.3,802.0 L1068.3,802.4 L1069.3,802.8 L1070.3,803.2 L1071.3,803.5 L1072.3,803.9 L1073.3,804.3 L1074.3,804.7 L1075.3,805.1 L1076.3,805.5 L1077.3,806.0 L1078.3,806.4 L1079.3,806.9 L1080.3,807.3 L1081.3,807.8 L1082.3,808.3 L1083.3,808.8 L1084.3,809.4 L1085.3,809.9 L1086.3,810.5 L1087.3,811.1 L1088.3,811.7 L1089.3,812.3 L1090.3,812.9 L1091.3,813.5 L1092.3,814.2 L1093.3,814.8 L1094.3,815.5 L1095.3,816.2 L1096.3,816.9 L1097.3,817.6 L1098.3,818.4 L1099.3,819.1 L1100.3,819.9 L1101.3,820.7 L1102.3,821.4 L1103.3,822.2 L1104.3,823.1 L1105.3,823.9 L1106.3,824.7 L1107.3,825.6 L1108.3,826.4 L1109.3,827.3 L1110.3,828.2 L1111.3,829.1 L1112.3,830.0 L1113.3,830.9 L1114.3,831.9 L1115.3,832.8 L1116.3,833.8 L1117.3,834.8 L1118.3,835.7 L1119.3,836.7 L1120.3,837.8 L1121.3,838.8 L1122.3,839.8 L1123.3,840.8 L1124.3,841.9 L1125.3,842.9 L1126.3,844.0 L1127.3,845.1 L1128.3,846.1 L1129.3,847.2 L1130.3,848.3 L1131.3,849.4 L1132.3,850.5 L1133.3,851.5 L1134.3,852.6 L1135.3,853.7 L1136.3,854.8 L1137.3,855.9 L1138.3,857.0 L1139.3,858.1 L1140.3,859.1 L1141.3,860.2 L1142.3,861.3 L1143.3,862.3 L1144.3,863.4 L1145.3,864.4 L1146.3,865.4 L1147.3,866.5 L1148.3,867.5 L1149.3,868.5 L1150.3,869.5 L1151.3,870.4 L1152.3,871.4 L1153.3,872.4 L1154.3,873.3 L1155.3,874.2 L1156.3,875.1 L1157.3,876.0 L1158.3,876.9 L1159.3,877.7 L1160.3,878.5 L1161.3,879.3 L1162.3,880.1 L1163.3,880.9 L1164.3,881.6 L1165.3,882.3 L1166.3,883.0 L1167.3,883.7 L1168.3,884.3 L1169.3,884.9 L1170.3,885.5 L1171.3,886.1 L1172.3,886.6 L1173.3,887.1 L1174.3,887.6 L1175.3,888.0 L1176.3,888.4 L1177.3,888.8 L1178.3,889.2 L1179.3,889.6 L1180.3,889.9 L1181.3,890.2 L1182.3,890.5 L1183.3,890.8 L1184.3,891.0 L1185.3,891.3 L1186.3,891.5 L1187.3,891.7 L1188.3,891.9 L1189.3,892.1 L1190.3,892.3 L1191.3,892.4 L1192.3,892.6 L1193.3,892.7 L1194.3,892.8 L1195.3,892.9 L1196.3,893.0 L1197.3,893.1 L1198.3,893.2 L1199.3,893.3 L1200.3,893.3 L1201.3,893.4 L1202.3,893.5 L1203.3,893.5 L1204.3,893.6 L1205.3,893.6 L1206.3,893.7 L1207.3,893.8 L1208.3,893.8 L1209.3,893.9 L1210.3,893.9 L1211.3,894.0 L1212.3,894.0 L1213.3,894.1 L1214.3,894.2 L1215.3,894.2 L1216.3,894.3 L1217.3,894.4 L1218.3,894.5 L1219.3,894.6 L1220.3,894.7 L1221.3,894.8 L1222.3,895.0 L1223.3,895.1 L1224.3,895.3 L1225.3,895.4 L1226.3,895.6 L1227.3,895.8 L1228.3,896.0 L1229.3,896.3 L1230.3,896.4 L1230.5,896.4" fill="none" stroke="#2519aa" stroke-width="3.0" stroke-linejoin="round" stroke-linecap="round"/>
<text x="309.5" y="42.6" class="an" xml:space="preserve"><tspan>Coupled</tspan></text>
<text x="309.5" y="77.8" class="an" xml:space="preserve"><tspan>ν</tspan><tspan font-size="15" dy="10.3">s</tspan><tspan dy="-10.3">​</tspan><tspan>(CH</tspan><tspan font-size="15" dy="10.3">2</tspan><tspan dy="-10.3">​</tspan><tspan>)</tspan></text>
<text x="309.5" y="119.8" class="an" xml:space="preserve"><tspan>ν</tspan><tspan font-size="15" dy="10.3">s</tspan><tspan dy="-10.3">​</tspan><tspan>(CH</tspan><tspan font-size="15" dy="10.3">3</tspan><tspan dy="-10.3">​</tspan><tspan>)</tspan></text>
<text x="331" y="221.6" class="an" xml:space="preserve"><tspan>ν</tspan><tspan font-size="15" dy="10.3">s</tspan><tspan dy="-10.3">​</tspan><tspan>+ν</tspan><tspan font-size="15" dy="10.3">a</tspan><tspan dy="-10.3">​</tspan><tspan>(CH</tspan><tspan font-size="15" dy="10.3">2</tspan><tspan dy="-10.3">​</tspan><tspan>)</tspan></text>
<text x="468" y="233.6" class="an" xml:space="preserve"><tspan>ν</tspan><tspan font-size="15" dy="10.3">a</tspan><tspan dy="-10.3">​</tspan><tspan>(CH</tspan><tspan font-size="15" dy="10.3">2</tspan><tspan dy="-10.3">​</tspan><tspan>)</tspan></text>
<text x="493" y="288.3" class="an" xml:space="preserve"><tspan>ν</tspan><tspan font-size="15" dy="10.3">s</tspan><tspan dy="-10.3">​</tspan><tspan>(CH</tspan><tspan font-size="15" dy="10.3">3</tspan><tspan dy="-10.3">​</tspan><tspan>)</tspan></text>
<text x="897" y="125.6" class="an" xml:space="preserve"><tspan>δ</tspan><tspan font-size="15" dy="10.3">s</tspan><tspan dy="-10.3">​</tspan><tspan>(CH</tspan><tspan font-size="15" dy="10.3">2</tspan><tspan dy="-10.3">​</tspan><tspan>)</tspan><tspan font-size="15" dy="10.3">alt.</tspan><tspan dy="-10.3">​</tspan><tspan>+δ</tspan><tspan font-size="15" dy="10.3">s</tspan><tspan dy="-10.3">​</tspan><tspan>(CH</tspan><tspan font-size="15" dy="10.3">3</tspan><tspan dy="-10.3">​</tspan><tspan>)</tspan></text>
<text x="831.5" y="182.2" class="an" xml:space="preserve"><tspan>δ</tspan><tspan font-size="15" dy="10.3">s</tspan><tspan dy="-10.3">​</tspan><tspan>(CH</tspan><tspan font-size="15" dy="10.3">3</tspan><tspan dy="-10.3">​</tspan><tspan>)</tspan></text>
<text x="1069" y="210.6" class="an" xml:space="preserve"><tspan>δ</tspan><tspan font-size="15" dy="10.3">s</tspan><tspan dy="-10.3">​</tspan><tspan>(CH</tspan><tspan font-size="15" dy="10.3">2</tspan><tspan dy="-10.3">​</tspan><tspan>)</tspan><tspan font-size="15" dy="10.3">sync.</tspan><tspan dy="-10.3">​</tspan></text>
<text x="346" y="558.7" class="an" xml:space="preserve"><tspan>ν</tspan><tspan font-size="15" dy="10.3">a</tspan><tspan dy="-10.3">​</tspan><tspan>(CH</tspan><tspan font-size="15" dy="10.3">2</tspan><tspan dy="-10.3">​</tspan><tspan>)</tspan></text>
<text x="346" y="595.7" class="an" xml:space="preserve"><tspan>ν</tspan><tspan font-size="15" dy="10.3">s</tspan><tspan dy="-10.3">​</tspan><tspan>(CH</tspan><tspan font-size="15" dy="10.3">3</tspan><tspan dy="-10.3">​</tspan><tspan>)</tspan></text>
<text x="497" y="558.7" class="an" xml:space="preserve"><tspan>ν</tspan><tspan font-size="15" dy="10.3">a</tspan><tspan dy="-10.3">​</tspan><tspan>(CH</tspan><tspan font-size="15" dy="10.3">2</tspan><tspan dy="-10.3">​</tspan><tspan>)</tspan></text>
<text x="497" y="599.9" class="an" xml:space="preserve"><tspan>ν</tspan><tspan font-size="15" dy="10.3">a</tspan><tspan dy="-10.3">​</tspan><tspan>(CH</tspan><tspan font-size="15" dy="10.3">3</tspan><tspan dy="-10.3">​</tspan><tspan>)</tspan></text>
<text x="502" y="688.5" class="an" xml:space="preserve"><tspan>ν</tspan><tspan font-size="15" dy="10.3">a</tspan><tspan dy="-10.3">​</tspan><tspan>(CH</tspan><tspan font-size="15" dy="10.3">3</tspan><tspan dy="-10.3">​</tspan><tspan>)</tspan></text>
<text x="252.5" y="655.7" class="an" xml:space="preserve"><tspan>ν</tspan><tspan font-size="15" dy="10.3">s</tspan><tspan dy="-10.3">​</tspan><tspan>(CH</tspan><tspan font-size="15" dy="10.3">2</tspan><tspan dy="-10.3">​</tspan><tspan>)</tspan></text>
<text x="347.5" y="874.3" class="an" xml:space="preserve"><tspan>ν(CH)</tspan></text>
<text x="258.5" y="907" class="an" xml:space="preserve"><tspan>ν</tspan><tspan font-size="15" dy="10.3">s</tspan><tspan dy="-10.3">​</tspan><tspan>+ν</tspan><tspan font-size="15" dy="10.3">a</tspan><tspan dy="-10.3">​</tspan><tspan>(CH</tspan><tspan font-size="15" dy="10.3">2</tspan><tspan dy="-10.3">​</tspan><tspan>)</tspan></text>
<text x="1000" y="571.8" class="an" xml:space="preserve"><tspan>δ</tspan><tspan font-size="15" dy="10.3">s</tspan><tspan dy="-10.3">​</tspan><tspan>(CH</tspan><tspan font-size="15" dy="10.3">2</tspan><tspan dy="-10.3">​</tspan><tspan>)</tspan><tspan font-size="15" dy="10.3">alt.</tspan><tspan dy="-10.3">​</tspan><tspan>+δ</tspan><tspan font-size="15" dy="10.3">s</tspan><tspan dy="-10.3">​</tspan><tspan>(CH</tspan><tspan font-size="15" dy="10.3">3</tspan><tspan dy="-10.3">​</tspan><tspan>)</tspan></text>
<text x="1068.5" y="780" class="an" xml:space="preserve"><tspan>δ</tspan><tspan font-size="15" dy="10.3">s</tspan><tspan dy="-10.3">​</tspan><tspan>(CH</tspan><tspan font-size="15" dy="10.3">2</tspan><tspan dy="-10.3">​</tspan><tspan>)</tspan></text>
<rect x="471.8" y="1006.3" width="398.2" height="32.2" fill="#fff" stroke="#8c8c8c" stroke-width="1.6"/>
<path d="M475,1022.6H529" stroke="#0a0a0a" stroke-width="3.0"/>
<path d="M599.5,1022.6H654.3" stroke="#c02832" stroke-width="3.0"/>
<path d="M733,1022.7H787.5" stroke="#2519aa" stroke-width="3.0"/>
<text x="534" y="1030.4" style="font-size:24px">TTTT</text>
<text x="659.5" y="1030.4" style="font-size:24px">GTGT</text>
<text x="792.5" y="1030.4" style="font-size:24px">GGGG</text>
</svg></body></html>
